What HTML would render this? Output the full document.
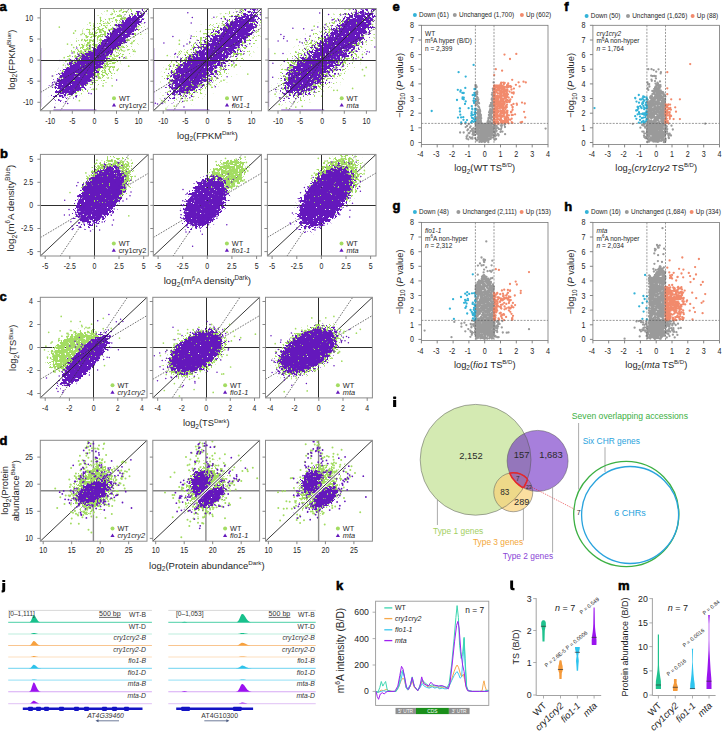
<!DOCTYPE html><html><head><meta charset="utf-8"><style>html,body{margin:0;padding:0;background:#fff;width:722px;height:731px;overflow:hidden}svg{display:block;font-family:"Liberation Sans",sans-serif}</style></head><body><svg width="722" height="731" viewBox="0 0 722 731"><defs><radialGradient id="rg"><stop offset="0" stop-opacity="1"/><stop offset="0.5" stop-opacity="1"/><stop offset="0.7" stop-opacity="0.5"/><stop offset="0.86" stop-opacity="0.15"/><stop offset="1" stop-opacity="0"/></radialGradient><radialGradient id="rgh"><stop offset="0" stop-opacity="1"/><stop offset="0.66" stop-opacity="1"/><stop offset="0.8" stop-opacity="0.5"/><stop offset="0.91" stop-opacity="0.15"/><stop offset="1" stop-opacity="0"/></radialGradient><filter id="spkP" x="-5%" y="-5%" width="110%" height="110%" color-interpolation-filters="sRGB"><feTurbulence type="fractalNoise" baseFrequency="0.45" numOctaves="2" seed="7" result="n"/><feColorMatrix in="n" type="matrix" values="0 0 0 0 0  0 0 0 0 0  0 0 0 0 0  2.1 0 0 0 -0.58" result="na"/><feComposite in="SourceAlpha" in2="na" operator="arithmetic" k1="0" k2="8" k3="-8" k4="0" result="t"/><feFlood flood-color="#6418bc"/><feComposite in2="t" operator="in"/></filter><filter id="spkG" x="-5%" y="-5%" width="110%" height="110%" color-interpolation-filters="sRGB"><feTurbulence type="fractalNoise" baseFrequency="0.45" numOctaves="2" seed="23" result="n"/><feColorMatrix in="n" type="matrix" values="0 0 0 0 0  0 0 0 0 0  0 0 0 0 0  2.1 0 0 0 -0.58" result="na"/><feComposite in="SourceAlpha" in2="na" operator="arithmetic" k1="0" k2="8" k3="-8" k4="0" result="t"/><feFlood flood-color="#a3dc62"/><feComposite in2="t" operator="in"/></filter></defs><clipPath id="clipa0"><rect x="40.4" y="8.5" width="108.1" height="102.3"/></clipPath><g clip-path="url(#clipa0)"><g filter="url(#spkG)"><ellipse cx="104.4" cy="46.1" rx="64" ry="30" transform="rotate(-47 104.4 46.1)" fill="url(#rg)" fill-opacity="0.42"/><ellipse cx="104.4" cy="70.1" rx="22" ry="13" transform="rotate(-55 104.4 70.1)" fill="url(#rg)" fill-opacity="0.28"/><ellipse cx="78.4" cy="74.1" rx="34" ry="24" transform="rotate(-45 78.4 74.1)" fill="url(#rg)" fill-opacity="0.35"/><ellipse cx="92.4" cy="40.1" rx="30" ry="14" transform="rotate(-60 92.4 40.1)" fill="url(#rg)" fill-opacity="0.2"/></g><path d="M81.6 82.4h0M122.8 18.7h0M99.4 77.1h0M73.7 33.2h0M63.4 65h0M135.1 51.5h0M63.5 86.5h0M127.2 33.2h0M127.6 40.1h0M80.1 75h0M119.6 11.1h0M76.2 85.1h0M93.2 89.2h0M141.2 17.3h0M132 42.3h0M69.9 55.5h0M65.8 61.3h0M70.4 72.5h0M88.9 81.3h0M81 34.6h0M114.2 11.2h0M86.3 36.7h0M93.1 80.5h0M127.9 19.9h0M127.9 49.8h0M133.4 51.2h0M93.2 29.1h0M72.4 81.2h0M96.5 89h0M121.6 46.6h0M128.7 66.2h0M79.4 88.4h0M69.9 62.7h0M86.1 84.9h0M96 75.6h0M70.6 61.1h0M69.2 58.9h0M112.2 85.8h0M67.5 44.1h0M60 77.8h0M119.8 14.8h0M111.6 59.5h0M134 36.9h0M119.4 50.6h0M82.6 33.4h0M93.4 75.5h0M82.1 39.7h0M61.6 86.5h0M75.4 30.8h0M117.2 70.3h0M74.4 92h0M127.3 39h0M89.9 22.9h0M100.4 17.5h0M121.1 10.3h0M73.7 47.5h0M125 24.4h0M74.2 65.2h0M79.4 100.7h0M59.3 27.1h0M64.2 57.7h0M68.3 75.4h0M71.7 44.8h0M111.5 14.4h0M73.5 51.9h0M54.9 107.5h0M131.8 43.6h0M75.6 77.2h0M75.8 75.2h0M54.6 87h0M109.2 18.8h0M75 56.6h0M103.4 67.9h0M103.1 85.9h0M72.6 67.7h0M121.9 50.5h0M108.3 77.8h0M107.2 10.8h0M133.7 28.7h0M127.7 22.4h0M124 51.1h0M126 57h0M138.1 26.7h0" stroke="#a3dc62" stroke-width="1.7" stroke-linecap="round" fill="none"/><g filter="url(#spkP)"><ellipse cx="118.4" cy="36.1" rx="48" ry="12" transform="rotate(-43.5 118.4 36.1)" fill="url(#rg)"/><ellipse cx="76.4" cy="76.1" rx="37" ry="19" transform="rotate(-43.5 76.4 76.1)" fill="url(#rg)"/><ellipse cx="94.4" cy="60.1" rx="22" ry="13" transform="rotate(-43.5 94.4 60.1)" fill="url(#rg)"/></g><path d="M94.6 76.1h0M67.7 64.1h0M91.6 80.2h0M54.2 82.1h0M65.6 101.7h0M87.2 81.7h0M119.5 57.6h0M79.6 55.4h0M58.7 94.3h0M59.6 80.3h0M76.3 97h0M78.7 56.2h0M52.5 85.1h0M79.4 87.8h0M52.3 75.9h0M60.6 86.1h0M58.3 91.4h0M101.5 51.7h0M91.2 93.7h0M96.7 76.8h0M82.2 54.8h0M88.8 93.3h0M76.8 57.9h0M72.1 53h0M70.6 59.7h0M107.5 46.9h0M59.9 60.4h0M99.1 48.6h0M96.1 65.4h0M73.8 90.4h0M61.7 73.2h0M93.5 78.4h0M54.7 107.2h0M87.1 82.3h0M57.4 80.3h0M84.2 55.6h0M61.8 76.3h0M92.8 77.5h0M67.7 103.4h0M116.6 80.1h0M124.2 57.7h0M56.1 82.2h0M92.3 75.2h0M71.1 94.1h0M95 57.5h0M59 99.9h0M76.8 48h0M89.6 45.9h0" stroke="#6418bc" stroke-width="1.5" stroke-linecap="round" fill="none"/><path d="M53.4 110.1H96.4" stroke="#6418bc" stroke-width="1.2" opacity="0.85"/><path d="M40.9 48.1V106.8" stroke="#6418bc" stroke-width="1" opacity="0.5"/><path d="M94.5 8.5V110.8M40.4 60.5H148.5" stroke="#2e2e2e" stroke-width="1.0" fill="none"/><path d="M40.4 110.8L148.5 8.5" stroke="#222" stroke-width="0.9" fill="none"/><path d="M40.4 92.5L148.5 27.7" stroke="#333" stroke-width="0.7" stroke-dasharray="1.6 1.3" fill="none"/><path d="M40.4 140.5L148.5 -20.4" stroke="#333" stroke-width="0.7" stroke-dasharray="1.6 1.3" fill="none"/></g><rect x="40.4" y="8.5" width="108.1" height="102.3" fill="none" stroke="#8a8a8a" stroke-width="1"/><text x="33.1" y="20.8" font-size="8.4" text-anchor="end" textLength="7.8" lengthAdjust="spacingAndGlyphs" fill="#1e1e1e">10</text><text x="33.1" y="41.9" font-size="8.4" text-anchor="end" textLength="3.9" lengthAdjust="spacingAndGlyphs" fill="#1e1e1e">5</text><text x="33.1" y="63" font-size="8.4" text-anchor="end" textLength="3.9" lengthAdjust="spacingAndGlyphs" fill="#1e1e1e">0</text><text x="33.1" y="84.1" font-size="8.4" text-anchor="end" textLength="6.2" lengthAdjust="spacingAndGlyphs" fill="#1e1e1e">-5</text><text x="33.1" y="105.2" font-size="8.4" text-anchor="end" textLength="10.1" lengthAdjust="spacingAndGlyphs" fill="#1e1e1e">-10</text><text x="50.2" y="124.1" font-size="8.4" text-anchor="middle" textLength="10.1" lengthAdjust="spacingAndGlyphs" fill="#1e1e1e">-10</text><text x="72.3" y="124.1" font-size="8.4" text-anchor="middle" textLength="6.2" lengthAdjust="spacingAndGlyphs" fill="#1e1e1e">-5</text><text x="94.4" y="124.1" font-size="8.4" text-anchor="middle" textLength="3.9" lengthAdjust="spacingAndGlyphs" fill="#1e1e1e">0</text><text x="116.5" y="124.1" font-size="8.4" text-anchor="middle" textLength="3.9" lengthAdjust="spacingAndGlyphs" fill="#1e1e1e">5</text><text x="138.6" y="124.1" font-size="8.4" text-anchor="middle" textLength="7.8" lengthAdjust="spacingAndGlyphs" fill="#1e1e1e">10</text><path d="M37.4 17.9H40.4M37.4 39H40.4M37.4 60.1H40.4M37.4 81.2H40.4M37.4 102.3H40.4M50.2 110.8V113.8M72.3 110.8V113.8M94.4 110.8V113.8M116.5 110.8V113.8M138.6 110.8V113.8" stroke="#7a7a7a" stroke-width="0.9" fill="none"/><circle cx="114" cy="98.2" r="2.0" fill="#a3dc62"/><path d="M114 103.1l2.1 3.5h-4.2z" fill="#6418bc"/><text x="118.9" y="100.8" font-size="7.3" fill="#1e1e1e">WT</text><text x="118.9" y="107.6" font-size="7.3" fill="#1e1e1e">cry1cry2</text><clipPath id="clipa1"><rect x="153.4" y="8.5" width="108.1" height="102.3"/></clipPath><g clip-path="url(#clipa1)"><g filter="url(#spkG)"><ellipse cx="213.4" cy="54.1" rx="76" ry="32" transform="rotate(-43.5 213.4 54.1)" fill="url(#rg)" fill-opacity="0.45"/><ellipse cx="187.4" cy="75.1" rx="28" ry="26" transform="rotate(-45 187.4 75.1)" fill="url(#rg)" fill-opacity="0.4"/></g><path d="M179.3 44.2h0M197.2 40.2h0M167.3 55.5h0M179.4 40.4h0M185.3 98h0M238.8 44h0M169.6 86.8h0M184.2 101h0M164.9 101.9h0M240.9 54.8h0M210.6 84.9h0M239.9 36.2h0M172.2 86.3h0M161.9 100.6h0M187 100.7h0M239 16h0M169.3 75.3h0M179.4 51.9h0M240.2 10h0M192.4 100.1h0M247.8 74.1h0M234.3 66.8h0M173.7 64.5h0M237.8 32.1h0M253.1 37.9h0M174.3 106.1h0M245 22h0M223.9 80.2h0M253.5 21.7h0M241.6 13.4h0M173.6 77.5h0M231.6 22.9h0M237.8 45.7h0M254.9 27.4h0M223.8 16.7h0M176.9 94.3h0M184.2 93.7h0M166.3 69.2h0M234.8 54.2h0M243.3 10.6h0M165.9 109h0M246.4 32.8h0M201.1 39.9h0M221.1 81h0M192.8 47.5h0M244.7 36.7h0" stroke="#a3dc62" stroke-width="1.7" stroke-linecap="round" fill="none"/><g filter="url(#spkP)"><ellipse cx="213.4" cy="54.1" rx="72" ry="24" transform="rotate(-43.5 213.4 54.1)" fill="url(#rg)" fill-opacity="0.6"/><ellipse cx="212.4" cy="55.1" rx="70" ry="13" transform="rotate(-43.5 212.4 55.1)" fill="url(#rg)" fill-opacity="0.9"/><ellipse cx="188.4" cy="76.1" rx="28" ry="21" transform="rotate(-45 188.4 76.1)" fill="url(#rg)" fill-opacity="0.7"/><ellipse cx="237.4" cy="31.1" rx="36" ry="16" transform="rotate(-43.5 237.4 31.1)" fill="url(#rg)" fill-opacity="0.75"/></g><path d="M234.5 22.2h0M157.5 104h0M227.2 20.2h0M246.5 46.5h0M209.1 81.4h0M191.2 36.1h0M189.7 42h0M215.3 86.8h0M243.6 54.1h0M155.4 103.3h0M238.5 28.2h0M175.5 53.6h0M184 107.1h0M250.6 21.5h0M183.8 46.1h0M217 74h0M227.1 76.8h0M235.8 25.3h0M187 44.1h0M191.2 23.1h0M190.6 38.2h0M192.3 17.5h0M209.1 79.4h0M239.1 34.8h0M172.9 36.4h0M216.1 72.1h0M182.5 90.6h0M187.8 12.8h0M241 37h0M182.7 101.5h0M209.8 78.9h0M233.9 62.9h0M247 19.2h0M244.9 26.6h0M226.4 60.4h0M185.5 90.3h0M174.8 54.3h0M189.8 97.7h0M214.3 75.9h0M162.1 103.5h0M237.5 54.7h0M175.1 87.5h0M257.4 9.8h0M236.8 24.9h0M170.5 66.2h0M181.7 90h0M174.5 95.7h0M213.9 17.2h0M239.2 47.1h0M230.1 53.1h0M163.9 43.1h0M221.3 18.5h0M249.8 43.8h0M217.4 78.1h0M230.9 56.3h0M196.1 86.4h0M236.3 18.8h0M243.9 13.9h0M242 37.9h0M232.5 105.3h0M220.8 66.3h0M177.5 57h0M202.2 86.3h0" stroke="#6418bc" stroke-width="1.5" stroke-linecap="round" fill="none"/><path d="M166.4 110.1H209.4" stroke="#6418bc" stroke-width="1.2" opacity="0.85"/><path d="M153.9 48.1V106.8" stroke="#6418bc" stroke-width="1" opacity="0.5"/><path d="M207.5 8.5V110.8M153.4 60.5H261.5" stroke="#2e2e2e" stroke-width="1.0" fill="none"/><path d="M153.4 110.8L261.5 8.5" stroke="#222" stroke-width="0.9" fill="none"/><path d="M153.4 92.5L261.5 27.7" stroke="#333" stroke-width="0.7" stroke-dasharray="1.6 1.3" fill="none"/><path d="M153.4 140.5L261.5 -20.4" stroke="#333" stroke-width="0.7" stroke-dasharray="1.6 1.3" fill="none"/></g><rect x="153.4" y="8.5" width="108.1" height="102.3" fill="none" stroke="#8a8a8a" stroke-width="1"/><text x="163.2" y="124.1" font-size="8.4" text-anchor="middle" textLength="10.1" lengthAdjust="spacingAndGlyphs" fill="#1e1e1e">-10</text><text x="185.3" y="124.1" font-size="8.4" text-anchor="middle" textLength="6.2" lengthAdjust="spacingAndGlyphs" fill="#1e1e1e">-5</text><text x="207.4" y="124.1" font-size="8.4" text-anchor="middle" textLength="3.9" lengthAdjust="spacingAndGlyphs" fill="#1e1e1e">0</text><text x="229.5" y="124.1" font-size="8.4" text-anchor="middle" textLength="3.9" lengthAdjust="spacingAndGlyphs" fill="#1e1e1e">5</text><text x="251.6" y="124.1" font-size="8.4" text-anchor="middle" textLength="7.8" lengthAdjust="spacingAndGlyphs" fill="#1e1e1e">10</text><path d="M150.4 17.9H153.4M150.4 39H153.4M150.4 60.1H153.4M150.4 81.2H153.4M150.4 102.3H153.4M163.2 110.8V113.8M185.3 110.8V113.8M207.4 110.8V113.8M229.5 110.8V113.8M251.6 110.8V113.8" stroke="#7a7a7a" stroke-width="0.9" fill="none"/><circle cx="227" cy="98.2" r="2.0" fill="#a3dc62"/><path d="M227 103.1l2.1 3.5h-4.2z" fill="#6418bc"/><text x="231.9" y="100.8" font-size="7.3" fill="#1e1e1e">WT</text><text x="231.9" y="107.6" font-size="7.3" font-style="italic" fill="#1e1e1e">fio1-1</text><clipPath id="clipa2"><rect x="268.2" y="8.5" width="108" height="102.3"/></clipPath><g clip-path="url(#clipa2)"><g filter="url(#spkG)"><ellipse cx="328.2" cy="54.1" rx="76" ry="32" transform="rotate(-43.5 328.2 54.1)" fill="url(#rg)" fill-opacity="0.45"/><ellipse cx="302.2" cy="75.1" rx="28" ry="26" transform="rotate(-45 302.2 75.1)" fill="url(#rg)" fill-opacity="0.4"/></g><path d="M337 27h0M321.9 96.2h0M296.9 39.5h0M286.4 108h0M302.2 106.3h0M307.2 42.4h0M372.5 24.6h0M314.2 26.2h0M347.8 19.3h0M359.1 36.5h0M279.3 104.3h0M336.8 28.6h0M369.9 20h0M352.6 59.2h0M286.3 69.9h0M360.7 41.8h0M362.2 37.7h0M341.2 27.6h0M352.3 50.8h0M351.7 28.7h0M364.5 75.7h0M366.2 67.4h0M360.9 59.3h0M355.8 23.4h0M333.8 90.3h0M326.3 23.9h0M291.2 61.6h0M322.7 91.1h0M328.4 27h0M362.5 69.7h0M358.4 57.5h0M305.8 48.6h0M352.6 88.4h0M311.6 40.7h0M275.1 94.2h0M370.1 19.2h0M298.5 95.5h0M274.9 53.5h0M291.2 72.7h0M339.7 75.3h0M294.5 66.9h0M358.2 29.1h0M353.9 33.3h0M339.7 20.7h0M295.8 107.1h0M362.4 54.4h0M366 41.8h0M352.2 54.7h0M337.3 90.3h0" stroke="#a3dc62" stroke-width="1.7" stroke-linecap="round" fill="none"/><g filter="url(#spkP)"><ellipse cx="328.2" cy="54.1" rx="72" ry="25" transform="rotate(-43.5 328.2 54.1)" fill="url(#rg)" fill-opacity="0.6"/><ellipse cx="327.2" cy="55.1" rx="70" ry="13" transform="rotate(-43.5 327.2 55.1)" fill="url(#rg)" fill-opacity="0.9"/><ellipse cx="303.2" cy="76.1" rx="28" ry="21" transform="rotate(-45 303.2 76.1)" fill="url(#rg)" fill-opacity="0.7"/><ellipse cx="352.2" cy="30.1" rx="38" ry="18" transform="rotate(-43.5 352.2 30.1)" fill="url(#rg)" fill-opacity="0.75"/></g><path d="M328.6 14.6h0M284 36.5h0M336.7 67.6h0M289.4 93.9h0M287 92.5h0M363.2 13.1h0M309.8 89h0M284.3 98.6h0M358.5 15.3h0M317.8 27h0M272.9 63.3h0M322.6 82.8h0M325.1 24.8h0M374.9 47h0M341.4 60.5h0M366.4 54h0M303.7 28.7h0M280.9 34.5h0M311.4 88.3h0M309.1 93.9h0M362.3 15.3h0M286.7 97h0M332.1 20.1h0M275.7 89.5h0M283 53.6h0M324.6 27.7h0M278.1 41.1h0M305.1 90.7h0M367.9 24.6h0M284.3 61.5h0M334 67.7h0M329.4 82.6h0M363.5 29.3h0M367.1 51.4h0M283.6 38.5h0M336 20.9h0M343.4 65.9h0M346.8 55.9h0M314.6 87.9h0M281.5 88.3h0M342.3 66.5h0M337.7 69.6h0M312 30.2h0M314.4 91.8h0M302.4 42.9h0M310.1 36h0M345 13.8h0M338.4 19.5h0M314 87.8h0M343.5 19.6h0M319.7 13.1h0M333.2 19.4h0M299.8 41.9h0M305.3 38.7h0M370.7 23.3h0M345.3 16.5h0M369.4 52.1h0M272.7 77.3h0M358.4 13h0M331.5 70.4h0M362.6 57.5h0M356 58.7h0M306.3 40.7h0M294.6 94.5h0M347.3 47.9h0M287.2 40.9h0M292.9 28.3h0M340.6 15.1h0M279.5 97.7h0M368.8 34.2h0" stroke="#6418bc" stroke-width="1.5" stroke-linecap="round" fill="none"/><path d="M281.2 110.1H324.2" stroke="#6418bc" stroke-width="1.2" opacity="0.85"/><path d="M268.7 48.1V106.8" stroke="#6418bc" stroke-width="1" opacity="0.5"/><path d="M322.5 8.5V110.8M268.2 60.5H376.2" stroke="#2e2e2e" stroke-width="1.0" fill="none"/><path d="M268.2 110.8L376.2 8.5" stroke="#222" stroke-width="0.9" fill="none"/><path d="M268.2 92.5L376.2 27.7" stroke="#333" stroke-width="0.7" stroke-dasharray="1.6 1.3" fill="none"/><path d="M268.2 140.6L376.2 -20.4" stroke="#333" stroke-width="0.7" stroke-dasharray="1.6 1.3" fill="none"/></g><rect x="268.2" y="8.5" width="108" height="102.3" fill="none" stroke="#8a8a8a" stroke-width="1"/><text x="278" y="124.1" font-size="8.4" text-anchor="middle" textLength="10.1" lengthAdjust="spacingAndGlyphs" fill="#1e1e1e">-10</text><text x="300.1" y="124.1" font-size="8.4" text-anchor="middle" textLength="6.2" lengthAdjust="spacingAndGlyphs" fill="#1e1e1e">-5</text><text x="322.2" y="124.1" font-size="8.4" text-anchor="middle" textLength="3.9" lengthAdjust="spacingAndGlyphs" fill="#1e1e1e">0</text><text x="344.3" y="124.1" font-size="8.4" text-anchor="middle" textLength="3.9" lengthAdjust="spacingAndGlyphs" fill="#1e1e1e">5</text><text x="366.4" y="124.1" font-size="8.4" text-anchor="middle" textLength="7.8" lengthAdjust="spacingAndGlyphs" fill="#1e1e1e">10</text><path d="M265.2 17.9H268.2M265.2 39H268.2M265.2 60.1H268.2M265.2 81.2H268.2M265.2 102.3H268.2M278 110.8V113.8M300.1 110.8V113.8M322.2 110.8V113.8M344.3 110.8V113.8M366.4 110.8V113.8" stroke="#7a7a7a" stroke-width="0.9" fill="none"/><circle cx="341.7" cy="98.2" r="2.0" fill="#a3dc62"/><path d="M341.7 103.1l2.1 3.5h-4.2z" fill="#6418bc"/><text x="346.6" y="100.8" font-size="7.3" fill="#1e1e1e">WT</text><text x="346.6" y="107.6" font-size="7.3" font-style="italic" fill="#1e1e1e">mta</text><clipPath id="clipb0"><rect x="40.4" y="154.4" width="107.9" height="101.6"/></clipPath><g clip-path="url(#clipb0)"><path d="M94.5 154.4V256M40.4 205.5H148.3" stroke="#2e2e2e" stroke-width="1.0" fill="none"/><path d="M40.4 256L148.3 154.4" stroke="#222" stroke-width="0.9" fill="none"/><path d="M40.4 237.6L148.3 173.3" stroke="#333" stroke-width="0.7" stroke-dasharray="1.6 1.3" fill="none"/><path d="M40.4 285.4L148.3 125.6" stroke="#333" stroke-width="0.7" stroke-dasharray="1.6 1.3" fill="none"/><g filter="url(#spkG)"><ellipse cx="107.4" cy="183.4" rx="36" ry="24" transform="rotate(-50 107.4 183.4)" fill="url(#rgh)" fill-opacity="0.8"/></g><path d="M85.7 194.3h0M88.7 186.7h0M99.8 210.2h0M119.5 167.8h0M105.3 202.9h0M99.8 168.2h0M99.3 208.8h0M98.8 166h0M117.6 167.6h0M115.9 161.9h0M81.4 197.3h0M84.3 205.8h0M119.6 164.4h0M87.6 185.8h0M119.2 200.3h0M128.8 175.3h0M89.5 192.3h0M89.6 175.8h0M88.2 184.4h0M85.9 172.9h0M112.3 160.3h0M102.3 164.9h0M121.2 160.6h0M103.5 201.6h0M85 206.1h0M90.2 187h0M86 183.8h0M128.5 163.2h0M112.6 204.6h0M128.8 215.8h0M91.2 181h0M70 192.5h0M115.1 203.4h0M123.6 188.9h0M118.2 165.5h0M108.3 161.5h0M117 168.1h0M97.7 205.7h0M126.6 181.6h0M95 198.3h0M123.9 170.6h0M86 200.8h0M90.7 181.8h0M129.3 166.6h0M128 158.5h0M92.2 197.9h0M135.1 176.3h0M98.7 210.8h0M95.5 202.7h0M112.1 165.7h0M94.7 179.4h0M120.4 186.5h0M95.1 164.1h0M95.7 177.5h0M126.1 187.8h0M120.5 189h0M109.5 198.7h0M102.8 205.3h0M91.2 180.4h0M121.5 196.9h0M98 166.3h0M106.2 199.6h0M96.9 160.2h0M128.8 183.6h0M86.6 201.3h0" stroke="#a3dc62" stroke-width="1.7" stroke-linecap="round" fill="none"/><g filter="url(#spkP)"><ellipse cx="100.4" cy="195.4" rx="41" ry="23" transform="rotate(-55 100.4 195.4)" fill="url(#rgh)"/></g><path d="M102.2 222.1h0M113.3 211.9h0M77.4 210.6h0M83.9 222.9h0M100.1 175.8h0M105.9 175.2h0M116 198.1h0M114.2 195.7h0M89 218.1h0M82.7 210.4h0M105.3 175h0M72.2 226h0M105.7 213.2h0M116.8 190.3h0M115.4 179.3h0M73.2 228.4h0M81.7 214.8h0M111.1 215.1h0M131 192h0M110.2 170h0M104.4 163.9h0M112.7 213h0M121.7 191.6h0M69 209.6h0M69.4 215h0M114.2 209.1h0M90.6 184.8h0M118.8 162.6h0M112.4 178.3h0M87.1 193.6h0M109 205.8h0M75.7 214h0M109.4 167.5h0M93.3 215.7h0M93.1 180.8h0M122.1 165.5h0M79.9 202.2h0M96.6 226.2h0M119.2 201.5h0M77.3 205.6h0M96.2 177.2h0M114.5 193.9h0M92.7 173.2h0M120.2 174.5h0M84.8 215.1h0M72.2 229.6h0M115.7 178.1h0M86.1 182.4h0M113.8 166h0M97.5 173.3h0M121.9 185h0M81.3 219.7h0M64.4 215h0M95.6 214.6h0M79.2 212.3h0M101.3 171.8h0M90.5 230.9h0M77.8 216.6h0M102.9 213.9h0M130 195.8h0M123 200.9h0M107.3 166.8h0M116.2 196h0M78.8 201.1h0M113 177.2h0M116.1 169.8h0M115.3 165.5h0M104.1 209.7h0M83.7 207.2h0M78 182.5h0M70.9 221.8h0M91.4 219.6h0M97.7 218.1h0M112.1 201.9h0M116.2 199.4h0M126.7 199.1h0M118.9 185.7h0M78 209.8h0M111.3 204h0M130.7 180.3h0M121.2 186.3h0M83.1 187h0M87.4 189.5h0M64.7 200.3h0M112.3 225h0M108.6 174.1h0M80.2 217.9h0M118.2 170.6h0M93.1 184h0M120.2 199.4h0M124.5 191.9h0M79.1 227.1h0M117.7 169.3h0M99.6 230.1h0M113.5 220.1h0M93.5 216.6h0M80.2 218h0M114.7 181.7h0M76.7 185.8h0" stroke="#6418bc" stroke-width="1.5" stroke-linecap="round" fill="none"/></g><rect x="40.4" y="154.4" width="107.9" height="101.6" fill="none" stroke="#8a8a8a" stroke-width="1"/><text x="33.1" y="162.2" font-size="8.4" text-anchor="end" textLength="3.9" lengthAdjust="spacingAndGlyphs" fill="#1e1e1e">5</text><text x="33.1" y="185.2" font-size="8.4" text-anchor="end" textLength="9.7" lengthAdjust="spacingAndGlyphs" fill="#1e1e1e">2.5</text><text x="33.1" y="208.3" font-size="8.4" text-anchor="end" textLength="3.9" lengthAdjust="spacingAndGlyphs" fill="#1e1e1e">0</text><text x="33.1" y="231.4" font-size="8.4" text-anchor="end" textLength="12" lengthAdjust="spacingAndGlyphs" fill="#1e1e1e">-2.5</text><text x="33.1" y="254.5" font-size="8.4" text-anchor="end" textLength="6.2" lengthAdjust="spacingAndGlyphs" fill="#1e1e1e">-5</text><text x="45.2" y="269.2" font-size="8.4" text-anchor="middle" textLength="6.2" lengthAdjust="spacingAndGlyphs" fill="#1e1e1e">-5</text><text x="69.8" y="269.2" font-size="8.4" text-anchor="middle" textLength="12" lengthAdjust="spacingAndGlyphs" fill="#1e1e1e">-2.5</text><text x="94.4" y="269.2" font-size="8.4" text-anchor="middle" textLength="3.9" lengthAdjust="spacingAndGlyphs" fill="#1e1e1e">0</text><text x="119" y="269.2" font-size="8.4" text-anchor="middle" textLength="9.7" lengthAdjust="spacingAndGlyphs" fill="#1e1e1e">2.5</text><text x="143.7" y="269.2" font-size="8.4" text-anchor="middle" textLength="3.9" lengthAdjust="spacingAndGlyphs" fill="#1e1e1e">5</text><path d="M37.4 159.2H40.4M37.4 182.3H40.4M37.4 205.4H40.4M37.4 228.5H40.4M37.4 251.6H40.4M45.2 256V259M69.8 256V259M94.4 256V259M119 256V259M143.7 256V259" stroke="#7a7a7a" stroke-width="0.9" fill="none"/><circle cx="113.8" cy="243.4" r="2.0" fill="#a3dc62"/><path d="M113.8 248.3l2.1 3.5h-4.2z" fill="#6418bc"/><text x="118.7" y="246" font-size="7.3" fill="#1e1e1e">WT</text><text x="118.7" y="252.8" font-size="7.3" fill="#1e1e1e">cry1cry2</text><clipPath id="clipb1"><rect x="153.3" y="154.4" width="108.1" height="101.6"/></clipPath><g clip-path="url(#clipb1)"><path d="M207.5 154.4V256M153.3 205.5H261.4" stroke="#2e2e2e" stroke-width="1.0" fill="none"/><path d="M153.3 256L261.4 154.4" stroke="#222" stroke-width="0.9" fill="none"/><path d="M153.3 237.5L261.4 173.2" stroke="#333" stroke-width="0.7" stroke-dasharray="1.6 1.3" fill="none"/><path d="M153.3 285.2L261.4 125.4" stroke="#333" stroke-width="0.7" stroke-dasharray="1.6 1.3" fill="none"/><g filter="url(#spkG)"><ellipse cx="227.3" cy="175.4" rx="26" ry="17" transform="rotate(-35 227.3 175.4)" fill="url(#rgh)" fill-opacity="0.8"/></g><path d="M205 185.4h0M225.7 163.3h0M227.7 163.2h0M216.1 161.5h0M217.5 172.7h0M241.2 166.9h0M227 192.2h0M230.8 186h0M244.3 179.8h0M245.2 171.5h0M242.7 180.7h0M247.9 166.6h0M246.4 162.4h0M245.3 182h0M224.1 192.8h0M225.3 189.5h0M245.1 157.1h0M240.7 181.2h0M239.2 168.1h0M204.8 181.8h0M218.1 198.2h0M215.8 188.3h0M243.1 170h0M240.9 162.2h0M217.7 184.7h0M229 164h0M223.9 162.8h0M235.6 165.1h0M207.6 174.2h0M234.7 164.9h0M231.6 188.6h0M216.1 174.6h0M237.1 186.2h0M221 200.9h0M233.2 182h0M215.3 178h0M225.5 158.3h0M247.8 170.9h0M214.6 171.8h0M229.5 163h0M223.3 164.8h0M218.5 171h0M234.6 185.7h0M225.3 186h0M205.2 181.3h0M239.4 166.3h0M233.1 186.3h0M234.9 164.2h0M213.1 179.1h0M232.3 162.8h0M218.2 191.9h0M234.8 181.3h0M205 188.2h0" stroke="#a3dc62" stroke-width="1.7" stroke-linecap="round" fill="none"/><g filter="url(#spkP)"><ellipse cx="205.3" cy="202.4" rx="35" ry="22" transform="rotate(-55 205.3 202.4)" fill="url(#rgh)"/></g><path d="M228.4 178.9h0M192.6 246.2h0M213.7 213h0M228.2 174h0M189.5 232h0M224.7 198h0M217.4 189.1h0M221.6 193.8h0M202.3 234.2h0M195.3 219.4h0M208.3 219.4h0M222.8 179.2h0M209.1 179.8h0M188.1 201.5h0M200 185.5h0M199.7 189.6h0M186.1 226h0M191.8 217.4h0M190.8 225h0M190.9 220.6h0M183 189.4h0M200.3 228.2h0M199.7 219.3h0M207.8 184.2h0M206.6 178.4h0M204.2 180.7h0M218.9 209.3h0M203 221h0M197.7 190h0M202.9 181.2h0M209 218.2h0M197.6 223.1h0M187.7 203.1h0M218.8 192.2h0M215.8 210.4h0M203.8 184.9h0M216.9 218.3h0M185.2 208.7h0M205.5 182h0M186 231.9h0M211 219.2h0M180.6 217.5h0M220.7 180.9h0M205.2 180.3h0M190 200.5h0M187.1 193.6h0M208.6 224.7h0M180.5 210.6h0M195 216.1h0M191.6 210.6h0M233.2 179.6h0M220.4 197.2h0M199.2 217.7h0M186.5 211h0M190.7 197.4h0M206.6 175.7h0M219.4 188.9h0M202 182.6h0M208.3 185.4h0M196.6 181.8h0M226.8 224.7h0M194.1 222.9h0M214.1 184h0M219.2 179.5h0M220.3 194.2h0M218.6 193h0M208 218.4h0M190.5 203.5h0M222.8 194.1h0M202 186.1h0M216.8 175.6h0M212.4 219.4h0M231.7 182h0M185.8 217h0M211.7 175.1h0M197.2 217.3h0M213.9 211.5h0M182.8 200.7h0M202.8 217.5h0M190 218.9h0M209.1 214.3h0M203.5 188.4h0M198.4 217.9h0M217.1 189.7h0M213.9 183.7h0M181.1 214.8h0M196.9 190.7h0M194.3 198.1h0M224.3 197.1h0M213.4 219.7h0M212.5 213.2h0M211.5 214.8h0M225.1 202.8h0M192.7 218.7h0" stroke="#6418bc" stroke-width="1.5" stroke-linecap="round" fill="none"/></g><rect x="153.3" y="154.4" width="108.1" height="101.6" fill="none" stroke="#8a8a8a" stroke-width="1"/><text x="158.1" y="269.2" font-size="8.4" text-anchor="middle" textLength="6.2" lengthAdjust="spacingAndGlyphs" fill="#1e1e1e">-5</text><text x="182.7" y="269.2" font-size="8.4" text-anchor="middle" textLength="12" lengthAdjust="spacingAndGlyphs" fill="#1e1e1e">-2.5</text><text x="207.3" y="269.2" font-size="8.4" text-anchor="middle" textLength="3.9" lengthAdjust="spacingAndGlyphs" fill="#1e1e1e">0</text><text x="231.9" y="269.2" font-size="8.4" text-anchor="middle" textLength="9.7" lengthAdjust="spacingAndGlyphs" fill="#1e1e1e">2.5</text><text x="256.6" y="269.2" font-size="8.4" text-anchor="middle" textLength="3.9" lengthAdjust="spacingAndGlyphs" fill="#1e1e1e">5</text><path d="M150.3 159.2H153.3M150.3 182.3H153.3M150.3 205.4H153.3M150.3 228.5H153.3M150.3 251.6H153.3M158.1 256V259M182.7 256V259M207.3 256V259M231.9 256V259M256.6 256V259" stroke="#7a7a7a" stroke-width="0.9" fill="none"/><circle cx="226.9" cy="243.4" r="2.0" fill="#a3dc62"/><path d="M226.9 248.3l2.1 3.5h-4.2z" fill="#6418bc"/><text x="231.8" y="246" font-size="7.3" fill="#1e1e1e">WT</text><text x="231.8" y="252.8" font-size="7.3" font-style="italic" fill="#1e1e1e">fio1-1</text><clipPath id="clipb2"><rect x="267.4" y="154.4" width="108.6" height="101.6"/></clipPath><g clip-path="url(#clipb2)"><path d="M321.5 154.4V256M267.4 205.5H376" stroke="#2e2e2e" stroke-width="1.0" fill="none"/><path d="M267.4 256L376 154.4" stroke="#222" stroke-width="0.9" fill="none"/><path d="M267.4 237.4L376 173" stroke="#333" stroke-width="0.7" stroke-dasharray="1.6 1.3" fill="none"/><path d="M267.4 284.9L376 125" stroke="#333" stroke-width="0.7" stroke-dasharray="1.6 1.3" fill="none"/><g filter="url(#spkG)"><ellipse cx="334.4" cy="184.4" rx="40" ry="25" transform="rotate(-52 334.4 184.4)" fill="url(#rgh)" fill-opacity="0.8"/></g><path d="M305.8 196.7h0M318.3 158.3h0M318.3 214.7h0M354.6 179.5h0M308.8 206.2h0M322.5 167.2h0M313.4 202.8h0M352.7 179.1h0M351.9 175.3h0M327.2 160.9h0M323.1 200.4h0M346.6 164.3h0M341.2 161.9h0M326.8 208.3h0M345.3 197h0M330.8 208.2h0M312.3 192.2h0M317.7 208.4h0M318 196.1h0M364.1 173.8h0M349.2 194.1h0M364.4 170.3h0M340.9 159.2h0M360.1 181.2h0M353.6 167.3h0M343 197.5h0M337.1 206.3h0M348.6 169.4h0M328.9 162.6h0M360.6 168.2h0M340.1 166.1h0M325.9 167.3h0M311.9 175.5h0M336.4 203.4h0M324.6 167.1h0M333.9 161.7h0M316.8 174.1h0M347.1 169h0M312 218.3h0M347.4 167.5h0M338.1 197.5h0M312.2 188.7h0M323.6 203.9h0M351.8 171.7h0M325 161.1h0M332.7 204.4h0M344.4 166.6h0M349.3 174.3h0M312.9 193h0M341.8 158.1h0M321.6 199.4h0M348.5 188.3h0M314.4 173h0M352.2 179.3h0M309.5 208.4h0M333.5 201.3h0M324.1 177.8h0M327.3 173.9h0M348.6 195.1h0" stroke="#a3dc62" stroke-width="1.7" stroke-linecap="round" fill="none"/><g filter="url(#spkP)"><ellipse cx="325.4" cy="197.4" rx="45" ry="24" transform="rotate(-52 325.4 197.4)" fill="url(#rgh)"/></g><path d="M307.9 196.4h0M341.4 195.3h0M309.3 194.6h0M319.2 227h0M312.7 217.9h0M339.8 214.7h0M314.8 191.3h0M340.3 205.1h0M360.4 191.3h0M326.5 218.3h0M309.1 194.5h0M331.7 162.1h0M338.1 178.7h0M340.9 175.6h0M336.7 206.4h0M350 210.2h0M347.7 174.6h0M352.9 174.3h0M296.9 227.9h0M333.8 177h0M341.3 209.5h0M346.7 173h0M290.7 224h0M319.9 219.9h0M313.2 177.4h0M349.3 163.7h0M311.9 217.7h0M313 223.5h0M359.4 186.5h0M292.4 212.9h0M340 180.4h0M316.3 184.7h0M319.2 217.3h0M303.4 221.1h0M324.2 214.7h0M307.1 195.7h0M342.6 198.4h0M303.7 220.2h0M350.7 178.8h0M357.6 188.5h0M360.6 181.6h0M306.5 211.9h0M332.3 209.4h0M301.3 197.8h0M304.4 187.4h0M341.8 186.4h0M321.9 218.5h0M299 206.1h0M347.8 175.4h0M341.8 174.1h0M304.1 206.7h0M345.7 174.8h0M319.9 218.5h0M316.8 220.2h0M318 218h0M356.1 162.1h0M352.5 203.3h0M315 230.1h0M306 198.5h0M325.3 218.3h0M306.8 199.3h0M333.1 217.4h0M334.2 212.3h0M303.8 208.7h0M290.1 223h0M310.1 198.4h0M336.9 175.7h0M343.7 186.4h0M318.9 185.5h0M328.5 175.4h0M312.3 193.7h0M336.2 167h0M342.3 185.7h0M350.1 198.1h0M300.5 192.8h0M324.5 215.4h0M317.9 217.7h0M352.3 182.7h0M315.4 227.6h0M304.1 205h0M299.3 201h0M311.6 218.3h0M306.3 193h0M335.6 215.7h0M321.5 217.7h0M319 219.6h0M319.8 227.5h0M339.8 207.5h0M360.8 176.5h0M328.4 212.6h0M313 215.1h0M312.8 182.4h0M311.7 221.6h0M324.2 176.2h0M353.4 176.9h0M323.9 225.2h0M349.7 216.9h0M343.9 188.6h0M301 223.3h0M322.4 215.9h0" stroke="#6418bc" stroke-width="1.5" stroke-linecap="round" fill="none"/></g><rect x="267.4" y="154.4" width="108.6" height="101.6" fill="none" stroke="#8a8a8a" stroke-width="1"/><text x="272.1" y="269.2" font-size="8.4" text-anchor="middle" textLength="6.2" lengthAdjust="spacingAndGlyphs" fill="#1e1e1e">-5</text><text x="296.8" y="269.2" font-size="8.4" text-anchor="middle" textLength="12" lengthAdjust="spacingAndGlyphs" fill="#1e1e1e">-2.5</text><text x="321.4" y="269.2" font-size="8.4" text-anchor="middle" textLength="3.9" lengthAdjust="spacingAndGlyphs" fill="#1e1e1e">0</text><text x="346" y="269.2" font-size="8.4" text-anchor="middle" textLength="9.7" lengthAdjust="spacingAndGlyphs" fill="#1e1e1e">2.5</text><text x="370.6" y="269.2" font-size="8.4" text-anchor="middle" textLength="3.9" lengthAdjust="spacingAndGlyphs" fill="#1e1e1e">5</text><path d="M264.4 159.2H267.4M264.4 182.3H267.4M264.4 205.4H267.4M264.4 228.5H267.4M264.4 251.6H267.4M272.1 256V259M296.8 256V259M321.4 256V259M346 256V259M370.6 256V259" stroke="#7a7a7a" stroke-width="0.9" fill="none"/><circle cx="341.5" cy="243.4" r="2.0" fill="#a3dc62"/><path d="M341.5 248.3l2.1 3.5h-4.2z" fill="#6418bc"/><text x="346.4" y="246" font-size="7.3" fill="#1e1e1e">WT</text><text x="346.4" y="252.8" font-size="7.3" font-style="italic" fill="#1e1e1e">mta</text><clipPath id="clipc0"><rect x="40.3" y="297.3" width="106.7" height="100.6"/></clipPath><g clip-path="url(#clipc0)"><path d="M93.5 297.3V397.9M40.3 347.5H147" stroke="#2e2e2e" stroke-width="1.0" fill="none"/><g filter="url(#spkG)"><ellipse cx="75.6" cy="351.5" rx="34" ry="21" transform="rotate(-30 75.6 351.5)" fill="url(#rgh)" fill-opacity="0.9"/></g><path d="M90.6 337.1h0M65.4 372.6h0M102.2 339.2h0M104.4 337h0M61.2 316.4h0M103.3 318.3h0M80.2 321.5h0M90.3 356.4h0M81.7 325.3h0M67.4 379h0M83.4 366h0M89.3 332.7h0M67.5 377.9h0M87 360.1h0M69.3 338.6h0M61.4 343.3h0M86 336.5h0M95.9 355.8h0M44.5 349.8h0M104.5 365.6h0M82.1 326.6h0M86 327.4h0M61.3 346.4h0M68.3 334.9h0M60.1 330.8h0M103.6 342h0M48.7 332.3h0M86.8 360.2h0M119.5 338.1h0M67 333.4h0M89.5 335.8h0M102.1 355.1h0M102.1 348.8h0M47.5 357.2h0M89.5 336.7h0M91.6 324.2h0M72.9 336.8h0M79.3 367.8h0M74.6 374.9h0M70.5 330.3h0M92.7 333.3h0M56.7 366.1h0M71 321.4h0M45.9 346.2h0M57.8 347.5h0M54.2 351.9h0M98.6 349.7h0M80.6 369.8h0M89.5 327.7h0M88 328.1h0M88.6 361.1h0M58.9 349.7h0M92 331.6h0M94.5 341.7h0M62.3 382.8h0M69.9 370.1h0M67 340h0M75.2 369.5h0M76.7 333.4h0M84.2 363.9h0M81.2 333h0M93.9 333.5h0M83.7 367.8h0M51 343.1h0M51.6 351.6h0M61.9 336.2h0M91.2 356.8h0M103.7 339h0M95.4 334.4h0M61.1 365.4h0M99.7 351.9h0M86.5 360h0M59.1 370.3h0M111.3 328.4h0M103.2 328.7h0M68.6 339.1h0M68 333.3h0M67.9 339.6h0M70.4 379.9h0M97.1 340.1h0M76.1 373.6h0M102.2 349h0M55.7 347.2h0M50.6 358h0M71.4 330.5h0M75.5 334.4h0M95.9 331.9h0M79.9 378.5h0M74.1 332.1h0M95.9 347.6h0M52.1 341.9h0M82.2 334.1h0M59.1 338.7h0M65.1 370.1h0M91.2 338.5h0M66.5 339.6h0M55 368.6h0M52.8 356.2h0" stroke="#a3dc62" stroke-width="1.7" stroke-linecap="round" fill="none"/><g filter="url(#spkP)"><ellipse cx="85.1" cy="359.5" rx="42" ry="13" transform="rotate(-47.7 85.1 359.5)" fill="url(#rgh)"/></g><path d="M65.9 381.1h0M81.6 343.9h0M103.6 351.2h0M65.9 385.6h0M56.6 388.4h0M93.4 341h0M120.6 319.3h0M96.3 334.1h0M67.5 358.6h0M82.4 376.1h0M110.9 347.5h0M89.4 374.9h0M65.3 380.9h0M89.3 367.6h0M64.8 370.1h0M89.7 369.4h0M65.6 373h0M75.2 355.8h0M69.8 346.1h0M79.3 337.4h0M102.4 351.9h0M62.6 392.7h0M95.1 361.7h0M118.4 349.8h0M92.6 340.7h0M107.1 357.2h0M67.2 374.9h0M108.9 314.4h0M66.5 367.5h0M58 391.5h0M118.8 324.3h0M89.3 369.6h0M94.6 363.5h0M64.4 383.2h0M103.9 346.7h0M76.9 381.5h0M77.1 344.2h0M111.8 343h0M66.7 375.1h0M68.5 385.2h0M68.7 366.4h0M80.2 351.8h0M107.8 350.3h0M108.4 330.1h0M75 341.3h0M46.5 377.9h0M99 338.1h0M116.3 321.7h0M59.2 376.1h0M107.4 338.2h0M63.2 390.7h0M80.5 351h0M109.8 342.6h0M97.7 320.8h0M75.5 347h0M97.6 369.9h0M79.6 348.9h0M103.7 359.6h0M68.1 370.5h0M75.2 355.2h0M63.4 383.6h0M122.9 321.5h0M98.8 338.5h0M105.9 332.9h0M109.3 357.4h0M57.3 383.2h0M82.7 344.9h0" stroke="#6418bc" stroke-width="1.5" stroke-linecap="round" fill="none"/><path d="M40.3 397.9L147 297.3" stroke="#222" stroke-width="0.9" fill="none"/><path d="M40.3 379.3L147 315.6" stroke="#333" stroke-width="0.7" stroke-dasharray="1.6 1.3" fill="none"/><path d="M40.3 426.5L147 268.3" stroke="#333" stroke-width="0.7" stroke-dasharray="1.6 1.3" fill="none"/></g><rect x="40.3" y="297.3" width="106.7" height="100.6" fill="none" stroke="#8a8a8a" stroke-width="1"/><text x="33" y="304.4" font-size="8.4" text-anchor="end" textLength="3.9" lengthAdjust="spacingAndGlyphs" fill="#1e1e1e">4</text><text x="33" y="327.4" font-size="8.4" text-anchor="end" textLength="3.9" lengthAdjust="spacingAndGlyphs" fill="#1e1e1e">2</text><text x="33" y="350.4" font-size="8.4" text-anchor="end" textLength="3.9" lengthAdjust="spacingAndGlyphs" fill="#1e1e1e">0</text><text x="33" y="373.4" font-size="8.4" text-anchor="end" textLength="6.2" lengthAdjust="spacingAndGlyphs" fill="#1e1e1e">-2</text><text x="33" y="396.4" font-size="8.4" text-anchor="end" textLength="6.2" lengthAdjust="spacingAndGlyphs" fill="#1e1e1e">-4</text><text x="45.2" y="411.2" font-size="8.4" text-anchor="middle" textLength="6.2" lengthAdjust="spacingAndGlyphs" fill="#1e1e1e">-4</text><text x="69.4" y="411.2" font-size="8.4" text-anchor="middle" textLength="6.2" lengthAdjust="spacingAndGlyphs" fill="#1e1e1e">-2</text><text x="93.6" y="411.2" font-size="8.4" text-anchor="middle" textLength="3.9" lengthAdjust="spacingAndGlyphs" fill="#1e1e1e">0</text><text x="117.8" y="411.2" font-size="8.4" text-anchor="middle" textLength="3.9" lengthAdjust="spacingAndGlyphs" fill="#1e1e1e">2</text><text x="142" y="411.2" font-size="8.4" text-anchor="middle" textLength="3.9" lengthAdjust="spacingAndGlyphs" fill="#1e1e1e">4</text><path d="M37.3 301.5H40.3M37.3 324.5H40.3M37.3 347.5H40.3M37.3 370.5H40.3M37.3 393.5H40.3M45.2 397.9V400.9M69.4 397.9V400.9M93.6 397.9V400.9M117.8 397.9V400.9M142 397.9V400.9" stroke="#7a7a7a" stroke-width="0.9" fill="none"/><circle cx="112.5" cy="385.3" r="2.0" fill="#a3dc62"/><path d="M112.5 390.2l2.1 3.5h-4.2z" fill="#6418bc"/><text x="117.4" y="387.9" font-size="7.3" fill="#1e1e1e">WT</text><text x="117.4" y="394.7" font-size="7.3" font-style="italic" fill="#1e1e1e">cry1cry2</text><clipPath id="clipc1"><rect x="152.8" y="297.3" width="106.8" height="100.6"/></clipPath><g clip-path="url(#clipc1)"><path d="M206.5 297.3V397.9M152.8 347.5H259.6" stroke="#2e2e2e" stroke-width="1.0" fill="none"/><path d="M152.8 397.9L259.6 297.3" stroke="#222" stroke-width="0.9" fill="none"/><path d="M152.8 379.3L259.6 315.6" stroke="#333" stroke-width="0.7" stroke-dasharray="1.6 1.3" fill="none"/><path d="M152.8 426.5L259.6 268.2" stroke="#333" stroke-width="0.7" stroke-dasharray="1.6 1.3" fill="none"/><g filter="url(#spkG)"><ellipse cx="196.1" cy="352.5" rx="39" ry="23" transform="rotate(-32 196.1 352.5)" fill="url(#rgh)" fill-opacity="0.85"/></g><path d="M187.6 329.5h0M221.6 345.4h0M215.8 344.8h0M198.7 378.1h0M227 332.2h0M234.5 336.3h0M215.5 354.2h0M208.5 335.5h0M215 355.6h0M205 366.8h0M240.7 337.7h0M180.4 371.2h0M230.6 367h0M210.3 327.7h0M194.1 338.4h0M214.9 351.5h0M224.8 349.7h0M214.7 360.8h0M224.6 328.8h0M233.3 331.3h0M189.9 339.9h0M184.4 370.7h0M178 333.8h0M213.2 338.3h0M180 334.1h0M196.1 368h0M178.4 368.4h0M198.8 327.3h0M216.5 353.5h0M229.6 324.4h0M255.4 334.2h0M187.5 333.2h0M187.1 341.3h0M160.4 355.7h0M173.4 371.8h0M174.2 344h0M181 372.2h0M194 377.3h0M189.9 336.8h0M173.9 369.3h0M173.4 339.5h0M182.4 344.4h0M164.3 390.5h0M209.5 334.8h0M174 345.7h0M213.5 328.1h0M227 355.2h0M183.8 375.5h0M211.6 324.4h0M189.5 379.3h0M226.3 340.3h0M221.8 374.1h0M209.2 362.9h0M221 354.9h0M168.1 367.9h0M223.6 373.9h0M222 356.6h0M177.2 351.3h0M204.1 336h0M166.8 350.2h0M181.7 340.8h0M193.1 329.7h0M194.1 389.5h0M166.3 374.4h0M208.8 369.1h0M169.8 371.6h0M180.5 386.8h0M200.7 366.1h0M174.4 383.6h0M182.3 368.6h0M200.2 330.8h0M173.7 372.3h0M178.3 338.5h0M178.1 330.3h0M213.2 392.4h0M191.6 336.8h0M176.3 343.8h0M214.9 360.1h0M231.4 340.9h0M187 370.5h0M181.8 347.2h0M209.7 358.5h0M218.2 356.1h0M163.4 343.1h0M206.1 335.3h0M179.4 396h0" stroke="#a3dc62" stroke-width="1.7" stroke-linecap="round" fill="none"/><g filter="url(#spkP)"><ellipse cx="196.1" cy="352" rx="36.5" ry="21" transform="rotate(-32 196.1 352)" fill="url(#rgh)"/></g><path d="M176.1 361.5h0M215 347.1h0M208.4 333.2h0M187.5 342h0M179.4 345.5h0M192.7 333h0M192.1 373.3h0M214.4 341.5h0M208.9 332.9h0M165.7 351.8h0M214.2 327.2h0M210.8 354.4h0M200 332h0M220.8 360.1h0M194.9 381.4h0M178.6 366.8h0M166.9 350.3h0M173.8 359.8h0M173 327.3h0M182.5 345h0M179.1 364.2h0M177.8 360.5h0M162.2 360.5h0M193.3 371.1h0M190.4 332.6h0M166.5 372.4h0M213.7 336.6h0M212.1 352.5h0M183.4 385.5h0M217 372.3h0M166.5 358.2h0M214.7 349.9h0M214.7 337.4h0M176.3 376.7h0M184.7 344.5h0M176.7 362.5h0M197.6 329h0M239.7 339.8h0M190.7 339h0M196.6 331.1h0M228.2 350.1h0M202.7 363.2h0M170.1 367.6h0M194 333.8h0M215.5 332.6h0M171.7 377.7h0M203 334.8h0M169.9 363.4h0M184 367.4h0M171 377.1h0M163.3 369.2h0M174.9 339.8h0M194.2 370.4h0M170.7 364.9h0M217.1 338h0M171 350.8h0M210 324.4h0M172.9 358.9h0M225.6 333.6h0M221.1 349.2h0M228.6 348.7h0M214 350.4h0M190.5 369h0M216.2 337.8h0M159.7 353h0M196.3 370.2h0M194.4 376.2h0M176.5 354.5h0M181.4 370.7h0M222.9 336h0M177 358.6h0M222.7 329.8h0M157.5 380.8h0M209.6 328.4h0M218.5 350.5h0M214.9 328.7h0M175.2 362h0M218.1 328.7h0M165.8 378.6h0M228.7 341.5h0M175.1 357.3h0M198.4 336.5h0M207.1 321.6h0M154.3 355.8h0M195 383h0M182 335.4h0M208.4 331.3h0M219.7 336h0M173.6 368h0M207.3 371.2h0M160 366.7h0M182.2 386.7h0" stroke="#6418bc" stroke-width="1.5" stroke-linecap="round" fill="none"/></g><rect x="152.8" y="297.3" width="106.8" height="100.6" fill="none" stroke="#8a8a8a" stroke-width="1"/><text x="157.7" y="411.2" font-size="8.4" text-anchor="middle" textLength="6.2" lengthAdjust="spacingAndGlyphs" fill="#1e1e1e">-4</text><text x="181.9" y="411.2" font-size="8.4" text-anchor="middle" textLength="6.2" lengthAdjust="spacingAndGlyphs" fill="#1e1e1e">-2</text><text x="206.1" y="411.2" font-size="8.4" text-anchor="middle" textLength="3.9" lengthAdjust="spacingAndGlyphs" fill="#1e1e1e">0</text><text x="230.3" y="411.2" font-size="8.4" text-anchor="middle" textLength="3.9" lengthAdjust="spacingAndGlyphs" fill="#1e1e1e">2</text><text x="254.5" y="411.2" font-size="8.4" text-anchor="middle" textLength="3.9" lengthAdjust="spacingAndGlyphs" fill="#1e1e1e">4</text><path d="M149.8 301.5H152.8M149.8 324.5H152.8M149.8 347.5H152.8M149.8 370.5H152.8M149.8 393.5H152.8M157.7 397.9V400.9M181.9 397.9V400.9M206.1 397.9V400.9M230.3 397.9V400.9M254.5 397.9V400.9" stroke="#7a7a7a" stroke-width="0.9" fill="none"/><circle cx="225.1" cy="385.3" r="2.0" fill="#a3dc62"/><path d="M225.1 390.2l2.1 3.5h-4.2z" fill="#6418bc"/><text x="230" y="387.9" font-size="7.3" fill="#1e1e1e">WT</text><text x="230" y="394.7" font-size="7.3" font-style="italic" fill="#1e1e1e">fio1-1</text><clipPath id="clipc2"><rect x="265.5" y="297.3" width="106.9" height="100.6"/></clipPath><g clip-path="url(#clipc2)"><path d="M318.5 297.3V397.9M265.5 347.5H372.4" stroke="#2e2e2e" stroke-width="1.0" fill="none"/><path d="M265.5 397.9L372.4 297.3" stroke="#222" stroke-width="0.9" fill="none"/><path d="M265.5 379.3L372.4 315.5" stroke="#333" stroke-width="0.7" stroke-dasharray="1.6 1.3" fill="none"/><path d="M265.5 426.4L372.4 268.2" stroke="#333" stroke-width="0.7" stroke-dasharray="1.6 1.3" fill="none"/><g filter="url(#spkG)"><ellipse cx="307.8" cy="350.5" rx="42" ry="24" transform="rotate(-32 307.8 350.5)" fill="url(#rgh)" fill-opacity="0.85"/></g><path d="M325.7 356.1h0M334.4 350.5h0M318.6 364.9h0M289.9 369.2h0M325.8 317.8h0M330.1 335.6h0M287 354h0M285.3 371.2h0M286.2 358.1h0M332.7 343h0M320.9 357.2h0M338.5 352.8h0M304.9 330.6h0M331 352.9h0M296.3 341.7h0M276.8 367.5h0M289.1 363.8h0M356.4 333.2h0M287.7 364.1h0M309.6 367.2h0M315.3 370.7h0M325.6 354.2h0M288.5 369.6h0M308.1 333.2h0M282.2 354.6h0M297.8 372.9h0M325.1 358.2h0M282.6 348.1h0M360.3 329.3h0M296.3 367.1h0M341.8 361.2h0M319.9 320.8h0M275.2 343.7h0M339 333.3h0M319 331.3h0M343.6 333h0M311.8 317.9h0M329 327.5h0M326 333.3h0M301.6 367.5h0M325.9 355.9h0M324.3 326.1h0M320.1 327.1h0M287.4 353.2h0M316 331.9h0M288.3 363h0M333.9 316.4h0M317.8 369.1h0M317 326.4h0M336 346.3h0M305.6 330.5h0M290.9 337.8h0M282.3 368.4h0M319.2 360.7h0M301.9 330.2h0M315.4 325.3h0M294.8 339.1h0M295.7 376.3h0M317.7 332.4h0M322.5 331.4h0M280.8 363.6h0M289.8 341.5h0M334.1 333.7h0M322.5 360.7h0M282.7 364.8h0M299 336.9h0M337.8 353.2h0M281.8 374.3h0M339.6 351.7h0M307 365.7h0M275.6 351.6h0M304.2 373.9h0M329 338.3h0M284.5 354.4h0M303.6 334.1h0M292.6 336.7h0M339.1 334.2h0M332.2 339.1h0M316 361.1h0M278.2 360.8h0M344.1 331.4h0M295.6 328.7h0M279.2 357.9h0M327.3 352.3h0M282.5 370.1h0M285.8 365.6h0M284.2 391.7h0M305 371.3h0M307.2 390.9h0M306.8 333.8h0M333.9 338h0M331.8 358h0M288.4 367.3h0" stroke="#a3dc62" stroke-width="1.7" stroke-linecap="round" fill="none"/><g filter="url(#spkP)"><ellipse cx="307.8" cy="350.5" rx="39.5" ry="22" transform="rotate(-32 307.8 350.5)" fill="url(#rgh)"/></g><path d="M296.3 373.3h0M295.6 342.8h0M276.8 369.6h0M298.2 337.8h0M319.3 361.7h0M328.4 334.9h0M338.1 347.3h0M284.4 359.9h0M284.4 377.6h0M300.4 374.9h0M308.7 363.9h0M302.5 333.4h0M291.8 385.2h0M291.4 333h0M271.8 360.3h0M280.6 342.3h0M281.1 350.6h0M287.6 348.3h0M339.9 331.7h0M286.9 358.4h0M334.4 329.2h0M287.9 341.4h0M272.1 372.6h0M320.5 361h0M321.9 359.7h0M334.9 330.3h0M341.9 340.5h0M294.8 369.5h0M343.2 337.3h0M278.3 349.4h0M289.2 347.2h0M334 365.8h0M306.4 383.6h0M326 349.8h0M292.8 335.6h0M341.4 341.4h0M327.1 344h0M315 365.5h0M319.9 362.8h0M284.4 380.1h0M279.6 367.2h0M283.7 375.2h0M315.2 368.8h0M278.8 373.5h0M314.8 368.8h0M329.4 355.6h0M312.1 365.6h0M312.2 332.5h0M332.7 333.7h0M296.6 375.2h0M283.9 373.2h0M334.1 351.9h0M287.1 362.3h0M319.9 361.9h0M285.4 371.6h0M275.8 353.3h0M302 331.5h0M288.9 372.5h0M298.1 338.5h0M290.3 364.8h0M277.5 362.5h0M281 340.1h0M348.4 342.8h0M316.9 364.1h0M292.9 368.7h0M327.5 351.9h0M346.5 336.6h0M292.2 371h0M349.8 329.4h0M271 335.8h0M327.6 348.1h0M287.2 356.2h0M288.4 355.2h0M328.8 348.2h0M323 356.1h0M293.8 376.1h0M279.8 368.1h0M277.8 371.1h0M276.2 352.6h0M274.2 361.6h0M303.5 366.9h0M279.9 372.4h0M333.8 351.1h0M293 365.4h0M303.9 335h0M341.4 342.5h0M345 340.7h0M327.6 362.6h0M282.8 365.7h0M321.7 361.9h0M293.2 344.6h0M348.7 337.5h0" stroke="#6418bc" stroke-width="1.5" stroke-linecap="round" fill="none"/></g><rect x="265.5" y="297.3" width="106.9" height="100.6" fill="none" stroke="#8a8a8a" stroke-width="1"/><text x="270.4" y="411.2" font-size="8.4" text-anchor="middle" textLength="6.2" lengthAdjust="spacingAndGlyphs" fill="#1e1e1e">-4</text><text x="294.6" y="411.2" font-size="8.4" text-anchor="middle" textLength="6.2" lengthAdjust="spacingAndGlyphs" fill="#1e1e1e">-2</text><text x="318.8" y="411.2" font-size="8.4" text-anchor="middle" textLength="3.9" lengthAdjust="spacingAndGlyphs" fill="#1e1e1e">0</text><text x="343" y="411.2" font-size="8.4" text-anchor="middle" textLength="3.9" lengthAdjust="spacingAndGlyphs" fill="#1e1e1e">2</text><text x="367.2" y="411.2" font-size="8.4" text-anchor="middle" textLength="3.9" lengthAdjust="spacingAndGlyphs" fill="#1e1e1e">4</text><path d="M262.5 301.5H265.5M262.5 324.5H265.5M262.5 347.5H265.5M262.5 370.5H265.5M262.5 393.5H265.5M270.4 397.9V400.9M294.6 397.9V400.9M318.8 397.9V400.9M343 397.9V400.9M367.2 397.9V400.9" stroke="#7a7a7a" stroke-width="0.9" fill="none"/><circle cx="337.9" cy="385.3" r="2.0" fill="#a3dc62"/><path d="M337.9 390.2l2.1 3.5h-4.2z" fill="#6418bc"/><text x="342.8" y="387.9" font-size="7.3" fill="#1e1e1e">WT</text><text x="342.8" y="394.7" font-size="7.3" font-style="italic" fill="#1e1e1e">mta</text><clipPath id="clipd0"><rect x="40.3" y="440.3" width="106.7" height="100.9"/></clipPath><g clip-path="url(#clipd0)"><path d="M93.4 440.3V541.2M40.3 490.7H147" stroke="#8a8a8a" stroke-width="1.4" fill="none"/><path d="M40.3 541.2L147 440.3" stroke="#222" stroke-width="0.9" fill="none"/><g filter="url(#spkG)"><ellipse cx="93.4" cy="487.7" rx="32" ry="24" transform="rotate(-65 93.4 487.7)" fill="url(#rg)" fill-opacity="0.85"/></g><path d="M95 448.5h0M83.4 489.3h0M101.7 483.5h0M96.7 464.6h0M102.4 459.3h0M92.9 490.9h0M100.3 462.7h0M85.9 505h0M79.1 475.8h0M84.4 492.1h0M86.4 455.8h0M93.8 488.8h0M84.7 513.3h0M83.2 503.4h0M84.4 502.3h0M86.3 495.5h0M84.5 500.3h0M93 494.3h0M101.4 481.3h0M92 500.6h0M92 448.3h0M97.8 476.2h0M98.1 469.1h0M98.6 486h0M100.1 501.3h0M79.6 465.1h0M90.3 513.4h0M87.8 443.5h0M87.2 453.6h0M87.3 509.8h0M80.6 470.6h0M97.7 470h0M90.7 493.8h0M97.7 488.9h0M93.4 490.7h0M85.8 495.7h0M98.5 449.2h0M97.2 466.1h0M80 500.8h0M83.1 467.4h0M88.1 441.6h0M88.3 500.6h0M80.3 481.9h0M88.5 529.7h0M85.6 448.1h0M84.5 469.1h0M96.3 487h0M86.1 453.3h0M96.4 464.1h0M79.2 505.3h0M78.8 476h0M83.7 491.5h0M82.6 460.3h0M86.8 446.4h0M95.2 500.3h0M95.4 485.1h0M102 460.2h0M97.4 448.5h0M83.2 511.5h0M91.3 494.7h0M95.8 483.6h0M86.3 497.7h0M80.8 464.1h0M88.3 446.7h0M96.8 460.8h0M99.7 462.8h0M97.6 465.7h0M99 445.5h0M88.8 472.5h0M74.9 511.1h0M123.7 485.3h0M71.7 518.5h0M77 503.3h0M109.8 494.1h0M88.4 457.7h0M64.5 503.9h0M121.8 479h0M77.7 514.7h0M102.4 466.5h0M74.2 487.4h0M89.3 450.1h0M116.7 494.5h0M86.9 471.3h0M124.7 488.4h0M119.5 471.2h0M111.8 514h0M96.4 469.1h0M93.8 464.4h0M101 468.5h0M117.2 466.4h0M95.4 458.9h0M106.1 455h0M120.5 483.4h0M106.9 504.8h0M69.8 496.3h0M96.6 467h0M125.5 478.5h0M108.3 501.3h0M112.4 498.8h0M77.1 489.5h0M83.2 515h0M60.3 497.3h0M75.8 500.8h0M103 469.9h0M104.2 443.4h0M57.2 507.9h0M89.5 452.8h0M91.5 465.5h0M78.1 515.6h0M103.4 500.4h0M99.6 459h0M76.7 498.5h0M110.2 499.2h0M92 472.5h0M69.3 479.5h0M123.1 461.4h0M102.6 468.7h0M74.1 488.4h0M73.7 498.5h0M91.8 506.6h0M106.4 471.4h0M65.7 495.6h0M71.9 494h0M81.4 475.1h0M93.9 512.3h0M79.5 477.7h0M85.2 461h0M76 513.7h0M77.7 498.9h0M70.9 491.8h0M96.6 517.3h0M85.3 464h0M91.4 532.4h0M76.1 477.2h0M103.9 444h0M113.2 485h0M77.8 499.4h0M115.1 477.7h0M84.9 476.7h0M97.5 467.3h0M86.7 508.4h0M112.5 487.3h0M73.4 495.8h0M71.1 468h0M82.4 517.3h0M117.8 491.3h0M104.3 504.9h0M111.1 475.6h0M83.4 511.9h0M74.4 494.4h0M85 512.4h0M106.2 497.1h0M103.2 448.8h0M86.2 514.1h0M105.4 518.1h0M112.1 493h0M117.1 485.3h0M114.7 482.2h0M109 505.9h0M86.5 467.3h0M122.7 473.7h0M112.2 476.3h0M86 464.6h0M86.1 507.1h0M89 470.9h0M93.9 469.1h0M96.7 470h0M74.7 476h0M111.5 479.3h0M68.7 495.5h0M93.8 506.5h0M70.2 495.6h0M76.8 478.7h0M70.8 504.5h0M75.9 473.5h0M70.8 484.7h0M108.9 476.8h0M70.9 523.5h0M76.8 493.7h0M101.7 463.3h0M112.2 506.1h0M116.4 491h0M91.4 516.5h0M90.2 508.2h0M69.9 487h0M118.1 494.6h0M73 512.7h0M106.2 498.2h0M78.7 460.9h0M126.9 471.8h0M101.6 462.9h0M86.7 512.6h0M78.8 523.7h0M95.3 506.2h0M99.8 505.1h0M70.5 484.4h0M80.1 479.5h0M85.3 509.9h0M94.5 468.5h0M91.5 461.2h0M115.8 480.3h0M55.2 488.6h0M111.7 486.4h0M84.3 462.9h0M81 479h0M70.3 491h0M71 512h0M79.9 455.7h0M116.4 479.8h0M90.7 443.7h0M88 507.7h0M113.3 488.3h0M92.3 509.2h0M114.5 500.6h0M75.5 494.8h0M79.9 464.2h0M74.4 499.7h0M97.1 505h0M109.1 478.7h0M104.7 499.8h0M109.5 476.7h0M107.9 470.1h0M81.2 499.4h0M129.5 476.2h0M123.1 476.4h0M121.8 462.5h0M121.3 470.5h0M121.7 477.5h0M88.5 491.7h0M104.1 503h0M103.1 477.4h0M112.9 472h0M121.1 478.5h0M119.4 483.1h0M112.8 471.7h0M97.1 477.6h0M109.1 471.6h0M99.4 494.2h0M93.4 484.3h0M125 471.3h0M94.9 488.3h0M91.1 489.9h0M97.7 484.1h0M95.2 488h0M93.4 497.7h0M114.4 468.4h0M105.4 490.9h0M125.7 462.4h0M88.5 495.5h0M123.5 473.5h0M129.1 469.5h0" stroke="#a3dc62" stroke-width="2.0" stroke-linecap="round" fill="none"/><g filter="url(#spkP)"><ellipse cx="93.4" cy="491.7" rx="25" ry="14" transform="rotate(-28 93.4 491.7)" fill="url(#rg)" fill-opacity="0.95"/></g><path d="M100.4 490h0M98.8 452.8h0M88.5 443.1h0M95.6 457.5h0M93.4 443.7h0M85 463.4h0M96.2 461.6h0M88.9 442.6h0M83.5 485.3h0M83.7 450.4h0M91.2 500.1h0M96.3 457.6h0M82.9 467.6h0M92.1 450.8h0M84.3 473.2h0M83.9 460.7h0M97.5 478.6h0M83.7 503.2h0M97.4 461.3h0M81 477.3h0M83.7 481.6h0M97.1 458.2h0M81.3 469.2h0M97.1 483.6h0M101.9 472.1h0M91.3 496.3h0M99.6 465.5h0M83.4 476.1h0M95.9 451.5h0M99.1 454.9h0M87 501.9h0M86.6 447.7h0M90.4 446h0M92.3 505.2h0M87.8 499.8h0M85.5 508.8h0M84.7 500.9h0M97.1 482.6h0M87.3 453.3h0M90 505.2h0M97 470.4h0M105.5 501.5h0M114.3 497.3h0M85.6 478.5h0M83 478.3h0M63.7 490.9h0M97.6 470.4h0M118.7 485.1h0M112 493.9h0M101.5 464.9h0M101.2 467.1h0M109.1 469.8h0M103.1 503h0M73.8 492.8h0M111.8 487.2h0M113.7 483.3h0M101 475.5h0M83.5 468.1h0M111.6 481.9h0M78.4 499.7h0M108.8 504.1h0M83.6 472.9h0M77 488.6h0M73.2 465.3h0M104.6 504.6h0M74.8 481.5h0M78.7 500.8h0M105.9 477.1h0M59.7 492.2h0M103.9 501.5h0M100.6 500.5h0M98 502.7h0M111.6 460.9h0M81.1 514.2h0M78.4 497.8h0M104.6 471.8h0M79.9 479.1h0M86.4 517.9h0M125.7 491.7h0M73.4 498.5h0M80.6 502.7h0M96.2 508.5h0M65.1 499.3h0M82.7 482.3h0M115.9 495.6h0M103.6 477h0M122.5 502.5h0M92.6 506.5h0M104.3 510h0M83.2 474.1h0M108.2 468.1h0M117.4 495h0M107.9 496.4h0M130.9 459.8h0M131.5 508h0M81.3 515h0M68.5 499.7h0M106.7 475.4h0M69.6 503h0M107.6 474.9h0M97.1 505.1h0M79.3 503.3h0M100.9 501.8h0M99.2 503.3h0M103.9 499.7h0M75.3 481.4h0M104.6 478.6h0M111.3 493.2h0M85.5 471.8h0M73.2 491.4h0M111.1 498.2h0M73.9 497.9h0M97.4 471.2h0M80.5 512.5h0M62.3 493.9h0M94 473.8h0M108 480.3h0M92 504.9h0M89.8 472h0M112.7 485.3h0M94.6 476.7h0M90.1 507.8h0M100.5 506.4h0M107.6 495.3h0M78.9 478.8h0M70.8 490.3h0M110.2 467.8h0M76 499.3h0M114.8 475.8h0M95.6 476h0M71.1 500.3h0M88.1 504.7h0M115.7 483.5h0M78.7 505.7h0M110 481.9h0M92.1 473.5h0M96.8 504h0M88.3 464.3h0M101.6 472.7h0M76.9 506.8h0M74.9 488.7h0M110.5 489.2h0M83.5 472.2h0M118.1 475.3h0M80.6 476h0M76.4 495.4h0M70.3 490.6h0M110.6 472.8h0M94.6 494.7h0M118.1 470.4h0M104.7 475.7h0M102.6 496.7h0M122.4 473.6h0M120 472.9h0M122 466.8h0M95.8 487.7h0M122 476.2h0M107.7 474.3h0M109.8 474.8h0M102.5 478.7h0" stroke="#6418bc" stroke-width="1.8" stroke-linecap="round" fill="none"/></g><rect x="40.3" y="440.3" width="106.7" height="100.9" fill="none" stroke="#8a8a8a" stroke-width="1"/><text x="33" y="460" font-size="8.4" text-anchor="end" textLength="7.8" lengthAdjust="spacingAndGlyphs" fill="#1e1e1e">25</text><text x="33" y="487.1" font-size="8.4" text-anchor="end" textLength="7.8" lengthAdjust="spacingAndGlyphs" fill="#1e1e1e">20</text><text x="33" y="514.2" font-size="8.4" text-anchor="end" textLength="7.8" lengthAdjust="spacingAndGlyphs" fill="#1e1e1e">15</text><text x="33" y="541.3" font-size="8.4" text-anchor="end" textLength="7.8" lengthAdjust="spacingAndGlyphs" fill="#1e1e1e">10</text><text x="43.2" y="552.9" font-size="8.4" text-anchor="middle" textLength="7.8" lengthAdjust="spacingAndGlyphs" fill="#1e1e1e">10</text><text x="71.7" y="552.9" font-size="8.4" text-anchor="middle" textLength="7.8" lengthAdjust="spacingAndGlyphs" fill="#1e1e1e">15</text><text x="100.2" y="552.9" font-size="8.4" text-anchor="middle" textLength="7.8" lengthAdjust="spacingAndGlyphs" fill="#1e1e1e">20</text><text x="128.7" y="552.9" font-size="8.4" text-anchor="middle" textLength="7.8" lengthAdjust="spacingAndGlyphs" fill="#1e1e1e">25</text><path d="M37.3 457.1H40.3M37.3 484.2H40.3M37.3 511.3H40.3M37.3 538.4H40.3M43.2 541.2V544.2M71.7 541.2V544.2M100.2 541.2V544.2M128.7 541.2V544.2" stroke="#7a7a7a" stroke-width="0.9" fill="none"/><circle cx="112.5" cy="528.6" r="2.0" fill="#a3dc62"/><path d="M112.5 533.5l2.1 3.5h-4.2z" fill="#6418bc"/><text x="117.4" y="531.2" font-size="7.3" fill="#1e1e1e">WT</text><text x="117.4" y="538" font-size="7.3" font-style="italic" fill="#1e1e1e">cry1cry2</text><clipPath id="clipd1"><rect x="152.8" y="440.3" width="106.8" height="100.9"/></clipPath><g clip-path="url(#clipd1)"><path d="M205.9 440.3V541.2M152.8 490.7H259.6" stroke="#8a8a8a" stroke-width="1.4" fill="none"/><path d="M152.8 541.2L259.6 440.3" stroke="#222" stroke-width="0.9" fill="none"/><g filter="url(#spkG)"><ellipse cx="205.9" cy="487.7" rx="32" ry="24" transform="rotate(-65 205.9 487.7)" fill="url(#rg)" fill-opacity="0.8"/></g><path d="M198.8 448.2h0M192.6 494.1h0M197.1 461.1h0M202.6 443.4h0M201.8 449.8h0M193.6 469.2h0M196.5 449.6h0M208 480.7h0M212.3 494.1h0M203.2 445.9h0M198.5 446.2h0M186 457h0M199.9 442.5h0M194.4 513.7h0M195.3 463h0M203.1 517.4h0M208.2 472h0M202 506.2h0M201.9 507.4h0M208.7 464.4h0M193.7 488.6h0M203.5 499.5h0M187.6 465.3h0M209 495.8h0M192.3 479.8h0M190.8 482h0M215 446.5h0M198 522.8h0M197.3 453.7h0M212.4 441.5h0M206.5 513.3h0M197.9 492.7h0M195.1 464h0M212.8 459.2h0M208.6 468.7h0M211.8 472.9h0M189.3 487.5h0M196.5 461h0M204.9 495.4h0M211.7 470.8h0M202.1 523.1h0M191.8 452.9h0M199.3 453.9h0M197.5 513.8h0M209.7 458.2h0M203.7 502.3h0M211 500.5h0M200 497.8h0M207.2 453.9h0M196.1 455.9h0M204.3 517.1h0M198.7 509.6h0M206.2 498h0M198.1 451.8h0M196 485.3h0M200 451.7h0M199.2 451h0M195.8 446.4h0M200 499.4h0M206.4 501.2h0M199.9 453.3h0M196.6 492.2h0M196.3 495.3h0M189.1 470.3h0M192.8 480.2h0M193.4 502h0M197.7 494.3h0M197.9 458.4h0M198.5 506.2h0M224.8 482h0M183.3 488.2h0M190.3 521.6h0M212.3 455.8h0M193.6 518.7h0M165 492.4h0M241.3 480.9h0M213.6 502.3h0M233.6 480.8h0M224.5 494.2h0M187.9 511.2h0M199.2 461.2h0M209.4 513.7h0M181.7 489.2h0M188.3 479.8h0M225.2 464.7h0M192.5 468.5h0M212.3 514.5h0M179 507.5h0M222.2 480.2h0M218.4 465.4h0M198.2 508.5h0M207.5 512.3h0M173.2 497.9h0M228.9 488.1h0M186 503.7h0M213 509h0M227.3 486.5h0M189.5 464.4h0M184.5 490.9h0M179.2 486.9h0M209.9 508.2h0M201.1 471.7h0M232.5 470h0M215.9 500.1h0M216.5 507.2h0M202.1 472.4h0M223.6 478.8h0M230.1 475.6h0M203.6 470.8h0M210.1 461.6h0M224.9 454.3h0M199.2 470.7h0M230.1 490.4h0M181.9 487.5h0M172.5 494.9h0M205.6 515.5h0M203.3 523.4h0M203 506.8h0M195.5 477.6h0M232 483.6h0M228.7 483.7h0M235.7 489.5h0M224.8 471.6h0M201.8 473.7h0M226.4 479.1h0M210.3 471.3h0M198.9 469.2h0M230.1 504.7h0M219.7 458.6h0M189.3 526.1h0M240.4 497.9h0M215.5 499.6h0M225 518.3h0M224 481.7h0M201.7 472.9h0M174.3 495h0M170.5 476.9h0M187.7 486.1h0M206.6 510.7h0M204.3 472.4h0M221.8 470.5h0M237 480h0M257.2 478.3h0M214.8 501.9h0M203 510.5h0M226.3 489.4h0M215.6 465.4h0M193 506.8h0M223.6 471.4h0M189.6 485.8h0M200.4 467.3h0M194.8 510.2h0M209.1 504.9h0M226.2 498.1h0M227.3 485.7h0M224.6 500h0M181.3 537.2h0M209.1 504.5h0M222.5 486.2h0M212.8 516.2h0M234.2 484.9h0M207.8 468.3h0M205.4 515.5h0M193.5 518.4h0M221.9 499.4h0M223.8 463h0M190.4 459.5h0M219.5 499.3h0M174.5 472.4h0M240.6 460.4h0M219.4 495.2h0M204.8 513.4h0M202.6 452.3h0M184.6 483.6h0M198.1 518.6h0M186.5 507h0M172.7 517.3h0M190 481.2h0M225.8 472.7h0M188.8 493.2h0M187.5 519.7h0M179.6 502.2h0M193.5 480.8h0M229.1 503.2h0M219.4 495.5h0M222 506.5h0M199.1 509.5h0M193.2 504.7h0M210.2 509.5h0M205.8 507.6h0M225.3 503h0M178.8 500.4h0M191 476.6h0M221.8 469.1h0M205 463.4h0M214.9 453.3h0M195.2 475.3h0M232.6 482.4h0M238.7 455.5h0M216.3 493.9h0M210.3 499.5h0M247.8 471.2h0M210.8 475.9h0M225.4 473.2h0M208.2 496.3h0M212.2 507.1h0M230.1 485.7h0M242.4 470.9h0M214 481.2h0M205.9 487.8h0M207.4 490.2h0M239.3 479.7h0M247.2 469.6h0M231 483.3h0M234.2 467.3h0M252.8 467.7h0M228.7 468.6h0M210.4 485h0M200 506.2h0M201.8 496.3h0" stroke="#a3dc62" stroke-width="2.0" stroke-linecap="round" fill="none"/><g filter="url(#spkP)"><ellipse cx="199.9" cy="482.7" rx="18" ry="13" transform="rotate(-70 199.9 482.7)" fill="url(#rg)" fill-opacity="0.92"/><ellipse cx="210.9" cy="496.7" rx="21" ry="11" transform="rotate(-35 210.9 496.7)" fill="url(#rg)" fill-opacity="0.92"/></g><path d="M212.8 464h0M194.9 461.5h0M200.1 494.9h0M195 485.2h0M198.9 496.6h0M194 482.2h0M188.5 479.1h0M192.8 486.9h0M195.9 492.5h0M210.3 482.8h0M199.6 502.4h0M204.6 445.9h0M197.3 453.1h0M204.5 443.3h0M202.1 497.3h0M197.4 508.2h0M194.8 473h0M206.7 485.6h0M206.9 498.5h0M196.6 495.4h0M199.8 447.3h0M198.3 444.4h0M210.4 447.2h0M207.4 488.9h0M198.8 448.1h0M199.1 443.7h0M206.9 445.4h0M207.9 463.9h0M209.4 466.2h0M198.5 500.6h0M208.6 465.9h0M198.3 494h0M193.2 483.2h0M211.8 473.4h0M211 471.7h0M195.4 462.2h0M200.9 451.9h0M211.7 477.7h0M214.3 447h0M207 457.4h0M195.8 482.7h0M209.2 466.8h0M203.6 450.7h0M197.5 452h0M212.3 465.7h0M196 492h0M195.7 494.2h0M205.4 491.1h0M200.1 497.4h0M200.2 525.8h0M194.9 468.7h0M205.5 495.9h0M201.4 498.3h0M191.6 480.4h0M207.1 492.4h0M197 453.7h0M195.8 495.1h0M191.1 452.7h0M206.7 445.2h0M200.3 453.4h0M198.3 451.3h0M194.9 508.8h0M212.7 476h0M182.5 484.7h0M218.2 500.8h0M195.7 483.7h0M179.6 497.4h0M182.6 502.1h0M184.6 509.6h0M220.9 489.1h0M224.1 480.6h0M220.6 479h0M196.2 508.8h0M203.6 475.6h0M213 475.5h0M205.5 474.5h0M196.8 507.4h0M193.4 470.4h0M206.7 462.1h0M219 506h0M189.3 497.1h0M223.4 506.9h0M191.6 512.1h0M202 471.9h0M214.7 504.6h0M220.9 492.5h0M207.6 467.2h0M183.4 484.7h0M190.5 496.9h0M198.3 506.2h0M218.3 495.1h0M207.3 476.4h0M195.3 480.2h0M198.7 505.1h0M181.7 496.2h0M210.1 513h0M194 504.3h0M217.3 500h0M179.4 498.3h0M224.3 493.3h0M220.1 475.5h0M209.9 475.8h0M223.3 485.2h0M231.3 457.7h0M199.7 528.3h0M222.3 480.4h0M220.3 477.3h0M205.3 477.4h0M205.6 513.4h0M187.7 496.8h0M190 510.3h0M228.4 482.4h0M217.2 469.5h0M187.5 500h0M184.5 512.4h0M222.9 488.1h0M195.8 512.9h0M215.4 498.9h0M221.4 481.5h0M188.8 494.9h0M195.9 509.2h0M224.3 473.4h0M180.7 482.3h0M187.4 481.9h0M219.7 493.5h0M220.1 506.1h0M198 474.1h0M229.6 481.1h0M205.7 504.8h0M192.7 483.3h0M194.4 519.1h0M217.6 469.8h0M195.1 477.4h0M228.2 494h0M220.9 488.1h0M177.1 511.5h0M183.7 480.3h0M187.2 490.4h0M180.6 497.9h0M175.4 492.7h0M194.8 503.3h0M220.4 481.3h0M217.4 473.2h0M215.7 500.8h0M202.1 474.5h0M222 490.7h0M188.6 510.8h0M224.7 465.9h0M218.5 478.4h0M185.6 497.3h0M176.4 503.2h0M221.5 470.7h0M199 479.2h0M180.1 496h0M228.5 505.3h0M181.4 510.3h0M211.4 493.3h0M232.5 481.4h0M220.1 478.3h0M233.9 478.1h0M205.2 499h0M202.6 499.6h0M234.5 478.6h0M236.7 476.6h0M220.5 476.1h0M208.3 488.5h0M236.3 478.8h0M239.2 479.7h0M245.4 468.1h0M217.5 493.9h0M230 471.2h0M236.6 474.9h0M213.3 483.8h0M212.2 485.2h0M203.9 485.6h0M214.2 483.5h0M229.6 485.3h0M229.1 473h0M221.6 490.8h0M238.1 481.2h0M208.1 500.6h0M226.1 489.6h0" stroke="#6418bc" stroke-width="1.8" stroke-linecap="round" fill="none"/><path d="M152.8 541.2L259.6 440.3" stroke="#fff" stroke-width="2.6" fill="none"/><path d="M152.8 541.2L259.6 440.3" stroke="#222" stroke-width="0.9" fill="none"/></g><rect x="152.8" y="440.3" width="106.8" height="100.9" fill="none" stroke="#8a8a8a" stroke-width="1"/><text x="155.7" y="552.9" font-size="8.4" text-anchor="middle" textLength="7.8" lengthAdjust="spacingAndGlyphs" fill="#1e1e1e">10</text><text x="184.2" y="552.9" font-size="8.4" text-anchor="middle" textLength="7.8" lengthAdjust="spacingAndGlyphs" fill="#1e1e1e">15</text><text x="212.7" y="552.9" font-size="8.4" text-anchor="middle" textLength="7.8" lengthAdjust="spacingAndGlyphs" fill="#1e1e1e">20</text><text x="241.2" y="552.9" font-size="8.4" text-anchor="middle" textLength="7.8" lengthAdjust="spacingAndGlyphs" fill="#1e1e1e">25</text><path d="M149.8 457.1H152.8M149.8 484.2H152.8M149.8 511.3H152.8M149.8 538.4H152.8M155.7 541.2V544.2M184.2 541.2V544.2M212.7 541.2V544.2M241.2 541.2V544.2" stroke="#7a7a7a" stroke-width="0.9" fill="none"/><circle cx="225.1" cy="528.6" r="2.0" fill="#a3dc62"/><path d="M225.1 533.5l2.1 3.5h-4.2z" fill="#6418bc"/><text x="230" y="531.2" font-size="7.3" fill="#1e1e1e">WT</text><text x="230" y="538" font-size="7.3" font-style="italic" fill="#1e1e1e">fio1-1</text><clipPath id="clipd2"><rect x="265.5" y="440.3" width="106.9" height="100.9"/></clipPath><g clip-path="url(#clipd2)"><path d="M318.6 440.3V541.2M265.5 490.7H372.4" stroke="#8a8a8a" stroke-width="1.4" fill="none"/><path d="M265.5 541.2L372.4 440.3" stroke="#222" stroke-width="0.9" fill="none"/><g filter="url(#spkG)"><ellipse cx="318.6" cy="487.7" rx="32" ry="24" transform="rotate(-65 318.6 487.7)" fill="url(#rg)" fill-opacity="0.8"/></g><path d="M322.3 465.8h0M322.2 453.4h0M311.1 455.7h0M322.1 505.9h0M319 444.5h0M305.7 444.3h0M323 486.5h0M314.4 496h0M317.5 511.9h0M307.3 472h0M319.1 502.4h0M320.8 455.2h0M310.2 490.7h0M312.5 450.4h0M322.4 470.9h0M319.7 450.5h0M323.3 466.9h0M314.7 444.5h0M317.8 450.7h0M308.1 501.4h0M300.3 477.2h0M320 447.2h0M304.8 461.8h0M317.4 490.6h0M308.6 490.1h0M321.1 471.5h0M324.4 457h0M316.9 491h0M308 492.8h0M321.4 471.3h0M306.9 498.4h0M317 493.8h0M309.2 500.3h0M310.8 452.8h0M307.5 486.8h0M319.2 484h0M321 507.9h0M305.3 477.7h0M302.8 493h0M310.9 450.5h0M322.4 458.1h0M306.5 495.2h0M313.4 498.2h0M319.7 481.7h0M308.4 468h0M306.8 475.3h0M317.3 445.4h0M317.4 442h0M321.9 478.3h0M306.7 498.2h0M314.8 499.6h0M322 458.1h0M307.8 479.5h0M307.8 453.8h0M322.9 503h0M313.1 513.6h0M312.5 504.6h0M321.8 491.4h0M325.9 471.1h0M317.4 445.4h0M321.1 475.5h0M301.7 499.3h0M300.1 523h0M318 506.3h0M322.7 514h0M342.8 467.7h0M341.2 460h0M340.4 494.2h0M334 462.4h0M304.4 483.9h0M304 520.3h0M323.4 468.3h0M293.9 488h0M278 492.2h0M343.7 468.7h0M297.1 514.5h0M331.6 463.6h0M306.1 455.7h0M331.4 499.7h0M292.3 478h0M296.7 520.1h0M313.8 470.8h0M322.7 458.3h0M327 456h0M294 506.9h0M330.3 499.8h0M340.3 464.7h0M340 478.2h0M289.7 501.8h0M317.9 506h0M304.6 503.5h0M338.2 472.8h0M285 491.1h0M301.2 499.4h0M306.8 471.6h0M311.3 473.6h0M306.8 479.2h0M331.9 467.4h0M334.3 478.5h0M280.1 520.6h0M334.1 493.6h0M326.4 503.6h0M346.1 480.1h0M333.9 467.9h0M326.3 465.6h0M286.4 501.3h0M314.2 507.1h0M296 505.8h0M278.3 507.9h0M310.9 511.4h0M305.5 505.8h0M302.8 508h0M312.6 508.1h0M312.7 511.4h0M298.1 518.1h0M339.8 466.8h0M324.7 524.4h0M307.9 478.6h0M333.2 497.9h0M323.6 468.9h0M299.9 515.6h0M306.1 507.4h0M282.5 491.3h0M332.2 505.7h0M322 511.6h0M335.8 489.7h0M335.2 493.2h0M295.1 500.9h0M333.1 456.8h0M332.2 494.6h0M330.9 471.6h0M327.9 471.3h0M332.3 507.9h0M331.8 470.8h0M341.6 491.2h0M286.9 508.4h0M360.2 512.2h0M323.5 468.1h0M320.4 468.2h0M335.4 486.3h0M328 503.6h0M291.8 508.8h0M336.3 472.7h0M297.2 492.4h0M328.8 456.8h0M299.6 488.3h0M301.1 486.4h0M298.3 482.4h0M332.7 464.1h0M337.3 490.2h0M316.1 510.8h0M283.6 515.3h0M332.6 499.6h0M290.7 478.2h0M335.2 506.4h0M317.9 517.8h0M337.7 454.6h0M333.5 453.7h0M341.6 449.8h0M326.6 502.4h0M324.9 503.4h0M337.8 495.3h0M334 465.4h0M334.5 474.7h0M317.4 511.2h0M341.2 478.9h0M304.6 502.7h0M336.6 478.4h0M294.2 496.9h0M311.8 463.3h0M331.9 473.4h0M283.7 508.7h0M319.7 465h0M311.1 506.4h0M329.7 468.8h0M317.4 509.5h0M336.7 471.3h0M295.4 502.5h0M333.6 459.7h0M330.5 473.2h0M317.8 471.1h0M346.4 472.3h0M334.1 497.3h0M336 463.2h0M344 497.9h0M323.7 512.8h0M330.1 470.8h0M332.3 470.3h0M310.4 476h0M319.1 467.8h0M300.5 470.1h0M332.5 447.5h0M336.7 470.4h0M325.6 502.1h0M322.6 469.9h0M310.8 458.3h0M313.7 468.6h0M339.8 471.5h0M346.9 479.3h0M320.8 488.3h0M316.7 506h0M331 478.9h0M336.3 495.2h0M335 471.7h0M347.1 478.6h0M355 473.1h0M320.1 495.5h0M350.3 469.9h0M332.5 471.4h0M314.9 495h0M343.1 470.8h0M321.2 488.5h0M351.5 466.2h0M346.3 465h0M319.4 491.5h0M321.6 504.7h0M334.2 472.7h0M343.8 487.5h0M339.4 471.5h0M345.9 472.1h0M334.4 492.5h0M331.3 493.7h0M322.8 485.7h0M336.9 496.1h0M344.9 464.6h0M350 476.7h0M317.9 503.3h0" stroke="#a3dc62" stroke-width="2.0" stroke-linecap="round" fill="none"/><g filter="url(#spkP)"><ellipse cx="311.6" cy="481.7" rx="18" ry="13" transform="rotate(-70 311.6 481.7)" fill="url(#rg)" fill-opacity="0.92"/><ellipse cx="324.6" cy="497.7" rx="21" ry="11" transform="rotate(-35 324.6 497.7)" fill="url(#rg)" fill-opacity="0.92"/></g><path d="M308.5 466.3h0M318.2 501.3h0M321.7 480.1h0M320.1 455.8h0M311.5 456h0M299 491.3h0M313.3 448.9h0M321.3 475.5h0M305 465.3h0M323.1 478h0M309.9 493.7h0M322.6 450h0M317.5 447.4h0M316.2 500.4h0M303 504.2h0M330 487.5h0M322.6 461.2h0M316.5 450.8h0M324 486.2h0M323.7 488.8h0M317.9 493.2h0M306.4 495.5h0M322.1 465.3h0M319.7 448.1h0M319.3 488.8h0M317.3 448.9h0M311.7 453.1h0M317.6 517.6h0M315.8 451h0M307.6 512.1h0M312.7 498h0M320.1 482.3h0M318.7 487.7h0M310.2 519.7h0M308.2 476.9h0M324.7 488.8h0M315.7 451.3h0M323.4 472.5h0M318.7 451.9h0M310.9 452.5h0M321.3 458.9h0M321.5 462.9h0M327.8 463.6h0M320.5 486.3h0M308.2 453.8h0M310 504h0M308.1 457.9h0M321.1 484.5h0M306 466.8h0M313.9 441.7h0M325.9 491.7h0M313.3 441.6h0M306.9 497.6h0M320.8 453.1h0M306.2 467.4h0M308.4 483.6h0M303.1 505.9h0M318.2 462.2h0M319.5 510.7h0M309.3 471.5h0M310.1 481.3h0M335.1 483.3h0M338.8 458.2h0M309.7 477.5h0M329.6 497.1h0M312.8 505.3h0M337.1 502h0M343.8 468.3h0M327.1 499.5h0M319 471.7h0M314.2 473.9h0M297 495.7h0M321 456.1h0M330.6 473h0M321.2 474.2h0M306.1 508.1h0M331.3 497.5h0M325.6 472.1h0M339.9 505.7h0M309.3 509.1h0M330 474.6h0M297.3 518.1h0M305.3 462.1h0M297 491h0M297.4 482.6h0M326.5 460.4h0M332.3 477.6h0M294.7 508.1h0M302.6 481.9h0M339.4 508.7h0M334.6 487.8h0M315.6 514.7h0M343.1 480.4h0M310.9 506.2h0M300.3 516.6h0M301.6 487.7h0M322.8 475.6h0M332.2 477.3h0M298.4 506.4h0M334 484.2h0M335 490.2h0M347.2 489.8h0M331.5 495.2h0M343.7 471.3h0M297.7 495.8h0M312 472h0M330.5 497.5h0M337.3 490.5h0M324.5 472.3h0M294 513.5h0M329.1 502.7h0M334.8 496.6h0M333.8 483h0M309.9 478.3h0M332.7 478.2h0M298 493.9h0M329.7 510.1h0M316.7 512h0M323.8 505.8h0M321.7 504.1h0M307.6 479h0M334.1 477.2h0M326.1 504.3h0M320.1 506h0M328.7 477.2h0M302 492.6h0M293.7 495.2h0M326.9 470.5h0M313.3 507.8h0M315.2 509h0M293.7 478.5h0M299.3 504.1h0M331 471.7h0M303 475.6h0M306.1 503.1h0M321.8 504.7h0M329 472.4h0M339.8 495.6h0M313.5 505.8h0M310 481.1h0M344.9 501.3h0M307 477.3h0M299.1 495.4h0M333.4 490.4h0M318.2 476.6h0M307.7 511.7h0M345.1 456.9h0M365.9 497h0M320 509.4h0M336.7 478.8h0M330.2 477.8h0M305.6 484.2h0M319.7 475h0M337.1 492.1h0M322.1 491.7h0M348.8 466.2h0M326.5 499.3h0M352.3 476.3h0M341.6 488.7h0M330.3 496.7h0M348.5 478.8h0M325.8 483.9h0M323.5 489.6h0M322.8 496.3h0M338.8 488.5h0M342.7 485h0M347.8 473.7h0M349.6 475.1h0M318 488.4h0M342.5 484h0M341.1 491.6h0M345.3 478.8h0M319.4 489.4h0M326.3 493.3h0M319.8 493.6h0M345 479.1h0M363.3 476.2h0M342.1 483.5h0M344.3 481.6h0M344.8 468h0M347.6 481.9h0M345.7 479.4h0M347.6 477.5h0M339.2 474.1h0" stroke="#6418bc" stroke-width="1.8" stroke-linecap="round" fill="none"/><path d="M265.5 541.2L372.4 440.3" stroke="#fff" stroke-width="2.6" fill="none"/><path d="M265.5 541.2L372.4 440.3" stroke="#222" stroke-width="0.9" fill="none"/></g><rect x="265.5" y="440.3" width="106.9" height="100.9" fill="none" stroke="#8a8a8a" stroke-width="1"/><text x="268.4" y="552.9" font-size="8.4" text-anchor="middle" textLength="7.8" lengthAdjust="spacingAndGlyphs" fill="#1e1e1e">10</text><text x="296.9" y="552.9" font-size="8.4" text-anchor="middle" textLength="7.8" lengthAdjust="spacingAndGlyphs" fill="#1e1e1e">15</text><text x="325.4" y="552.9" font-size="8.4" text-anchor="middle" textLength="7.8" lengthAdjust="spacingAndGlyphs" fill="#1e1e1e">20</text><text x="353.9" y="552.9" font-size="8.4" text-anchor="middle" textLength="7.8" lengthAdjust="spacingAndGlyphs" fill="#1e1e1e">25</text><path d="M262.5 457.1H265.5M262.5 484.2H265.5M262.5 511.3H265.5M262.5 538.4H265.5M268.4 541.2V544.2M296.9 541.2V544.2M325.4 541.2V544.2M353.9 541.2V544.2" stroke="#7a7a7a" stroke-width="0.9" fill="none"/><circle cx="337.9" cy="528.6" r="2.0" fill="#a3dc62"/><path d="M337.9 533.5l2.1 3.5h-4.2z" fill="#6418bc"/><text x="342.8" y="531.2" font-size="7.3" fill="#1e1e1e">WT</text><text x="342.8" y="538" font-size="7.3" font-style="italic" fill="#1e1e1e">mta</text><text x="-0.5" y="10.6" font-size="13" font-weight="bold" fill="#000" stroke="#000" stroke-width="0.55">a</text><text x="0.1" y="157.7" font-size="13" font-weight="bold" fill="#000" stroke="#000" stroke-width="0.55">b</text><text x="-0.5" y="300.6" font-size="13" font-weight="bold" fill="#000" stroke="#000" stroke-width="0.55">c</text><text x="-0.5" y="444.8" font-size="13" font-weight="bold" fill="#000" stroke="#000" stroke-width="0.55">d</text><text transform="translate(14.6 59.8) rotate(-90)" font-size="9.3" text-anchor="middle" fill="#1e1e1e">log<tspan font-size="6.5" dy="2.6">2</tspan><tspan dy="-2.6">(FPKM</tspan><tspan font-size="6" dy="-3.7">Blue</tspan><tspan dy="3.7">)</tspan></text><text transform="translate(13.8 208.2) rotate(-90)" font-size="9.7" text-anchor="middle" fill="#1e1e1e">log<tspan font-size="6.8" dy="2.7">2</tspan><tspan dy="-2.7">(m<tspan font-size="6.3" dy="-3.7">6</tspan><tspan dy="3.7">A density</tspan></tspan><tspan font-size="6.3" dy="-3.9">Blue</tspan><tspan dy="3.9">)</tspan></text><text transform="translate(16.4 347.8) rotate(-90)" font-size="9.3" text-anchor="middle" fill="#1e1e1e">log<tspan font-size="6.5" dy="2.6">2</tspan><tspan dy="-2.6">(TS</tspan><tspan font-size="6" dy="-3.7">Blue</tspan><tspan dy="3.7">)</tspan></text><text transform="translate(8.3 490.4) rotate(-90)" font-size="9.3" text-anchor="middle" fill="#1e1e1e">log<tspan font-size="6.5" dy="2.6">2</tspan><tspan dy="-2.6">(Protein</tspan></text><text transform="translate(19.0 490.8) rotate(-90)" font-size="9.3" text-anchor="middle" fill="#1e1e1e">abundance<tspan font-size="6" dy="-3.7">Blue</tspan><tspan dy="3.7">)</tspan></text><text x="207.4" y="138.6" font-size="9.3" text-anchor="middle" fill="#1e1e1e">log<tspan font-size="6.5" dy="2.6">2</tspan><tspan dy="-2.6">(FPKM</tspan><tspan font-size="6" dy="-3.7">Dark</tspan><tspan dy="3.7">)</tspan></text><text x="207.4" y="284.3" font-size="9.7" text-anchor="middle" fill="#1e1e1e">log<tspan font-size="6.8" dy="2.7">2</tspan><tspan dy="-2.7">(m<tspan font-size="6.3" dy="-3.7">6</tspan><tspan dy="3.7">A density</tspan></tspan><tspan font-size="6.3" dy="-3.9">Dark</tspan><tspan dy="3.9">)</tspan></text><text x="206.3" y="426.3" font-size="9.3" text-anchor="middle" fill="#1e1e1e">log<tspan font-size="6.5" dy="2.6">2</tspan><tspan dy="-2.6">(TS</tspan><tspan font-size="6" dy="-3.7">Dark</tspan><tspan dy="3.7">)</tspan></text><text x="206.8" y="568.5" font-size="9.5" text-anchor="middle" fill="#1e1e1e">log<tspan font-size="6.6" dy="2.7">2</tspan><tspan dy="-2.7">(Protein abundance</tspan><tspan font-size="6.2" dy="-3.8">Dark</tspan><tspan dy="3.8">)</tspan></text><text x="392.5" y="10.8" font-size="13" font-weight="bold" fill="#000" stroke="#000" stroke-width="0.55">e</text><text x="564.2" y="10.8" font-size="13" font-weight="bold" fill="#000" stroke="#000" stroke-width="0.55">f</text><text x="392.5" y="210" font-size="13" font-weight="bold" fill="#000" stroke="#000" stroke-width="0.55">g</text><text x="564.2" y="211" font-size="13" font-weight="bold" fill="#000" stroke="#000" stroke-width="0.55">h</text><clipPath id="vc4239"><rect x="421.4" y="25.3" width="126.6" height="119.1"/></clipPath><g clip-path="url(#vc4239)"><path d="M481.5 137.9h0M476 100.8h0M475.7 87.7h0M485.8 138.2h0M485.8 140.3h0M491 109.7h0M480.4 115.3h0M478.8 133.5h0M486.1 134.7h0M478.2 111.2h0M485.6 136.3h0M476.2 123.5h0M485.8 138.4h0M476 99.3h0M483.5 132.8h0M481.2 118.2h0M478.1 129.5h0M489.8 110.8h0M480.7 122.2h0M492.8 88.8h0M490.3 112.1h0M493.2 99.5h0M486.9 135.9h0M492.6 108.2h0M479.5 124.3h0M482.3 135.4h0M482.2 133.9h0M476.7 126.1h0M475.8 103.7h0M491.4 119.4h0M493.2 127.6h0M476.8 117.9h0M475.7 105.4h0M475.6 117.9h0M476.6 94.8h0M489 131.4h0M482.8 135.7h0M481.8 138.4h0M483.1 138.1h0M492.4 117.2h0M485.8 136.3h0M490 106.4h0M489.5 114.3h0M477.6 117.7h0M489.2 134.1h0M482.1 137.7h0M492.2 123.1h0M479.9 110.5h0M481 136h0M489.5 116.9h0M483.2 137.7h0M488.5 132.4h0M489.6 125.3h0M493.4 105.8h0M492.5 112.8h0M487.7 136h0M479.8 116.1h0M485.6 140.8h0M479 107.4h0M478.3 132.8h0M483.9 134.8h0M477 96.9h0M493.6 82.4h0M486.6 136.8h0M489.8 132.6h0M482.1 133.6h0M487 139.6h0M482.5 136.5h0M483.5 139.9h0M485.2 141h0M477.4 97.9h0M488 129.2h0M485.7 141.1h0M482.5 127.5h0M488.7 135.6h0M476.2 132h0M477.9 130.3h0M487.6 122.8h0M480.7 125.1h0M478.2 106.3h0M475.7 86.6h0M488.3 123.6h0M482.3 137.7h0M475.8 85.5h0M489.2 121.9h0M477.6 121.3h0M486.5 129.9h0M479.7 111.3h0M479.9 121.2h0M487.8 135.6h0M487.4 126.9h0M491.2 124.3h0M485.3 140.1h0M480.9 116h0M491.9 94.7h0M477.8 122.2h0M477.5 116.9h0M478.7 110.8h0M485 141.9h0M481.4 136.1h0M482.9 130.3h0M486.4 132.4h0M481 129.2h0M477.6 102.2h0M488.4 125.4h0M493.7 131.4h0M484.9 140.5h0M488.9 117.8h0M477.8 114.1h0M478.2 116.9h0M493.6 126.5h0M479.8 109.5h0M483.7 140.9h0M484.5 141.8h0M491.1 127.6h0M493.3 111h0M484.4 138.7h0M490.5 132.5h0M486.6 131.2h0M491.6 105.7h0M491.8 132.9h0M479.7 135.6h0M487.7 121.3h0M480.4 118.9h0M492 127h0M480.1 127.4h0M481.2 126.8h0M489 132.2h0M490.8 104.8h0M492.3 92.8h0M490.2 109.2h0M479.7 127.2h0M475.6 124.3h0M476.4 125.6h0M487.8 137.8h0M488.7 132.4h0M493 120.3h0M483.9 140.4h0M488.4 128.9h0M476.8 129.2h0M490 110.6h0M493.9 91.1h0M477.7 97.6h0M481.6 125.8h0M486.8 128.9h0M481.7 127.6h0M487 138.1h0M477.2 94.3h0M483.3 131.1h0M488.1 126.3h0M477.3 92.6h0M476.8 109.5h0M491.9 98.3h0M481.2 124.1h0M482 123.9h0M479.2 118.7h0M482.3 131.2h0M476.9 118.8h0M479.8 126.7h0M477.9 131.1h0M477.2 131.8h0M482.3 136h0M486.2 139.2h0M491.8 102.7h0M478.3 111.4h0M477.1 101.4h0M476 100.9h0M492.5 102.1h0M477.8 116.6h0M484 139.3h0M478.1 117.5h0M484.3 138.1h0M478.8 102.8h0M486.8 129.7h0M484.8 140.3h0M480.7 114.6h0M481.5 133.3h0M492.4 106.4h0M492.9 112.8h0M482.7 129h0M479.2 112.2h0M485.1 137.7h0M476 109.2h0M489.2 112.2h0M483.4 138.8h0M487.2 124.8h0M491.6 105.1h0M476.5 86.5h0M490 133.8h0M487.6 137.7h0M487.4 137.6h0M492.2 103.3h0M482.6 129.6h0M485.5 137.4h0M478.4 99.3h0M481.7 123.3h0M491.2 114.2h0M477.1 104.3h0M484.1 136.6h0M483.7 135.4h0M486.4 129.7h0M480.4 115.6h0M492.1 123.2h0M484.7 140.4h0M488.1 132.4h0M480.7 117.4h0M484 137.4h0M482.1 135.8h0M492.9 88.7h0M487.1 136.5h0M484.7 141.7h0M492.4 111.2h0M490.9 125.7h0M478.3 106.4h0M489.6 118.2h0M480.7 119.7h0M486.6 135h0M476.5 108.8h0M479.3 112.7h0M483.7 137.5h0M493.2 117.2h0M486.8 135.1h0M478.8 111.4h0M484.9 142h0M476.7 87.1h0M483.4 132h0M485.7 134.8h0M476.1 121.3h0M475.5 85.7h0M478.1 132.4h0M480.3 120.9h0M476.2 129.4h0M491.7 103.5h0M484 140.6h0M485.5 135.4h0M482.4 137.1h0M488.5 133.8h0M483.9 139.1h0M477.1 91.4h0M492.4 127.6h0M481 136.9h0M483.2 135.5h0M492.2 123.7h0M481 118.5h0M491 103h0M486.2 131h0M484.9 139.3h0M487.4 131.6h0M493.2 90.5h0M493.2 128.9h0M491.1 113.2h0M490.3 127.5h0M476.3 99.1h0M485.3 139.2h0M492 99.2h0M486.5 139.2h0M483.5 137.7h0M492.3 109.1h0M479.1 110.6h0M481.3 125.4h0M479.5 131.2h0M479.1 103.3h0M484.8 139.9h0M484.3 138.7h0M481.1 127.6h0M477.7 130.3h0M492.4 120.1h0M485.3 139.4h0M483.7 136.6h0M493 96.1h0M479.6 113.7h0M480.2 111.2h0M493.7 117.6h0M490.6 105.1h0M484.6 139.6h0M482.9 138.9h0M491.4 111.7h0M486 138.9h0M478.9 123.1h0M479.3 112.8h0M484 137.7h0M478.3 119.8h0M488.3 125.6h0M481.2 135.6h0M475.5 100.3h0M478.7 106.9h0M490 121.7h0M489.6 116.8h0M483.5 140.3h0M475.6 84.9h0M477.1 97.1h0M480.5 128.5h0M487 134.3h0M491.5 122.8h0M489.3 124.4h0M488.1 122.2h0M490.2 135.1h0M485.6 141.3h0M485.8 139.3h0M480.8 123.9h0M480.4 123.2h0M488.5 124.1h0M488.6 118.2h0M476.8 120.4h0M486.5 139.4h0M492.8 96.3h0M481.7 130.7h0M491.7 99.4h0M487.5 136.4h0M489.1 112.2h0M491.4 115.5h0M475.6 126.4h0M485.7 135.3h0M479.3 113.6h0M477.4 118.8h0M478.7 124.9h0M491.3 119.4h0M486.1 131.2h0M491.8 123.7h0M478.1 124h0M491.8 106.6h0M485.7 136.7h0M491.9 104.8h0M487.7 125.3h0M478.3 114.3h0M477.8 121.2h0M490.8 118.1h0M486.9 128.8h0M489.4 125.5h0M479 117.6h0M486.5 133.2h0M479.6 111.5h0M492.7 120.5h0M478.9 126.8h0M479.1 110.4h0M476.5 113.2h0M483.9 141.3h0M484.2 141.1h0M484.6 141.9h0M493.9 112.4h0M479.7 136.4h0M479.9 135.3h0M479.8 135.8h0M478.2 120.3h0M483.6 138.8h0M488.4 118.8h0M483.8 141.3h0M492.8 111.3h0M480.6 135h0M487.9 128.4h0M484.8 139.8h0M487.9 132.6h0M484 137.6h0M484.2 140.7h0M479.9 116.2h0M480.7 129.4h0M486.4 138.7h0M490.2 121.6h0M482.7 139.1h0M490.2 114.3h0M479.1 107.5h0M480.9 121h0M484.9 141.4h0M477.6 119.2h0M490.6 117.7h0M491.5 128.3h0M480.8 120.6h0M479.8 127.3h0M487.3 138.7h0M492.8 102.9h0M490.3 105.1h0M481.4 134.9h0M481.8 129.3h0M487 135.2h0M483.4 136.6h0M485.7 138.3h0M489.5 115.2h0M493.2 96.2h0M486 137h0M483 140h0M480.2 124.9h0M479.2 117.2h0M483.1 136.6h0M486.7 133.1h0M478.4 110.2h0M477.5 98.4h0M478.3 120.2h0M483.8 138h0M477.7 112.3h0M490.4 133.2h0M481 131.9h0M493.7 120.4h0M484.9 141.2h0M487.2 134h0M488.3 120.3h0M478 120.8h0M478.3 121.5h0M478.8 114.8h0M487.2 137.9h0M486.8 137.4h0M492.9 101.8h0M483.1 140.2h0M490.1 125.7h0M484.7 142h0M488.7 123h0M481.9 132.1h0M491.8 112.3h0M477.3 122.3h0M488.9 130.9h0M488.2 120.7h0M480.8 114.7h0M482.7 138.7h0M485.6 139.4h0M488.6 117.7h0M483.4 134h0M491.9 104h0M491.5 127h0M489.2 135.9h0M482.7 129.2h0M482 125.3h0M480.9 121.9h0M491.3 124.9h0M483.8 136.4h0M486.3 130.1h0M486.9 129.2h0M487.7 138.8h0M481.2 122.6h0M484 140.3h0M482.4 139.5h0M489.4 127.3h0M484.7 140.2h0M491.6 131.4h0M492.3 100.6h0M481.6 130h0M488.5 134.3h0M487.5 122.6h0M490.2 126.7h0M483.5 135.2h0M489.8 106.4h0M482.5 134.9h0M489.5 130.2h0M493.7 122.9h0M476.4 100.7h0M491.4 114.1h0M491.2 133.7h0M477.3 102.1h0M489 131.3h0M490.3 123.9h0M477.9 100.8h0M484.7 140.4h0M484.2 139.6h0M488.9 115h0M486.8 131.2h0M484.7 140.2h0M490 113.6h0M476.2 122.1h0M482.9 134.7h0M486.7 129.3h0M493.3 111.5h0M482.5 133.7h0M485.7 135.8h0M480 113h0M481.6 128.5h0M491.9 106.3h0M479.6 122.2h0M484.4 140.2h0M475.5 117.7h0M484.7 141.4h0M484.7 140.7h0M475.9 93.2h0M480.8 135.3h0M476.3 119h0M485.5 139.6h0M477.5 116.3h0M482.1 132.4h0M487.8 132.9h0M475.7 86.3h0M493.7 120.5h0M484.1 137.8h0M487.4 127h0M491.4 128h0M488.4 129.3h0M472.1 130.7h0M485.1 131.7h0M483.8 130.3h0M486.1 140.4h0M485.5 139h0M493 137.6h0M484.5 133.9h0M478 128.7h0M490.5 135.3h0M471 138.4h0M496.6 130.8h0M470.6 126.3h0M487.5 130.2h0M474.3 132.7h0M491.1 124.3h0M488.1 126.1h0M494.7 125.9h0M490.1 136.6h0M496.2 135.3h0M480.4 129h0M492.7 127h0M483 132.7h0M495.8 131.1h0M489 127.6h0M487 139.3h0M490.8 123.9h0M484.6 138.2h0M485 125.5h0M498.8 128.9h0M490.6 125.3h0M486.1 134.1h0M481.3 125.3h0M477.4 132.4h0M484.4 141.2h0M479.2 131.6h0M483.5 132.4h0M488.4 125.3h0M484.5 136.1h0M494.1 136h0M467.4 130.3h0M490.7 128.2h0M489.9 138.9h0M477.2 127.5h0M494.6 128.1h0M484.7 126.6h0M487.2 130.2h0M490.6 128.4h0M490.2 132h0M477.1 123.8h0M498.3 124.1h0M491.1 137.6h0M489.9 125h0M490.6 138.5h0M486.1 128.8h0M495.1 139.5h0M486.9 138.7h0M493 127.3h0M490.1 131.5h0M482 128.9h0M478.8 125.2h0M485 125.4h0M495.9 130.4h0M494.8 135.8h0M468 129.3h0M505 127h0M484.6 141.9h0M487.7 125.4h0M481.8 124.7h0M495.3 132.1h0M479.4 127.3h0M486.6 136.2h0M478.4 128.1h0M494 131.9h0M479.5 137.5h0M483.4 131.6h0M488.5 128.4h0M496.6 125.8h0M476 139.6h0M493.1 123.9h0M491.3 135.7h0M485.4 132.4h0M493 131.8h0M487.3 124.1h0M482.9 127.5h0M486.8 127.3h0M492.8 129.2h0M483.3 132.6h0M494.2 123.8h0M492.3 129h0M483.3 141.4h0M490.8 138.8h0M486.6 133.1h0M505.1 134.2h0M461.1 124h0M496.2 128.4h0M484 139.7h0M487.7 126.4h0M475.3 129.5h0M492.1 135.3h0M472.9 131h0M494.6 125.2h0M483.3 132.3h0M490.7 130.9h0M487.6 128.3h0M482.1 131h0M472.6 134.4h0M486.7 123.6h0M489.9 134.1h0M478.1 129.8h0M475.6 130.7h0M486.7 132.2h0M483.1 125.5h0M486.2 140.8h0M485.6 130.7h0M495.5 128.7h0M491.8 129.7h0M493 129.1h0M476.7 133.7h0M488.6 125h0M483.8 140.8h0M488.4 131.1h0M473.3 128.5h0M494.2 131.5h0M490.4 128.4h0M487.6 128.2h0M485.1 136.9h0M481.3 132.2h0M473.1 134.2h0M481 133h0M490.9 130.1h0M501.2 128.6h0M492.2 134.6h0M475.7 125.9h0M482.2 139.5h0M472 129.2h0M494.4 131.3h0M478.3 135h0M484.6 127.1h0M487.4 125h0M482.3 131h0M484 125.9h0M490.4 138.6h0M491.2 132.8h0M487.2 124h0M491.6 125.8h0M487.3 129.3h0M478.1 125.8h0M487.6 127.9h0M489.3 124.3h0M494.5 139.7h0M483.3 139.9h0M494.2 128.6h0M488 138.5h0M489.9 124.8h0M479.7 138.9h0M470.6 131.1h0M481.7 124.3h0M466.6 138.5h0M475.6 129.1h0M488.6 131.1h0M477.4 126.1h0M488.1 141.1h0M487.7 133.9h0M484.5 124.3h0M489.7 124h0M480.3 128.8h0M488 133.1h0M493.2 129.9h0M489.8 124.2h0M478.9 127h0M477.8 130.5h0M501.6 126.8h0M504.4 124.8h0M481.1 125.6h0M491.7 129.1h0M469.7 137.1h0M492.1 126.5h0M486.4 136.2h0M486.9 125.9h0M481.5 129.7h0M498.6 134.7h0M482.1 126.3h0M500.5 131.9h0M480.6 125.3h0M494.9 131.7h0M495.2 124h0M483 124.6h0M483.2 140.5h0M489.2 133.7h0M498.5 135.5h0M495.4 131.5h0M488.9 139.7h0M478.2 124.7h0M478.4 138.4h0M473.7 128.5h0M475.2 138.2h0M484.6 141.9h0M505.1 124.2h0M488.7 125.2h0M468.3 139.3h0M484.3 125.6h0M465.4 123.5h0M496.3 131.4h0M493.8 131.7h0M478.2 131h0M481.6 141.6h0M480.4 140.6h0M478.9 132.6h0M492.4 134.5h0M474.4 131.6h0M496.1 139h0M486.4 129h0M495.2 126.6h0M477.1 126h0M460.1 132.5h0M490.4 128h0M488.2 129.2h0M493.1 132.6h0M484.4 130.1h0M491 128.1h0M492.9 135.2h0M479.4 137.2h0M463.7 132.5h0M486.1 130.1h0M480.2 125.2h0M472.5 138.7h0M500.8 129.8h0M485.8 138.6h0M485.5 130h0M475.6 129.5h0M477.2 123.5h0M486.4 125h0M479.9 124.7h0M485.6 124.4h0M476.7 132.6h0M483.7 136.5h0M479.3 126.8h0M493.1 129.1h0M488 123.8h0M484.4 126.3h0M492.8 132.2h0M479.1 128.8h0M488.8 124.8h0M475.7 129.4h0M486.6 128.2h0M467.1 125.9h0M481.9 139.8h0M497.8 133.8h0M486.1 127h0M480.5 127.7h0M483 135.3h0M484 129h0M501.9 125.2h0M485.6 124.8h0M488.3 142.2h0M479.4 141.9h0M489.3 134.1h0M488.4 126h0M481.7 141.9h0M495.1 133.7h0M478.3 127.3h0M480.4 128.5h0M495 136.5h0M482.7 125.5h0M465.7 127.1h0M484.6 133.2h0M478.9 139.5h0M481.4 128.8h0M488.2 129.6h0M489.9 138.4h0M486.8 139.7h0M485.8 134h0M500.8 125.5h0M479.4 139.5h0M482.6 132h0M487.4 133.6h0M476.8 128.8h0M492.2 131.3h0M472.3 137.4h0M487.8 133.4h0M474.4 131.9h0M481 134.9h0M481 130.5h0M478.5 133.9h0M493.6 128.4h0M487.9 125.4h0M477 140.6h0M483.6 127.6h0M468.7 133.2h0M467.4 135.5h0M485.3 127.5h0M485.5 123.8h0M484.5 139.6h0M488.3 125.7h0M477 127.8h0M484.3 124h0M482.4 136.3h0M489 123.9h0M493.6 127.2h0M469.4 133h0M486 139.9h0M474.9 134.9h0M466.6 136.6h0M477.8 139.3h0M483.4 128.8h0M480.6 140.9h0M485 134.8h0M484.7 125.7h0M487.1 139.7h0M483.2 123.8h0M485.7 130.8h0M484.4 128h0M470 127.6h0M486.5 137.5h0M472.9 133h0M489 128.3h0M477.5 128.4h0M474.7 131.9h0M479.6 138.8h0M483.3 139.8h0M477.9 137.2h0M477 125.6h0M485.3 131.5h0M491.1 137.1h0M480.9 127.6h0M477.1 131.1h0M487 131.3h0M485 139.8h0M486.4 125.4h0M483.2 126.3h0M492.6 133.2h0M480.4 133.2h0M486.5 126h0M480.3 141.4h0M502.5 131.6h0M468.8 124h0M473.5 135.1h0M497.6 127.6h0M492.5 134.1h0M481.3 139.2h0M545.6 128.6h0" stroke="#9a9a9a" stroke-width="2.3" stroke-linecap="round" fill="none"/><path d="M460 108.5h0M472.1 120.9h0M475.3 113.2h0M472 117.8h0M475.3 109h0M462.4 92.9h0M474.7 112.3h0M463.7 93h0M475 114.3h0M473.8 121.8h0M472.3 109.4h0M474.7 112.4h0M467 120.1h0M463.5 119.8h0M461.1 117.4h0M468.6 108.2h0M462.5 98.8h0M474.4 89.1h0M460.7 90.4h0M462.6 97.4h0M475.4 100.6h0M474.8 94.6h0M460.4 91.7h0M471.7 112.1h0M463.8 97.7h0M474.1 103h0M473.1 95h0M461.2 122.5h0M465.3 87.9h0M475.4 119.8h0M472.9 114.9h0M463.7 99.3h0M473.4 118.5h0M474.9 95.9h0M471.8 121.8h0M473.5 100.7h0M465.6 122.3h0M465.7 101.4h0M458 117.6h0M471.5 113.7h0M459.8 108.4h0M475.2 116.6h0M474.1 119.3h0M473.8 101.6h0M475.2 121.2h0M471 122.5h0M475.1 109h0M459.9 111.5h0M473.9 98.3h0M460.3 114.7h0M474.4 92.8h0M463.3 99.1h0M471.3 115.7h0M463.3 117.2h0M472.7 95.2h0M475.4 89.2h0M472.2 108.6h0M475.4 110.6h0M465 103.9h0M471.8 106.2h0M431.7 111h0M473.6 64.9h0M458.6 72.2h0M465.7 76.6h0M457.8 89.8h0M457 100h0" stroke="#33b3d8" stroke-width="2.3" stroke-linecap="round" fill="none"/><path d="M494.7 95.2h0M505.5 107h0M496.9 110.5h0M494 121.2h0M501.5 117.1h0M495.1 109h0M502.7 111.7h0M494.4 86.6h0M500.3 110.4h0M502.7 89.3h0M502.8 99.5h0M497.6 100.7h0M495.5 102.1h0M504.5 111.3h0M497.3 87.9h0M505.4 118.5h0M505.1 97.2h0M500.6 92.7h0M498.9 104.8h0M504.4 111.5h0M494.8 95.7h0M505.1 94h0M494.3 90.2h0M494.4 114h0M494 120h0M494.7 114h0M504.9 91.7h0M501.3 97.1h0M494 117.4h0M500.1 114.9h0M506.9 113h0M495.1 109h0M495.8 112.6h0M501.2 91.7h0M494.6 116.3h0M494 92h0M497.6 96h0M498.3 99h0M495.2 106.5h0M500.7 93.5h0M506.7 94.7h0M495.3 106.8h0M504.8 121.7h0M499.2 85.5h0M498.1 101.8h0M495.3 98.1h0M506.2 107.7h0M504.9 122.6h0M494.5 115.2h0M502.6 121.6h0M495.6 112h0M494.1 116.7h0M497.6 115.8h0M494.8 109.9h0M496.6 86.1h0M507.1 110.9h0M500 91.5h0M507.5 85.4h0M494.4 94.1h0M495.5 96.9h0M500.3 111.3h0M494.1 109.2h0M494.8 94.9h0M497.2 107.7h0M506.7 96.4h0M494 92.8h0M502.1 112.2h0M494 87.3h0M496.1 106.4h0M495.6 92.7h0M504.5 94.9h0M498.4 106.4h0M496.8 97.4h0M494.2 98h0M494.1 101.1h0M500.1 87h0M496.4 95.8h0M494.9 117.3h0M495 88.7h0M497.3 117.2h0M497.4 113.6h0M505.6 95.3h0M494.9 98.1h0M500.3 95.1h0M504.2 95.4h0M501.1 90.7h0M503.8 107.8h0M500.8 102.9h0M506.8 91.8h0M499.8 108.3h0M498 121.8h0M494.4 103.1h0M503.1 113.5h0M500.7 120h0M495.6 111.7h0M497.8 108.8h0M497.4 102.5h0M499.7 107.4h0M504 93.7h0M495.1 102.7h0M494.1 109.7h0M494.4 108.6h0M505.7 91.4h0M494.2 111.1h0M500.8 119.1h0M494.7 103.8h0M494.2 93h0M496.9 85.7h0M504.8 122h0M494.3 93.3h0M496.2 99h0M494.1 114.5h0M500.6 100.1h0M501.8 122.2h0M495.2 104.7h0M500.9 100.2h0M499.4 88.6h0M496.2 91.4h0M504.6 116.6h0M507 102.2h0M497.7 93.1h0M498.4 116.4h0M504.5 104.5h0M494.9 113.5h0M494.2 104.6h0M496 86.6h0M504.1 88h0M497.7 106.1h0M494.8 110.6h0M495.5 99.2h0M498.8 115.6h0M496.3 108.6h0M497.4 104.1h0M494 104.5h0M502.6 101.3h0M505.3 109.1h0M495.1 119.9h0M503.5 91.2h0M498.8 101.5h0M499.6 107.1h0M505.1 91.3h0M500.5 113.9h0M502.2 108.3h0M498 121.8h0M497.6 89.5h0M505.7 97.3h0M506 101.1h0M495 121.7h0M494.6 117.6h0M506.9 107.1h0M494.1 118.8h0M494 112.4h0M494.1 115.9h0M496.2 107.5h0M497.5 123.4h0M503.6 108.5h0M498 98.6h0M497.7 122.4h0M505.4 109.3h0M497.5 115.8h0M495.2 91.8h0M500 88.6h0M506.8 95.3h0M503.8 95.9h0M495.6 121.8h0M496.5 119.3h0M497.6 99h0M503.9 93.4h0M494.4 101.5h0M502 106.1h0M505.5 101.3h0M501.7 91.7h0M494.9 104.8h0M495.4 115h0M498 97.5h0M494.5 113.2h0M504.4 104.4h0M494 91.7h0M495.3 98.8h0M495.9 103.6h0M497.3 103.8h0M494.1 87h0M497.2 114.4h0M506.8 115.6h0M506.5 120.8h0M497.5 119.6h0M505.6 94.6h0M503.1 107.4h0M495.6 87.4h0M495.6 121.9h0M494.7 101.3h0M503.3 100.5h0M494 93.8h0M499.8 88.8h0M501.1 91h0M498.1 90.6h0M503.7 103.6h0M494.3 93.4h0M506.1 90.1h0M499.5 88.1h0M505.6 123h0M494.8 105.4h0M494.1 118.5h0M496.1 114h0M496.7 90.9h0M496.8 85.6h0M497.4 106.1h0M498.6 97.7h0M507.5 110.8h0M499.8 90.9h0M499.3 116.4h0M494.7 94.3h0M499.6 101.6h0M496.9 97.3h0M498.3 112.1h0M507.3 87.6h0M496 107.9h0M494.3 90.6h0M503.7 115h0M506.3 105.8h0M494.1 118.3h0M494.5 97.7h0M497.4 122.1h0M494 94.7h0M506.7 89.7h0M496.9 117.2h0M506.2 120.1h0M500.7 103.2h0M497.5 103.2h0M503.3 98.8h0M494.7 117.5h0M494.5 106.1h0M494.4 116.6h0M494.7 90.5h0M495.1 96.8h0M499.7 105.7h0M494 115.6h0M499.3 115.4h0M504.7 98.7h0M494.2 93.3h0M494 112.3h0M502.9 123h0M494.9 85.5h0M504.2 121h0M494.2 115.8h0M495 97.3h0M494.1 110.9h0M494.2 95.3h0M497.8 115.1h0M494.2 112.6h0M504.7 102h0M500.2 113.9h0M507.4 89.8h0M506.4 117.3h0M494.3 104.1h0M497.6 121.6h0M504.8 93.4h0M497.9 104.5h0M495.6 123.3h0M494.4 100.4h0M494.8 90.7h0M506.6 97.3h0M494 116.7h0M496 104.1h0M500.9 119.2h0M502.3 107.3h0M504.2 96.3h0M499.7 120h0M507.3 117.6h0M502.4 86.6h0M498.1 87.8h0M501.6 93.2h0M494.1 115.3h0M494.2 103.6h0M502.7 98.6h0M497.5 123.2h0M497.9 89.1h0M494 122.8h0M504.2 98.4h0M497.2 100.9h0M495.7 86.6h0M495.4 116.1h0M494.4 96h0M494.7 99.2h0M497.8 85.9h0M497.9 102.7h0M500.8 105.2h0M500.5 85.9h0M494 100.8h0M502.9 102.7h0M500.3 120.5h0M506.3 112.3h0M501.3 93.8h0M497.6 112.9h0M494 88.9h0M494.4 104.7h0M505.4 94.7h0M494 94h0M494.9 91.6h0M506.6 96.3h0M496.1 89.9h0M502.7 101.4h0M498.3 89.4h0M502.9 116h0M495.4 90.8h0M507.2 120.2h0M495.5 100.1h0M500.7 101.4h0M497 109.7h0M497.7 119.3h0M496 98.6h0M500.6 94h0M501.5 87.5h0M498.5 89.3h0M495.4 102.6h0M507.1 120.2h0M494.9 114.5h0M503 120.8h0M495.3 100.7h0M504.6 113.6h0M494.2 99.6h0M503.7 98.7h0M497.9 93.3h0M504.2 104.4h0M494.8 95.4h0M494.2 103.9h0M497.3 116.3h0M502.9 105h0M494 97.4h0M498.9 123.3h0M495.4 99.3h0M501.2 86.8h0M505.3 120.5h0M506.4 119.5h0M500.5 98h0M495.9 108.8h0M494 92.9h0M494.3 88.9h0M495 92h0M501.4 96.6h0M499.5 93.5h0M497.8 95.7h0M494 112.3h0M501.6 88.6h0M501.4 111.7h0M494.4 110.8h0M495.6 105.8h0M498.5 119.2h0M500.9 90.8h0M495.6 110.9h0M507 117.4h0M494.5 101.9h0M505.8 98.5h0M499.9 103.2h0M494 88.1h0M504.2 110.9h0M500.3 91.4h0M502.7 115.9h0M494.1 89.2h0M494 87.2h0M499.7 97.2h0M496.3 106.3h0M496 116.1h0M500.9 122.6h0M495.5 100.5h0M494.9 123.4h0M494.3 94.7h0M503.4 87.8h0M501 118h0M494 89.6h0M506 100.8h0M496.1 122.1h0M494.4 92.1h0M496.2 108.3h0M494.8 122.7h0M494 85.6h0M496.5 97.1h0M505.3 90.3h0M502 101.1h0M494.3 88.1h0M496.5 99.8h0M495.7 110.9h0M507.3 112.5h0M494 88h0M497.4 121.7h0M497.9 112.2h0M504.2 102.6h0M500 103.6h0M494.6 87.1h0M499.4 96.1h0M496.4 108.9h0M507.3 96.3h0M494 95.8h0M503.9 116.2h0M504 86.8h0M494.1 114.9h0M496.8 119.8h0M494.2 98.9h0M494.2 91.8h0M498 87h0M506.1 86.8h0M494.2 89.4h0M494.7 103.8h0M494.5 85.9h0M494.3 104.8h0M497.3 90.3h0M494 101.5h0M497.7 118.8h0M494.4 111.5h0M500.9 103.9h0M503.8 95.8h0M494.2 120.1h0M497.8 88.4h0M501.7 113.1h0M494.2 116.1h0M498 110.7h0M494.6 117.7h0M505 120.2h0M496.1 122.8h0M498.6 97.5h0M513.9 88.6h0M501.1 84h0M500.5 110.6h0M508.7 123.3h0M511.7 92.7h0M505.5 122.1h0M512.8 114.9h0M510.3 119.8h0M501 103.3h0M508.9 115.3h0M501.2 112.8h0M501.2 82.7h0M508.4 100.6h0M510.9 87h0M506.7 91.6h0M501.1 99h0M500.8 83.7h0M502.7 91.4h0M506.6 122.2h0M512.6 107h0M512.6 109.8h0M501.5 101h0M504.7 103.3h0M504.1 96.2h0M504 90h0M511.4 111.7h0M508 94.3h0M507 104.7h0M502.7 110.3h0M511.7 115.1h0M513.7 92.5h0M503.4 110.7h0M503.8 107.3h0M513.5 103.9h0M505.6 120.6h0M507.7 120.8h0M508 121.9h0M501.5 103.5h0M501.1 105.6h0M513.6 93.5h0M503.2 92.6h0M500.6 101.8h0M503.8 84.5h0M503.3 82.6h0M501.8 115.7h0M511.7 118.7h0M501.3 99.3h0M501.8 121.5h0M501.6 122.6h0M500.8 115.9h0M511.7 122.1h0M502 86.4h0M502 95.7h0M500.7 107.5h0M507.4 99.9h0M502.9 116.5h0M509.7 100.5h0M509.2 102.1h0M501.8 89.1h0M501.7 100.1h0M504.3 95.8h0M503.3 102.9h0M503.5 105.1h0M504.7 118.6h0M500.7 112.1h0M502.7 88.1h0M511.2 86.6h0M504.7 83h0M510.4 99.4h0M502.2 95.1h0M507.1 85.2h0M500.6 104.2h0M504.8 112.2h0M500.8 112.8h0M509.8 101.7h0M511.1 111.8h0M502.3 122.6h0M503 101.4h0M501 98.5h0M506.9 86.1h0M506.4 119.2h0M502 120.6h0M502.1 86h0M511.5 89.5h0M504.6 88.5h0M511 112h0M507.4 90.4h0M505.5 117.8h0M501.6 103.7h0M512.1 97.1h0M512.4 122.9h0M520.6 122.4h0M510.2 86.2h0M508.1 117.7h0M507 116.6h0M519.6 86.4h0M524.1 111.8h0M518.6 82.3h0M508.2 83.5h0M512.6 107.5h0M508.7 97.6h0M507.2 114.3h0M508.5 85.7h0M516.9 104.8h0M525.2 117.4h0M508.7 87h0M509.5 91.6h0M511.5 105.1h0M506.9 92.9h0M506.8 107.1h0M507.1 85.7h0M522 102.6h0M516.7 103.6h0M515.9 84.8h0M511.1 112.4h0M522.1 121.9h0M512.2 79.8h0M524.8 103.5h0M509 119.4h0M515.1 114.3h0M504.5 54.6h0M516.3 53.9h0M510 59h0M495.8 69.2h0M502.1 70.7h0M494.2 75.1h0M525.8 82.4h0M523.5 81.7h0" stroke="#f28a6c" stroke-width="2.3" stroke-linecap="round" fill="none"/></g><path d="M475.4 25.3V144.4M494 25.3V144.4M421.4 123.4H548" stroke="#555" stroke-width="0.6" stroke-dasharray="2 1.3" fill="none"/><rect x="421.4" y="25.3" width="126.6" height="119.1" fill="none" stroke="#777" stroke-width="0.8"/><text x="414.1" y="145.5" font-size="8.4" text-anchor="end" textLength="4" lengthAdjust="spacingAndGlyphs" fill="#1e1e1e">0</text><text x="414.1" y="130.8" font-size="8.4" text-anchor="end" textLength="4" lengthAdjust="spacingAndGlyphs" fill="#1e1e1e">1</text><text x="414.1" y="116.2" font-size="8.4" text-anchor="end" textLength="4" lengthAdjust="spacingAndGlyphs" fill="#1e1e1e">2</text><text x="414.1" y="101.5" font-size="8.4" text-anchor="end" textLength="4" lengthAdjust="spacingAndGlyphs" fill="#1e1e1e">3</text><text x="414.1" y="86.9" font-size="8.4" text-anchor="end" textLength="4" lengthAdjust="spacingAndGlyphs" fill="#1e1e1e">4</text><text x="414.1" y="72.2" font-size="8.4" text-anchor="end" textLength="4" lengthAdjust="spacingAndGlyphs" fill="#1e1e1e">5</text><text x="414.1" y="57.6" font-size="8.4" text-anchor="end" textLength="4" lengthAdjust="spacingAndGlyphs" fill="#1e1e1e">6</text><text x="414.1" y="43" font-size="8.4" text-anchor="end" textLength="4" lengthAdjust="spacingAndGlyphs" fill="#1e1e1e">7</text><text x="414.1" y="28.3" font-size="8.4" text-anchor="end" textLength="4" lengthAdjust="spacingAndGlyphs" fill="#1e1e1e">8</text><text x="420.4" y="157.4" font-size="8.4" text-anchor="middle" textLength="6.3" lengthAdjust="spacingAndGlyphs" fill="#1e1e1e">-4</text><text x="436.2" y="157.4" font-size="8.4" text-anchor="middle" textLength="6.3" lengthAdjust="spacingAndGlyphs" fill="#1e1e1e">-3</text><text x="452.1" y="157.4" font-size="8.4" text-anchor="middle" textLength="6.3" lengthAdjust="spacingAndGlyphs" fill="#1e1e1e">-2</text><text x="467.9" y="157.4" font-size="8.4" text-anchor="middle" textLength="6.3" lengthAdjust="spacingAndGlyphs" fill="#1e1e1e">-1</text><text x="484.7" y="157.4" font-size="8.4" text-anchor="middle" textLength="4" lengthAdjust="spacingAndGlyphs" fill="#1e1e1e">0</text><text x="500.5" y="157.4" font-size="8.4" text-anchor="middle" textLength="4" lengthAdjust="spacingAndGlyphs" fill="#1e1e1e">1</text><text x="516.3" y="157.4" font-size="8.4" text-anchor="middle" textLength="4" lengthAdjust="spacingAndGlyphs" fill="#1e1e1e">2</text><text x="532.2" y="157.4" font-size="8.4" text-anchor="middle" textLength="4" lengthAdjust="spacingAndGlyphs" fill="#1e1e1e">3</text><text x="548" y="157.4" font-size="8.4" text-anchor="middle" textLength="4" lengthAdjust="spacingAndGlyphs" fill="#1e1e1e">4</text><path d="M418.4 142.5H421.4M418.4 127.8H421.4M418.4 113.2H421.4M418.4 98.5H421.4M418.4 83.9H421.4M418.4 69.2H421.4M418.4 54.6H421.4M418.4 40H421.4M418.4 25.3H421.4M421.4 144.4V147.4M437.2 144.4V147.4M453.1 144.4V147.4M468.9 144.4V147.4M484.7 144.4V147.4M500.5 144.4V147.4M516.3 144.4V147.4M532.2 144.4V147.4M548 144.4V147.4" stroke="#777" stroke-width="0.9" fill="none"/><circle cx="414.9" cy="15" r="2.0" fill="#33b3d8"/><text x="419.1" y="17.3" font-size="6.45" fill="#1e1e1e">Down (61)</text><circle cx="454.8" cy="15" r="2.0" fill="#9a9a9a"/><text x="459" y="17.3" font-size="6.45" fill="#1e1e1e">Unchanged (1,700)</text><circle cx="521.9" cy="15" r="2.0" fill="#f28a6c"/><text x="526.1" y="17.3" font-size="6.45" fill="#1e1e1e">Up (602)</text><text x="425" y="35.7" font-size="6.5" fill="#1e1e1e">WT</text><text x="425" y="43.4" font-size="6.5" fill="#1e1e1e">m<tspan font-size="4.5" dy="-2.5">6</tspan><tspan dy="2.5">A hyper (B/D)</tspan></text><text x="425" y="51.1" font-size="6.5" fill="#1e1e1e"><tspan font-style="normal">n</tspan> = 2,399</text><text transform="translate(402.8 85.4) rotate(-90)" font-size="9.3" text-anchor="middle" fill="#1e1e1e">−log<tspan font-size="6.5" dy="2.6">10</tspan><tspan dy="-2.6"> (<tspan font-style="italic">P</tspan> value)</tspan></text><text x="484.7" y="170.9" font-size="9.3" text-anchor="middle" fill="#1e1e1e">log<tspan font-size="6.5" dy="2.6">2</tspan><tspan dy="-2.6">(WT TS</tspan><tspan font-size="6" dy="-3.8">B/D</tspan><tspan dy="3.8">)</tspan></text><clipPath id="vc5954"><rect x="592.9" y="25.3" width="126.6" height="119.1"/></clipPath><g clip-path="url(#vc5954)"><path d="M660.2 104.7h0M660.1 86.1h0M655.3 119.7h0M657.9 134.6h0M662.1 138.6h0M662.6 100.5h0M663.3 132.1h0M659.7 100.2h0M664.1 99.9h0M651.8 106.7h0M665.3 123.1h0M662.7 115.3h0M664.3 100.4h0M654 93.4h0M661.8 103.8h0M654 120.3h0M647.7 116.5h0M650.8 102.6h0M663.4 138.9h0M648.4 117.4h0M649.1 109.4h0M663.1 106.4h0M661.6 136.3h0M664.2 107.2h0M647.7 118.2h0M647.6 135.1h0M652 99.9h0M652.6 115.8h0M656.2 133h0M652.9 99.2h0M648.6 115.6h0M661.5 112h0M663.6 121.1h0M652.5 114.7h0M656.8 109.8h0M664.8 113.6h0M658.7 139h0M650.3 98h0M665.2 128.7h0M659 122.8h0M660.1 108h0M658.5 99.1h0M665.1 141.9h0M660 131.2h0M647.6 121.3h0M650.6 103.2h0M652.6 139.2h0M647.8 99.9h0M651.1 123.2h0M664.3 106.9h0M660.1 126.8h0M648 103.9h0M662.8 109.4h0M648 124.6h0M654.2 94.1h0M662.1 103.5h0M658.1 112.1h0M651.9 121.8h0M663.3 112.5h0M651.5 95.6h0M657.7 98.3h0M662.1 137.7h0M655.6 98.8h0M660.9 111h0M662.4 119.1h0M662.2 123.9h0M652.7 127h0M652.2 131.2h0M665.4 127.1h0M650.5 133.4h0M665.2 111.2h0M662.3 96.7h0M658.7 92.7h0M657.3 114.8h0M648.6 113.5h0M651.4 137.5h0M651.2 113.3h0M648.5 104.7h0M655.4 133.7h0M650.7 129.2h0M651.5 115.3h0M653.2 129.2h0M661.6 98.7h0M650.5 115h0M647.5 112.5h0M664 131.9h0M663.2 103.6h0M656.4 127.8h0M652.6 108.6h0M651.4 101.5h0M655.8 112.4h0M652.4 105.7h0M660.3 108.2h0M659.6 140.6h0M658.7 90.3h0M653 117.6h0M651.3 113.2h0M657.4 119.3h0M658.9 115.3h0M663.7 111h0M657.3 84.9h0M659.7 88.1h0M661.7 112.3h0M648.3 106.1h0M656.1 92.1h0M648.7 117.6h0M658.4 102.9h0M662.5 104.6h0M658.2 132.6h0M649.2 141.5h0M648.6 112.8h0M658.2 127h0M651.8 104.4h0M650 124.6h0M656.9 114.4h0M650.7 116h0M652.2 113.7h0M649.4 120.4h0M660.9 137.3h0M664.1 125.4h0M657.7 125h0M657.4 139.2h0M664.2 125.2h0M648.7 135h0M655 91.6h0M664.3 123h0M661 103.1h0M650.2 97.1h0M650 101.4h0M651.1 130.3h0M663.2 103.6h0M664.5 94.7h0M659.8 136h0M649.9 101.7h0M648.2 107.9h0M653 136h0M649.5 136.3h0M657.6 135.5h0M658.4 131.9h0M657 132.3h0M664.9 103.9h0M660.8 134.6h0M655.7 86.4h0M664.2 111.3h0M658.5 85.1h0M652.5 93.8h0M652.9 138.4h0M655.3 95.3h0M654.4 110.1h0M656.5 93h0M664.5 110.3h0M663.9 101.2h0M651.3 139.7h0M662.8 122.8h0M663.2 109.7h0M657.3 140.2h0M664.9 106.8h0M663.4 120.3h0M654 116.9h0M659.2 107h0M650.4 109h0M647.7 142.1h0M662.6 99.2h0M657.1 111.2h0M661.6 111.1h0M661.8 130.5h0M661.8 100.9h0M647.8 126.1h0M652.4 130.9h0M652.2 112.7h0M657 85.6h0M659.4 92h0M658.3 112.2h0M661 128.1h0M663.3 101.1h0M659 87.2h0M652.6 102h0M652.8 103.1h0M663.4 96.6h0M654.4 117h0M648.7 102.8h0M654.9 107.6h0M663.6 140.1h0M660.1 123.8h0M650.5 106.4h0M658.8 133h0M658.5 107.1h0M656.8 108.9h0M661.2 125.9h0M655.1 122.9h0M649.5 140.7h0M664.2 124.4h0M654.1 104.5h0M652.1 134.5h0M651.3 113.2h0M661.6 124.1h0M657.2 90.4h0M653.5 130.7h0M649.5 116.5h0M664.3 140h0M658.1 90.1h0M659.6 100.1h0M648.3 122.3h0M658.1 109.5h0M661.3 120.5h0M653.4 126.9h0M647.5 101.5h0M649.6 135.8h0M650.4 123.4h0M660.8 135.5h0M648.1 112.5h0M658.7 116.2h0M664.6 130.1h0M663.8 142h0M663.5 115.8h0M655.2 121.3h0M659.6 117.6h0M650.6 105.2h0M655 121.2h0M647.9 108.5h0M663.5 122.3h0M658.7 126.5h0M658.2 100.3h0M649.5 116.6h0M656.5 85.2h0M648.1 104.4h0M659.6 130.5h0M651.5 112.7h0M651.8 99.2h0M654.1 117.6h0M650.7 102.8h0M654.9 106.1h0M647.6 103.1h0M651 122.1h0M647.4 114.3h0M656.7 133h0M647.5 132.2h0M654.8 114h0M659.9 91.5h0M660.9 113h0M658.3 92.4h0M656.5 107.8h0M657.4 117.8h0M648 128.8h0M656.3 93.7h0M653 124.3h0M662.1 139.8h0M661.6 132.8h0M659.5 131.6h0M657.7 100.5h0M648 127.8h0M663.4 102h0M661.8 106h0M656.3 117.6h0M654.8 127.7h0M664.9 118.4h0M650.2 138.7h0M660.6 134h0M663.1 100.9h0M664 115.9h0M658.2 134.9h0M658.4 91.2h0M660.8 134.6h0M661.7 96.5h0M654.6 97.4h0M658.1 104.6h0M648.4 134.3h0M656.4 89.6h0M648.3 110.7h0M654.3 107.1h0M662.5 103.7h0M661.2 118.1h0M660 116.2h0M661.8 135.7h0M656 109.6h0M662.9 117.2h0M654.6 110.8h0M654.8 132.3h0M661.3 132.6h0M664.9 123.5h0M651.9 130.1h0M655.2 129.4h0M655 119h0M661.1 140.9h0M652.3 109.3h0M665.4 117h0M653.5 116h0M654.4 91.5h0M662.8 132.1h0M662.8 107.4h0M656.3 113h0M662.1 91.9h0M654 92.4h0M658.3 118.9h0M665.1 99.2h0M661.4 125.8h0M653.2 102.4h0M653.6 100.5h0M663.5 93.2h0M655 88.5h0M658.1 103.7h0M654.6 101.6h0M648.2 139.8h0M659.2 99.4h0M653.5 102.8h0M653.8 127.8h0M647.6 138.6h0M648.9 109.1h0M650.7 117.5h0M652.7 129.4h0M655.6 119.7h0M651.2 103.3h0M655.6 132.9h0M658 96.6h0M650 114.4h0M647.9 123h0M665.4 111.3h0M649.5 129h0M660.7 90.4h0M661.9 130.5h0M663.8 118.8h0M661.1 114.2h0M647.9 126.5h0M657.8 132.7h0M660.3 99h0M650.8 97.8h0M656.4 111.8h0M653.9 90.9h0M657.7 106h0M655.5 123.6h0M659.5 93.6h0M660.5 114.3h0M649.2 106.2h0M651.5 121h0M656.5 103.8h0M662.2 110h0M664.8 131.2h0M661.2 128.7h0M652.2 98.4h0M660.4 91.1h0M650.5 111.3h0M665.3 105.3h0M654.5 136.2h0M662.6 108.1h0M655.8 103.2h0M651.9 115.3h0M648 119.7h0M653.5 130.2h0M650.8 129.2h0M651 102.9h0M656.9 95h0M662.8 136.7h0M654 116.2h0M662.9 114.1h0M660.7 112.7h0M655.4 119.6h0M665.3 141.8h0M654.2 89h0M655.8 90h0M664.1 139.3h0M649.8 121.4h0M663.4 132.5h0M652 114h0M658.7 108.4h0M651.6 134.3h0M654.1 116.6h0M658.8 94.1h0M647.3 129.2h0M647 129.4h0M658.5 107.8h0M663 125.2h0M655.6 104.1h0M657.3 129.9h0M662.9 116.1h0M664.4 121h0M656.6 120.8h0M663 92.2h0M662.8 126.3h0M658.3 133.4h0M654.5 90.9h0M665.4 126.1h0M652.3 123.2h0M661.8 98h0M654.1 126.2h0M662.3 103.4h0M660 99.6h0M647.8 111.4h0M663.1 112.7h0M647.8 130.4h0M648.1 118.8h0M654.6 103.8h0M649.7 133.3h0M663.6 110.9h0M654.3 117.4h0M655.8 134.6h0M647.9 106.8h0M662.3 131.6h0M658.9 103.3h0M654.5 108.8h0M654.5 106.5h0M651.3 110.9h0M655.2 141.6h0M647.7 118.7h0M659.7 129.8h0M649.4 122.5h0M649.5 129.2h0M657.2 84.4h0M650.3 111.3h0M662.4 140.1h0M650.2 123.8h0M657.8 99.1h0M650.1 107.5h0M650.1 109.7h0M657.2 93.4h0M662.6 109.9h0M660.4 118.4h0M654.2 130.3h0M651.2 114.9h0M659.3 122.1h0M663.8 98.6h0M649 104.4h0M663.8 107.5h0M654.1 111.1h0M662.8 134.3h0M656.5 117h0M665.4 96.6h0M658.9 104h0M658.6 123.9h0M648.5 140.4h0M655.3 95.1h0M656.2 104.1h0M658.8 101.4h0M653.9 108.9h0M651.3 105.4h0M657.5 92.6h0M657.3 90h0M658.8 89.3h0M660.5 93.3h0M659.6 92.1h0M658.1 108h0M664.6 119.6h0M653 117.1h0M650.2 101.2h0M657 123.1h0M654.4 128h0M664.4 142h0M658.5 124.5h0M662 103.4h0M652.1 114.6h0M663.3 128.2h0M662.4 98.6h0M664.5 102.5h0M648.1 125.4h0M650.3 121h0M655.1 126.5h0M655.7 88.9h0M649.3 116.5h0M656.4 90.1h0M657.2 123.1h0M657.8 85.4h0M657.2 97h0M648.7 139.2h0M659.3 93.8h0M656.9 97.4h0M658.9 95.8h0M659.2 113.5h0M648 108.6h0M656.8 131.7h0M648 139.4h0M664.8 105.1h0M653.5 112.6h0M651.4 99.6h0M665.1 132.3h0M651.8 111.6h0M648.2 131.8h0M661.5 115.9h0M661 106.2h0M657.3 109.1h0M662.4 105.6h0M649 116.6h0M659.5 133.9h0M662.5 128.8h0M657.9 104.3h0M662.4 120.7h0M650.8 110.6h0M662.5 132.7h0M655.7 107.7h0M647.6 105.5h0M649.2 107.3h0M654.7 105.4h0M652.4 117.6h0M659.1 96.5h0M662.9 92.6h0M664.3 115.5h0M655.9 108.8h0M660.5 115.2h0M649.2 123h0M651.1 106.4h0M651.4 105.1h0M648.7 132.4h0M658.5 120.8h0M653.5 141.4h0M653.7 115.2h0M663.8 135.5h0M654.2 129.1h0M658.5 89h0M660.4 86.4h0M648.8 113.5h0M656.4 107.5h0M663.2 113.9h0M647.6 132.7h0M654.9 117.3h0M658.2 92.2h0M660 109.3h0M661.3 106.6h0M649.8 104.6h0M648.8 106.4h0M651.3 109.9h0M664.6 105.5h0M663.4 122.2h0M655.6 94.5h0M651.8 121.5h0M652.3 108.7h0M661.3 98.5h0M663.9 115.3h0M654.4 134.2h0M654 108.4h0M654.7 119.5h0M658.5 97.5h0M655.6 101.3h0M663.7 101.8h0M656.4 95.8h0M660.6 91.8h0M662.1 109.5h0M661.4 121.5h0M650.7 116.3h0M657.9 116.1h0M647.5 103.8h0M651.5 137.5h0M659.1 100.3h0M659.4 137.7h0M649.3 133.7h0M648.3 112h0M650.8 96.2h0M656.6 127.6h0M664.9 136.1h0M664.7 136.2h0M662.5 125.9h0M654.8 111.8h0M653.9 114.7h0M660.5 86.5h0M649.9 105.6h0M659 88.2h0M655.1 87.3h0M663.1 119.8h0M655.4 87.3h0M653.4 112.1h0M659.1 85.2h0M650.8 98h0M664.6 112.9h0M657.5 102.3h0M656.4 129.6h0M664.3 132.3h0M651.4 109.6h0M650.8 126.6h0M647.2 118.8h0M649.3 117h0M658.1 128.2h0M653.9 98.5h0M648.9 114.9h0M648.4 128h0M650.5 123.1h0M649.4 120.9h0M662 133.7h0M664.5 108.8h0M661.8 112.9h0M658.5 99.8h0M657 117h0M651.8 110.5h0M659.7 92.3h0M653.7 124.3h0M647.4 142.1h0M648.4 112h0M654 97.9h0M655.3 88h0M656.4 96.6h0M661.9 113.4h0M653.2 112.6h0M661.6 102.6h0M648.5 118.2h0M659.3 111.3h0M656.2 101.7h0M652.3 131.8h0M650.7 127.1h0M663.7 106h0M661.8 124.2h0M663.7 119.1h0M662.7 93.5h0M663.4 112.2h0M657.5 141.1h0M659.3 111.1h0M663.9 104.2h0M648 122.3h0M665.1 100.7h0M651.2 118.6h0M647.7 103.8h0M654.3 100.4h0M659.1 97.5h0M655.3 134.3h0M654.4 91h0M652.1 96.5h0M653.2 104.8h0M660.8 93.1h0M657.3 106.1h0M661.8 139.3h0M664.8 124.5h0M655.6 123.9h0M651.2 103.7h0M653.9 120.5h0M650 113.4h0M650.9 122.7h0M649.2 126.7h0M661.8 123.5h0M653.2 121.9h0M654.7 96.9h0M652.8 109.8h0M662 104.2h0M660.7 94.7h0M651.1 139.9h0M651.3 98.5h0M660.1 94.7h0M651.2 107.8h0M653.4 99.3h0M651.8 101.4h0M656.3 98h0M647.2 101.8h0M655.8 90.5h0M663.8 95.1h0M657 102.4h0M663.4 94.6h0M660.4 96.3h0M655.6 109h0M653.5 101.2h0M664.9 113.7h0M656 94.6h0M659 102.6h0M664.3 105.3h0M659.5 108.1h0M652.1 99.4h0M648.1 84.2h0M655 81.1h0M660.4 85.1h0M660.7 73.4h0M656.2 71.7h0M648.3 89.9h0M655.8 76.1h0M652.3 91h0M649.4 86.5h0M649.2 84.1h0M651.5 79.7h0M651.8 80.8h0M651.2 75.7h0M655.5 83.6h0M654.2 76h0M657.5 82.6h0M647.6 88.2h0M652.4 76.1h0M660 81.4h0M658.5 69.3h0M653.7 70.1h0M658 83.6h0M656.8 87.5h0M647.5 82.5h0M655.9 78.4h0M659.3 136h0M658.1 128.4h0M657.9 139.4h0M651.3 128.1h0M647.8 133.4h0M657.2 136.9h0M661.6 134.4h0M664.3 136.4h0M658.2 141.8h0M644 135.7h0M654.1 127.1h0M653 140.5h0M647.7 138.7h0M661 130.1h0M651.4 132.2h0M657.2 138.2h0M660.6 137.9h0M650.7 126.5h0M654.2 140.4h0M651.7 133.4h0M664.9 133.3h0M651 128.5h0M645.2 123.5h0M667 131.5h0M660.1 135.2h0M659.7 140.5h0M659.9 138.9h0M657.5 127.9h0M660 123.9h0M654 141.4h0M647 131h0M653.4 139.3h0M657.6 136.7h0M649.9 132.1h0M648.9 132.3h0M666.4 127.4h0M660.5 125h0M649.4 127.5h0M649.5 130.8h0M656.6 131.9h0M661.8 129.9h0M651.7 138.9h0M662.2 139h0M644.3 137.1h0M656.4 139.5h0M653.7 131.5h0M647.9 133.5h0M656.8 140.3h0M661.2 140.8h0M653 139.9h0M651.3 133.9h0M656.7 132h0M649.1 132.8h0M657.5 132.7h0M660.6 127.6h0M654.2 134.4h0M642.2 125h0M666.8 126.3h0M668.4 135.3h0M655.8 125.1h0M656.2 139.6h0M657.5 136.3h0M667.3 129.1h0M652.6 124.2h0M653.4 130.3h0M658.2 136.4h0M651.4 132.9h0M656.6 135.6h0M661.9 135.5h0M652.8 137.2h0M665 133h0M655.5 128.7h0M660.3 134.3h0M653.4 124.2h0M659 137.5h0M651.4 132.1h0M647.1 125.1h0M658 140.9h0M660.9 133.7h0M661.9 130.9h0M652.6 138.6h0M671 135.5h0M653.8 136.4h0M659.4 129.7h0M655.4 124.9h0M654.6 131.2h0M649.4 134.6h0M651.3 123.5h0M663.9 124.9h0M663.3 133.9h0M651 137.6h0M660.7 126.2h0M664.2 132.8h0M657.6 129.9h0M655.7 131.3h0M657.8 129.5h0M660.8 133.6h0M653.3 134.2h0M650 127.7h0M658.8 134.1h0M651.9 138.2h0M646.2 137.2h0M654.8 135.3h0M665.6 138.6h0M657.5 128.1h0M649.6 130.8h0M645.5 138.2h0M653.9 138.7h0M657 128.8h0M665.5 129.7h0M656.6 140.4h0M661.4 127.7h0M665.9 133.7h0M663 132.9h0M660.4 128.4h0M661 127.4h0M646.8 132.7h0M656.8 134.6h0M647.3 132.9h0M671.5 125.7h0M663.3 136.7h0M655.1 123.9h0M654 141.1h0M654.1 140h0M660.5 133h0M654.1 133.9h0M655.3 134.7h0M649.9 124.4h0M660.3 129h0M661.1 128.3h0M661 134.1h0M655.3 133.2h0M662.7 132.6h0M663.5 137.2h0M652.8 126h0M660.7 135.1h0M664.3 129.6h0M647.8 134.9h0M656.6 141.4h0M648.9 132.6h0M660.8 131.8h0M662.7 126.5h0M653.9 126.9h0M661.1 137.4h0M656.2 140.7h0M648.2 125.8h0M661.6 124.2h0M647 132.2h0M645.8 137h0M658.9 133.8h0M665.7 140.1h0M658.6 141.4h0M662.1 128h0M659.7 125.4h0M659.2 131.9h0M659.6 136.1h0M663.8 124.9h0M657.5 126.2h0M645.8 126.7h0M644 124.4h0M648.7 124.7h0M656.4 141.5h0M645.2 127.7h0M654.5 125.1h0M658 136.5h0M649.5 125.4h0M649.4 128.7h0M646.9 125.4h0M647.4 129.2h0M653.1 137.7h0M632.8 123.8h0M655.8 124.6h0M657.6 137.5h0M658 139.2h0M643.5 125.6h0M649.7 124.1h0M653 132.3h0M649.9 129h0M660.8 133.9h0M651.8 131.4h0M647.4 134.2h0M655.1 140.6h0M651.5 126.7h0M648.1 125.8h0M649.7 132.9h0M656 123.6h0M657.7 131.9h0M650.8 131.6h0M650.2 127.4h0M661 136.2h0M672.8 129.5h0M651.3 129.4h0M657.3 125h0M655.5 128.4h0M656.1 137.6h0M659.7 131.9h0M654.3 134h0M654.3 127.1h0M663 133h0M661.3 125.4h0M653 137.5h0M656.9 124.7h0M643.6 131.6h0M658.5 135.9h0M647.9 125.9h0M658.6 138.8h0M656.5 136.9h0M647.5 135.8h0M652.4 136.1h0M657 137.4h0M667.9 133.7h0M663.3 132.3h0M653.5 138.8h0M668.6 123.5h0M656 135.4h0M657.8 139.2h0M669 135.1h0M656.7 139.8h0M661.9 124.3h0M655.8 126.8h0M663.7 135h0M654.7 138.4h0M664.8 134.4h0M644.6 123.9h0M665 132.3h0M657.8 141.9h0M644.4 133.4h0M657.9 134.1h0M648.5 137.1h0M652.9 132.9h0M656.9 137.5h0M668.9 138.2h0M655 139.1h0M668.7 137.2h0M654 123.7h0M651.4 138.8h0M654.1 136.2h0M653.8 140.1h0M665 125h0M640.4 127.7h0M649.4 131.3h0M660.9 124.2h0M656.5 132.8h0M654.5 139.5h0M661.5 130.5h0M651.3 130.9h0M665.2 123.7h0M657.6 126.3h0M659.2 134.3h0M655.9 124.6h0M650.6 130.4h0M656.9 135.8h0M652.7 133h0M656.2 129.8h0M655.2 138.1h0M656.3 128h0M656.7 123.6h0M655.4 125.7h0M669.6 133.7h0M653.3 141.6h0M652.1 125.6h0M655.3 138.8h0M665.6 125.3h0M658.9 137.4h0M652.1 124.9h0M658.5 136.1h0M656 131.2h0M651.8 124.7h0M663.8 140.5h0M645.1 126.6h0M646.5 133.5h0M647.8 129.4h0M652.3 139h0M655.4 133.9h0M662.6 134.7h0M653.2 138.9h0M652.3 133.7h0M657.1 138.4h0M664 136.6h0M659.7 132.4h0M661.3 136.1h0M663.3 124.5h0M659.6 127.8h0M657.1 134.2h0M642.3 131.6h0M653.2 125.6h0M647.8 128h0M651.3 140.4h0M654.5 128.9h0M661.6 128.9h0M664.2 134.9h0M660.8 130.7h0M705.2 123.7h0M648.3 69.2h0M651.5 69.2h0M660.9 72.2h0" stroke="#9a9a9a" stroke-width="2.3" stroke-linecap="round" fill="none"/><path d="M643.5 117.6h0M639.1 113.7h0M644.3 100.5h0M646.9 99.7h0M646.7 106.1h0M646.1 113.2h0M646.8 107.7h0M642.6 98.2h0M645.6 121.6h0M646.5 99.4h0M635.2 116.2h0M637.6 107h0M643.4 121h0M639 112.2h0M645.6 104.6h0M640 116.6h0M645.7 115.5h0M641.4 122.6h0M640 119.9h0M641 99.6h0M635.2 97.8h0M636.4 118.8h0M646 105h0M645.7 113.9h0M644.2 109.2h0M639.8 113.9h0M637.5 110h0M638 107h0M641.9 121.9h0M644 122.6h0M640.2 106.2h0M636.2 110.5h0M646.9 99.3h0M644.3 107.6h0M642.2 104h0M641.6 108.2h0M638.8 122.7h0M641.9 118.2h0M646.5 111.2h0M644 114.7h0M637.6 114.3h0M646.1 102.6h0M646.5 105.3h0M638.3 108.4h0M644.4 96.9h0M645.4 117.3h0M646.8 114h0M644.2 114.7h0M644.6 108.4h0M646.4 108.4h0M643.4 106h0M639 102.7h0M646.9 119.3h0M646.8 98.5h0M643.2 96.3h0M638.8 95h0M643.2 113.4h0M646.5 119.8h0M644.2 107.7h0M640 99.3h0M643 103.2h0M635.3 98.3h0M643.3 101.9h0M645.3 113h0M636.5 101.6h0M641.1 107.3h0M642.5 102.6h0M643.4 99.7h0M646.6 97.3h0M642.1 113.9h0M594.5 108.1h0" stroke="#33b3d8" stroke-width="2.3" stroke-linecap="round" fill="none"/><path d="M666.8 106.4h0M667.3 107.1h0M665.8 122.5h0M667.4 111.2h0M665.9 115.3h0M667.3 121.5h0M669.2 112.3h0M665.5 121.8h0M668.5 108.5h0M666.9 113.9h0M665.5 113.3h0M666.1 104.6h0M665.5 123h0M667.8 121.1h0M667.6 115.4h0M667.1 121.6h0M665.6 112h0M665.5 119.9h0M670.1 104.6h0M667.9 105.2h0M665.6 115.7h0M665.6 113.4h0M666.5 121.9h0M666.3 115.8h0M666.1 110.6h0M666.2 105.2h0M665.7 119.9h0M665.5 108.3h0M666.7 105.7h0M669.5 112.9h0M666 118.6h0M671.1 116h0M666.1 118.1h0M666.7 106.7h0M669.4 109h0M668.3 104.5h0M666.8 118.8h0M667.5 109.8h0M665.5 120.5h0M666.2 118.4h0M667.3 112.8h0M665.7 110.4h0M665.5 121.9h0M670.9 109.7h0M665.8 121.5h0M670.5 115.9h0M669.7 112.2h0M669.5 114.9h0M665.6 122.7h0M670.2 116.3h0M665.9 106.7h0M665.5 119.9h0M667.3 113.2h0M665.6 113.9h0M669.8 118.8h0M665.7 104.5h0M668.2 123.1h0M669.8 117h0M670.3 107.9h0M670.8 115.6h0M690.2 64.1h0M667.3 72.2h0M667.3 88.3h0M667.3 94.2h0M671.2 99.3h0M679.9 99.3h0M675.2 107.3h0M676 111.7h0M673.6 119.1h0M679.9 119.1h0" stroke="#f28a6c" stroke-width="2.3" stroke-linecap="round" fill="none"/></g><path d="M646.9 25.3V144.4M665.5 25.3V144.4M592.9 123.4H719.5" stroke="#555" stroke-width="0.6" stroke-dasharray="2 1.3" fill="none"/><rect x="592.9" y="25.3" width="126.6" height="119.1" fill="none" stroke="#777" stroke-width="0.8"/><text x="585.6" y="145.5" font-size="8.4" text-anchor="end" textLength="4" lengthAdjust="spacingAndGlyphs" fill="#1e1e1e">0</text><text x="585.6" y="130.8" font-size="8.4" text-anchor="end" textLength="4" lengthAdjust="spacingAndGlyphs" fill="#1e1e1e">1</text><text x="585.6" y="116.2" font-size="8.4" text-anchor="end" textLength="4" lengthAdjust="spacingAndGlyphs" fill="#1e1e1e">2</text><text x="585.6" y="101.5" font-size="8.4" text-anchor="end" textLength="4" lengthAdjust="spacingAndGlyphs" fill="#1e1e1e">3</text><text x="585.6" y="86.9" font-size="8.4" text-anchor="end" textLength="4" lengthAdjust="spacingAndGlyphs" fill="#1e1e1e">4</text><text x="585.6" y="72.2" font-size="8.4" text-anchor="end" textLength="4" lengthAdjust="spacingAndGlyphs" fill="#1e1e1e">5</text><text x="585.6" y="57.6" font-size="8.4" text-anchor="end" textLength="4" lengthAdjust="spacingAndGlyphs" fill="#1e1e1e">6</text><text x="585.6" y="43" font-size="8.4" text-anchor="end" textLength="4" lengthAdjust="spacingAndGlyphs" fill="#1e1e1e">7</text><text x="585.6" y="28.3" font-size="8.4" text-anchor="end" textLength="4" lengthAdjust="spacingAndGlyphs" fill="#1e1e1e">8</text><text x="591.9" y="157.4" font-size="8.4" text-anchor="middle" textLength="6.3" lengthAdjust="spacingAndGlyphs" fill="#1e1e1e">-4</text><text x="607.7" y="157.4" font-size="8.4" text-anchor="middle" textLength="6.3" lengthAdjust="spacingAndGlyphs" fill="#1e1e1e">-3</text><text x="623.6" y="157.4" font-size="8.4" text-anchor="middle" textLength="6.3" lengthAdjust="spacingAndGlyphs" fill="#1e1e1e">-2</text><text x="639.4" y="157.4" font-size="8.4" text-anchor="middle" textLength="6.3" lengthAdjust="spacingAndGlyphs" fill="#1e1e1e">-1</text><text x="656.2" y="157.4" font-size="8.4" text-anchor="middle" textLength="4" lengthAdjust="spacingAndGlyphs" fill="#1e1e1e">0</text><text x="672" y="157.4" font-size="8.4" text-anchor="middle" textLength="4" lengthAdjust="spacingAndGlyphs" fill="#1e1e1e">1</text><text x="687.8" y="157.4" font-size="8.4" text-anchor="middle" textLength="4" lengthAdjust="spacingAndGlyphs" fill="#1e1e1e">2</text><text x="703.7" y="157.4" font-size="8.4" text-anchor="middle" textLength="4" lengthAdjust="spacingAndGlyphs" fill="#1e1e1e">3</text><text x="719.5" y="157.4" font-size="8.4" text-anchor="middle" textLength="4" lengthAdjust="spacingAndGlyphs" fill="#1e1e1e">4</text><path d="M589.9 142.5H592.9M589.9 127.8H592.9M589.9 113.2H592.9M589.9 98.5H592.9M589.9 83.9H592.9M589.9 69.2H592.9M589.9 54.6H592.9M589.9 40H592.9M589.9 25.3H592.9M592.9 144.4V147.4M608.7 144.4V147.4M624.6 144.4V147.4M640.4 144.4V147.4M656.2 144.4V147.4M672 144.4V147.4M687.8 144.4V147.4M703.7 144.4V147.4M719.5 144.4V147.4" stroke="#777" stroke-width="0.9" fill="none"/><circle cx="586.6" cy="15.9" r="2.0" fill="#33b3d8"/><text x="590.8" y="18.2" font-size="6.45" fill="#1e1e1e">Down (50)</text><circle cx="628" cy="15.9" r="2.0" fill="#9a9a9a"/><text x="632.2" y="18.2" font-size="6.45" fill="#1e1e1e">Unchanged (1,626)</text><circle cx="692.6" cy="15.9" r="2.0" fill="#f28a6c"/><text x="696.8" y="18.2" font-size="6.45" fill="#1e1e1e">Up (88)</text><text x="596.5" y="35.7" font-size="6.5" font-style="italic" fill="#1e1e1e">cry1cry2</text><text x="596.5" y="43.4" font-size="6.5" fill="#1e1e1e">m<tspan font-size="4.5" dy="-2.5">6</tspan><tspan dy="2.5">A non-hyper</tspan></text><text x="596.5" y="51.1" font-size="6.5" fill="#1e1e1e"><tspan font-style="italic">n</tspan> = 1,764</text><text transform="translate(574.3 85.4) rotate(-90)" font-size="9.3" text-anchor="middle" fill="#1e1e1e">−log<tspan font-size="6.5" dy="2.6">10</tspan><tspan dy="-2.6"> (<tspan font-style="italic">P</tspan> value)</tspan></text><text x="656.2" y="170.9" font-size="9.3" text-anchor="middle" fill="#1e1e1e">log<tspan font-size="6.5" dy="2.6">2</tspan><tspan dy="-2.6">(<tspan font-style="italic">cry1cry2</tspan> TS</tspan><tspan font-size="6" dy="-3.8">B/D</tspan><tspan dy="3.8">)</tspan></text><clipPath id="vc4436"><rect x="421.4" y="222.4" width="126.6" height="118"/></clipPath><g clip-path="url(#vc4436)"><path d="M479.8 300.7h0M480 281.9h0M483.4 288.5h0M491.5 287.7h0M486.9 279.5h0M483.6 319.5h0M478.7 319.4h0M486.4 321.8h0M482.9 326.9h0M488.8 281.9h0M481.3 324.3h0M489.1 306.4h0M488.3 318.7h0M486.2 294.4h0M492.9 291.1h0M480 292.3h0M485.1 329.7h0M484.8 291.8h0M478.6 320.5h0M489.4 326h0M483.5 315.4h0M487.9 331.1h0M477.6 292.3h0M489.4 326.9h0M490.2 283.2h0M482.7 327.2h0M489.2 305.2h0M493.3 331.6h0M476 318.2h0M492.9 288.3h0M481.3 317.8h0M483.6 276.1h0M493.9 287h0M481.1 301.3h0M493.2 330.9h0M491.8 308h0M487.3 287.9h0M482.7 318.4h0M486.2 298.4h0M493.2 288.7h0M476.3 291.2h0M482.2 308.5h0M477.9 330.6h0M479.2 287.4h0M486.6 280.9h0M482.7 292.2h0M493.6 330.7h0M490.1 284.3h0M481.4 326.6h0M493.8 317.5h0M480.5 291.1h0M477.6 325.1h0M482.4 325.4h0M484 309.8h0M487.3 319.2h0M480.4 280.8h0M481.4 289.7h0M483.8 309.3h0M488.3 280h0M488.3 321h0M475.5 294.3h0M479.9 313.5h0M478.9 290.5h0M487.5 330.9h0M490.4 283h0M480.6 293h0M484.6 281.2h0M476.9 308.2h0M483.2 306.2h0M480.5 326.9h0M489.5 307.7h0M481.9 286.6h0M492.1 291.6h0M485.1 321.8h0M487.2 306.4h0M492.5 303.3h0M485.7 314.4h0M479.3 284.8h0M488.6 310.1h0M484.7 292.8h0M491.5 286.4h0M480.9 289.7h0M485.7 302.3h0M476.7 306.5h0M487.2 310.5h0M483.5 318.9h0M482.5 309.8h0M478.6 309.7h0M490.5 294.1h0M482.4 305.6h0M489.4 314.6h0M484.8 301.8h0M479.7 290.8h0M479 333h0M493 284.8h0M492.6 306.9h0M480.7 298.1h0M483 313.6h0M480.5 292.2h0M482.8 280.1h0M480.1 318.7h0M493.7 288.1h0M488.2 322h0M478.9 310.2h0M480.6 302.3h0M485.1 279.1h0M477.5 289h0M487.3 292.3h0M493.1 303.8h0M488.2 280.3h0M486.2 311.1h0M477.1 298.7h0M483.2 301h0M488.4 289.1h0M485.2 278.4h0M493 284.5h0M490.5 321.4h0M475.8 329.8h0M484.1 317.2h0M482.4 289.3h0M483.4 278.8h0M477.1 293.1h0M493.9 307.8h0M483.1 327.1h0M484.6 306.7h0M484.5 307.7h0M482 337.9h0M490.1 306.5h0M477.5 283.4h0M483.4 313.7h0M489 284.7h0M488.2 281h0M485.5 291.9h0M493.6 312.8h0M477.4 316.3h0M488.9 306h0M484.7 322.7h0M484 283.9h0M479.6 312.5h0M487.6 291h0M475.8 286.9h0M481.7 306.3h0M475.9 325.4h0M480.2 325.1h0M485.3 315.5h0M485.4 320.2h0M488.8 280.9h0M483.6 318.9h0M491.9 338.6h0M493.6 289h0M485.1 327.9h0M492 324.1h0M484.9 294.4h0M482.1 307.6h0M483.8 331.7h0M491.4 298.3h0M483 299.9h0M476.2 285.6h0M485.4 289.6h0M477.3 330.3h0M488.4 285.4h0M493.3 303.8h0M487.9 319.5h0M493.8 334.2h0M485.7 277.2h0M489.2 317.8h0M477.7 311.5h0M475.7 308.5h0M492.9 327.3h0M493.8 306.9h0M483.6 276.2h0M491.7 325.9h0M478.2 293.5h0M491.8 307.3h0M481.4 308h0M489.3 291h0M478.1 309.9h0M478.1 296.2h0M485.4 291.2h0M493.4 322.6h0M477.9 320.7h0M482.5 299.2h0M480.8 286.2h0M487 305.9h0M487.6 300h0M482.4 282.4h0M475.6 301.1h0M479.1 302.4h0M491.6 294h0M483.7 281.7h0M492.8 325.2h0M492.7 336.6h0M492.5 295.9h0M491.2 292.6h0M480.6 291h0M489.5 325.3h0M475.7 293.4h0M491 316.4h0M490.3 336.8h0M486.6 306.1h0M485.4 281.6h0M484.8 284.9h0M478.7 335.9h0M483.7 326.9h0M493.9 321.8h0M487.8 328.9h0M487.5 318h0M485.4 325h0M478.2 337.8h0M488 324.5h0M486.3 297.3h0M476.3 312.2h0M487.7 320.1h0M492.8 286.4h0M480.2 299.4h0M488.7 324.5h0M479.8 284.1h0M484.3 298.9h0M477.7 303.2h0M479.5 328.5h0M478.1 323.3h0M479 323.7h0M490.7 295.9h0M480.5 332.5h0M488.4 289.9h0M480.4 338.3h0M482 295.7h0M489.9 292.4h0M476 301.6h0M489.1 316.1h0M492 320.7h0M483.3 292h0M491.9 303.2h0M491.7 318.8h0M485.3 278.4h0M476.6 300.2h0M490.2 333.2h0M478.5 312.7h0M491.9 296.1h0M488.3 284.2h0M491.1 293.6h0M490.9 282h0M478.1 282h0M486.4 295.1h0M490.9 321.3h0M478.9 281.8h0M486.8 300.4h0M490.8 300.6h0M480.3 282.6h0M478.2 290.4h0M481.1 299.5h0M479.6 281.6h0M482.2 315h0M476.3 285.9h0M487.5 299.2h0M490.6 303.7h0M484.7 321.9h0M484.4 276.4h0M482.9 284.1h0M492.1 320.8h0M493.2 296.1h0M484.9 284.7h0M476.8 330.7h0M483.5 287.2h0M479.5 289h0M489.9 328.7h0M492.8 321.2h0M485.6 293.5h0M490.8 286.7h0M484 323.9h0M488.7 294.4h0M493.1 311.3h0M486.1 316.4h0M478.2 294.3h0M479 289h0M488.3 304.4h0M488.6 288.3h0M481.3 318h0M479.7 305h0M481.7 299.6h0M476.1 310.2h0M482.6 312.8h0M488.6 297.6h0M484.5 303.5h0M482.7 327.7h0M481.8 338h0M484.5 288.8h0M492.1 285.7h0M485.4 301.7h0M480.2 300.1h0M492.1 316.4h0M486.8 308.9h0M483.9 298.2h0M489.7 282.2h0M488.5 325.7h0M478.5 288.2h0M489.4 317h0M493.9 331.2h0M484.8 310.6h0M476.6 292.3h0M490.1 304.8h0M475.6 289.2h0M484.7 298h0M484.9 301.7h0M483.8 316.4h0M475.8 285.8h0M484.2 277.6h0M480.1 318.7h0M492.7 288.7h0M491 303.7h0M490 295.4h0M493.5 318.9h0M489.2 296.1h0M479.7 336.1h0M481.3 286.4h0M489.6 288.1h0M485.3 337.5h0M478.6 312.8h0M478.3 285.9h0M481.7 288.5h0M490.8 317.1h0M486.7 285.3h0M475.6 328.7h0M488.9 328.6h0M487 319.8h0M488.6 310.7h0M487 285.8h0M481.5 332.7h0M492.4 290.4h0M476.4 323.7h0M483 283.2h0M483.8 281.5h0M476.4 290.1h0M490.3 321.8h0M482.7 300.6h0M490.9 299.1h0M486.5 314.3h0M492.3 295.7h0M481.6 300.8h0M479.4 312.9h0M480.7 326.9h0M476.9 290.9h0M492.2 332.6h0M483.5 327.9h0M487.6 293.8h0M488.3 303.3h0M490.3 295.7h0M485.6 302.2h0M478.7 285.4h0M488.6 289.5h0M491.6 295.5h0M483 288.9h0M480.4 293h0M490.9 282.9h0M487.9 325.8h0M483.1 330.3h0M492.1 291.8h0M484.4 338.8h0M483.5 331h0M488 325h0M490.2 320.3h0M477.4 320.2h0M476.3 319.2h0M478.3 290.6h0M476.4 308.3h0M485.4 315.5h0M477.5 323.6h0M489.5 323.4h0M491.3 310.2h0M487.2 312.6h0M486.8 298.9h0M485.8 312h0M487.4 323.4h0M487.2 304.3h0M492.4 334.3h0M492.7 303.6h0M479.8 309.9h0M490.6 285.9h0M484.5 311.4h0M490.8 283h0M475.9 333.5h0M475.8 287.5h0M486.2 311h0M484.1 301.5h0M483.8 297.1h0M491 323.6h0M486.2 278.1h0M485.8 329.4h0M479.6 319.5h0M489.8 300.4h0M487.6 325h0M484.3 305.1h0M488.6 279.9h0M478.3 286.8h0M477.2 312.1h0M488.9 323.9h0M485.3 299.2h0M478.2 332.7h0M481.6 303h0M476.9 329.7h0M485 323.4h0M482.9 279.8h0M476.4 291.4h0M486.1 300.9h0M478 286.2h0M485.2 289.9h0M490.8 301.1h0M484.4 289.7h0M482.9 283.8h0M476.4 304.6h0M476.9 335.1h0M486.8 325.1h0M482.1 321.5h0M491.4 306.8h0M478.6 282h0M489 320.6h0M489.2 331h0M478.1 327.4h0M478.2 291.5h0M489.1 322.7h0M487.8 308.6h0M493.4 319.1h0M486.7 286.1h0M483.4 294.9h0M487.2 285.8h0M489.6 290.9h0M492.3 334.3h0M492.8 338h0M490.2 300.7h0M488 315.2h0M476.3 330.6h0M486.8 324.4h0M489.2 294.5h0M480 287.6h0M475.6 308.5h0M490.2 295.7h0M480.6 310.3h0M490.1 282.8h0M488.2 321.4h0M486.3 322.9h0M483.3 276.5h0M487.1 283.3h0M492.2 324.6h0M475.7 306.7h0M488.3 309.3h0M492.9 289.5h0M480.1 303.6h0M493.4 318.4h0M483.6 313h0M489.9 336h0M490.2 334h0M483 310.8h0M483.9 317.4h0M477.8 311.4h0M488.4 300.7h0M482.8 280.5h0M484 291.7h0M489.7 318.6h0M488.2 298.9h0M483 324.7h0M477.4 314.5h0M484.3 287h0M480.5 296.1h0M478.3 331.2h0M493.4 291h0M492.4 302.7h0M493.8 319.2h0M482 276.8h0M475.7 297.4h0M491.8 325.2h0M482.8 302.2h0M483.1 286h0M492.4 288.3h0M491.2 296.4h0M476.5 315.9h0M493.3 327.4h0M475.8 309.5h0M488.8 302.8h0M486.6 311.2h0M489.2 324.3h0M483.5 308.1h0M481.1 287.3h0M481 292.1h0M485.2 276.3h0M477.1 313.7h0M482.3 297.2h0M479.2 331.6h0M487.2 338.7h0M480.8 282.1h0M493.3 288.9h0M480.6 281.1h0M489.1 308.6h0M490.2 308.9h0M490.1 310.3h0M492.7 301.3h0M484.5 314.2h0M484.8 291.8h0M492.3 307.1h0M492.2 291.1h0M492.1 287.6h0M491.9 298.7h0M492.1 288.7h0M479 328.4h0M493.2 301.2h0M486.1 318.1h0M478.1 294.9h0M485.8 308.5h0M475.7 306h0M479.5 326.8h0M482.2 277.6h0M481.9 337.1h0M476.1 321.6h0M491.8 308.9h0M484.6 283.8h0M493.1 306.3h0M479.8 309.1h0M482.1 292.3h0M477.2 319.3h0M482.1 309.2h0M479.9 325.8h0M477.6 297.8h0M492.9 285h0M479.9 312.2h0M485.2 320.9h0M476.1 284.9h0M488.3 278.7h0M477.8 290.4h0M480.4 304.9h0M485.2 286.2h0M480 318.4h0M486.4 296.9h0M488.4 312.3h0M479.1 318.3h0M477 290.9h0M479.6 289.2h0M484.2 302.4h0M475.8 291.9h0M494 305.8h0M484.8 291.8h0M477.5 282.6h0M490 288.7h0M475.9 319.4h0M483.4 300.3h0M493.4 307.1h0M480 304.5h0M477.6 285.9h0M487.9 291.2h0M482.8 275.8h0M487.6 312.1h0M488 292.8h0M481.4 325.2h0M477.8 289.2h0M492.1 304.5h0M481 297.1h0M486.9 320.2h0M492 316.5h0M478.3 318.6h0M489 315.6h0M485.7 285.4h0M492.8 306.9h0M487.1 287.3h0M487.5 313.8h0M483.3 281.6h0M479.7 309.8h0M484.6 296.7h0M482.8 287.6h0M479.8 302.7h0M487.2 295.9h0M485.3 279.2h0M485.3 320h0M479.1 329h0M480.8 286.4h0M491 318.1h0M481.1 316.8h0M478.8 314.3h0M489.4 290.3h0M481.6 293.5h0M484 322.7h0M490.3 316.5h0M481.4 318.6h0M480.7 317.9h0M492 319.1h0M488.3 281.7h0M489.3 333.7h0M487.6 300.9h0M482.6 279.5h0M493.6 307.4h0M479 280.3h0M475.7 318.9h0M479.8 291.8h0M487.9 298.5h0M489.5 287.1h0M476.7 287.6h0M489.8 311.4h0M484.1 329.5h0M481.7 293.2h0M478 302h0M482.7 298.4h0M476.1 301.6h0M491.1 328h0M476 305.3h0M489.7 298.7h0M486.2 323.9h0M491.6 305.1h0M491.2 313.6h0M478.4 326.4h0M482.5 294h0M482.3 283.1h0M487.8 281.6h0M484.1 299.8h0M491.3 296h0M485 326.8h0M489.6 308.7h0M478.1 296.2h0M481.3 290.3h0M479.8 294.6h0M487.1 310.5h0M486.3 323.1h0M492.7 314.8h0M491.6 320.1h0M478.3 319.7h0M485 307.5h0M484.4 276.4h0M492.3 325.4h0M480.4 286.2h0M479.7 312.5h0M479.6 326.6h0M490.2 322.9h0M488.3 288.7h0M476.1 300.8h0M477.9 305.3h0M476.6 287.6h0M492.1 306.8h0M489.1 298.2h0M484.5 324.8h0M486.3 315.9h0M486.6 328.3h0M486.4 300.8h0M477.3 332.1h0M475.8 317.2h0M491.2 288.3h0M492.4 309.5h0M493.1 327h0M482.9 284.3h0M484.6 286h0M478.4 308.4h0M489.9 303.6h0M493 298.5h0M477.9 290.7h0M481.1 295.2h0M481.7 279h0M483.4 287.8h0M488.1 304.8h0M486.6 307.1h0M487.6 302.6h0M480.3 294.8h0M482.7 288.5h0M477.8 315.5h0M485.8 305.2h0M486.3 281.7h0M492.2 322.5h0M476.8 297.5h0M482.4 276.5h0M487.8 335.9h0M476.2 299.5h0M481.7 286.4h0M481.3 301h0M484.9 328.5h0M486.9 332.9h0M477.8 325h0M493.1 325.9h0M482.7 328.9h0M475.6 326.7h0M485.1 311.7h0M488.1 298.9h0M489.5 312.8h0M477.3 297.1h0M484.6 323.3h0M475.7 320.9h0M488.5 328h0M484.5 328.7h0M488.9 310.5h0M477.1 310.5h0M492.8 290.7h0M476.2 318.7h0M481.8 293.9h0M489.3 325.8h0M483.5 287.1h0M484.2 319.5h0M493 307.1h0M476.8 292.2h0M488 311.4h0M486.5 294.9h0M480.2 335.2h0M493.9 307.9h0M482.2 319.7h0M493 327.8h0M485.4 333.9h0M480.5 318.7h0M487.1 287.5h0M492.3 331.1h0M481.1 311.4h0M492 312.7h0M482.2 286.1h0M483 287.7h0M480.5 338.1h0M493 304.8h0M475.9 311.8h0M493.2 334.5h0M482.4 303.5h0M489.7 283.3h0M486.3 302.6h0M486.4 316.9h0M477.2 312.5h0M489.2 327.7h0M483.9 315.1h0M479.1 292h0M483.1 279.2h0M476.8 332.6h0M479.2 283.3h0M486.8 300.5h0M479.6 286.6h0M477.4 335.1h0M482.7 317.5h0M484.4 294.4h0M493.5 307.7h0M484.2 304.2h0M481.5 286.8h0M476.6 328.8h0M483.3 299.9h0M480.8 307.3h0M491.1 297.5h0M476 317.2h0M490.2 320.8h0M476.2 294h0M486.1 282.1h0M485.3 333.7h0M486.8 330.7h0M488 291.4h0M486.9 311.6h0M491.7 330.3h0M489 295.5h0M489.9 281.8h0M486.7 324.6h0M482.7 328.3h0M479.2 335.2h0M493.3 295.5h0M488.7 285.5h0M485.5 300.3h0M476 323.3h0M489.8 308.6h0M480.6 283.8h0M482.6 277.4h0M492.2 297.4h0M492.5 285.2h0M491.2 289.3h0M491.3 314.9h0M492.1 304.1h0M493.4 309.8h0M485 326h0M475.8 330.1h0M493.5 313.5h0M482.9 276h0M491.6 301.9h0M477.5 284.5h0M478.7 303h0M482.7 278.4h0M479.2 306.1h0M488.8 285.2h0M491.5 289.7h0M476.5 290.2h0M477.4 337.2h0M477.7 307.3h0M489.5 318.7h0M487.5 279h0M489.7 305h0M490.7 290h0M477.8 298.5h0M487.3 338.2h0M476.1 292.5h0M479.6 313.9h0M486.9 299.1h0M492.8 297.4h0M482.5 326.4h0M489.3 305h0M477.8 297.7h0M485.4 332h0M486 292.8h0M487.7 333.5h0M477.4 319.8h0M478.7 303.3h0M478.6 326.9h0M493.6 299.9h0M477 315.5h0M490.9 306.2h0M479.9 336.3h0M483.7 317.7h0M482 280.9h0M479.9 293.3h0M492.5 270.3h0M486.2 267.3h0M483.6 265.1h0M491.2 271.8h0M492.4 278h0M477.9 265.6h0M489.4 279.8h0M485 260h0M484.1 275.1h0M484 261.9h0M492.3 260.7h0M485.8 279.7h0M483.9 278.9h0M487.6 271.2h0M483.6 260.1h0M483.7 259.5h0M477.8 274.7h0M481.6 265.5h0M490 270.8h0M486.5 276.9h0M491.6 265.3h0M484.1 269.6h0M490.8 278.5h0M483.6 272.4h0M484.3 262h0M489.7 331.1h0M485.7 332.7h0M481.8 324.4h0M492.6 332.4h0M506.7 332.7h0M481.7 335.4h0M490.4 327.6h0M474.8 332.2h0M478.1 326h0M495.1 327.2h0M474.9 332.5h0M485 322.5h0M484.2 331.8h0M488.5 332.6h0M484.2 327.7h0M492 321.8h0M479.5 327.5h0M485.4 322.9h0M490.6 321.9h0M470.4 330.6h0M480.4 331.6h0M488.6 324.1h0M489.4 322.9h0M480.7 337.9h0M489 328.4h0M493.7 326h0M490.6 327.1h0M474 326.1h0M481.8 330h0M484.9 326.3h0M484.3 320.5h0M490.6 327.6h0M483 331.1h0M475.3 322.3h0M482.6 325.7h0M475.1 325.4h0M485.3 335.1h0M487.5 321.7h0M454.3 321.9h0M493.1 322.5h0M484.4 331.2h0M487.3 328.1h0M484.8 334.7h0M494 327.6h0M496.5 321.7h0M461.4 323.5h0M482.8 321h0M486.9 327.2h0M483.7 322.7h0M483.7 333.8h0M485.6 337.5h0M486.5 321.3h0M493.9 325.2h0M490.4 328.6h0M479.2 321.4h0M497.2 332h0M491.2 331.4h0M480.1 335.6h0M490.4 325.9h0M493.3 330.1h0M484.4 335.7h0M485.3 334.5h0M464.4 322.7h0M481.6 335.8h0M483.4 337.1h0M492.8 331.1h0M478 336.3h0M484.1 323.9h0M475.5 322.8h0M475.2 334.4h0M494.4 326.3h0M485.4 328.1h0M497.3 328.6h0M476 336.9h0M492.6 334.3h0M502.3 321h0M486.7 320.4h0M494.5 323.4h0M485.4 331.3h0M478.5 327.9h0M479.2 321.4h0M482.5 332.6h0M490.7 330.4h0M493.6 323.5h0M475.7 324.6h0M488.8 333.5h0M489.6 323.4h0M491.3 320.6h0M475.2 330.6h0M473.7 324.4h0M490.7 324.5h0M483.2 322.4h0M483.5 338.4h0M478.6 331.9h0M472 320.6h0M478.6 320.9h0M497.5 320.8h0M482.9 329h0M489.8 330h0M489.4 324.6h0M502.8 332.5h0M478.6 333.6h0M487.5 324.1h0M483.1 321.6h0M487.1 323.1h0M470.4 336.8h0M488.9 327.2h0M493.6 329.9h0M484.2 330.8h0M470.7 324h0M480.8 336.2h0M491 332.6h0M477.6 320.9h0M466.3 325.1h0M482.7 326.6h0M484.6 337.1h0M483.9 330.3h0M486.6 331.4h0M495.4 335.9h0M493.6 321.7h0M483.2 321.2h0M471.5 326.3h0M472.7 332.8h0M475.1 331h0M482.8 327.4h0M486.4 321.6h0M476 336.2h0M484.6 330.1h0M492.4 329.8h0M488.4 323.7h0M487.7 334.5h0M493.6 321.7h0M496.6 327.7h0M477.6 323.6h0M482.9 322.8h0M470.7 331.8h0M480.5 320.8h0M482.2 335.1h0M484.3 322.7h0M490.6 337.2h0M489.9 334.1h0M476.4 331.7h0M479.7 332h0M482.4 326.9h0M489.1 335.1h0M480.1 331.4h0M480.6 324.9h0M486.1 334.4h0M479.2 323.6h0M487 325.5h0M472 333.5h0M477.5 325.4h0M498.6 337.2h0M484.9 333.6h0M492.8 325.4h0M484.9 338.8h0M484.1 330.6h0M485.4 325.4h0M480.6 329.7h0M476.2 324.2h0M490.4 331.2h0M476.4 333.8h0M481 329.4h0M498.4 322.5h0M490.8 327h0M497.2 327.9h0M482.1 324.2h0M485.1 331.3h0M474.9 326.3h0M465.3 331.3h0M492.6 335.5h0M483.8 332h0M476.7 338.6h0M483.5 328.8h0M478.8 333.2h0M499.6 323.9h0M484.4 324.7h0M478.8 325.9h0M483.8 325h0M488.7 335.3h0M477.1 325.9h0M493.3 330h0M473.6 325h0M495.7 326.7h0M477.4 322.9h0M493 320.6h0M489.1 333.7h0M479.4 329.2h0M492.5 324.1h0M497.2 337.2h0M475.2 328.1h0M496.9 330.7h0M486.5 337.8h0M486.9 331.1h0M480.4 322.7h0M481.9 327.7h0M489.1 333.8h0M492.4 326.5h0M484.6 331.2h0M489.4 328.9h0M495.3 326.4h0M490.8 333.9h0M492.3 338h0M491.9 331.5h0M480.4 336.8h0M471.4 327.4h0M494.1 327.1h0M486.1 321h0M480.4 323.1h0M478.4 331.9h0M494.1 333h0M478.7 323.6h0M479.5 327.7h0M491.2 327.7h0M485.2 328.6h0M468.3 329.1h0M494.3 324.4h0M495 330.5h0M472.7 324.3h0M487.7 326.8h0M488.7 323.3h0M489.4 326.3h0M476.9 334.4h0M490.7 323.5h0M493.9 323.9h0M486.1 327.8h0M489.3 324.3h0M475.7 326.8h0M498.5 321.1h0M501.8 327.4h0M488.6 329.5h0M477.1 323.3h0M461.4 326.7h0M488 333.4h0M495.1 336.7h0M491.1 335.4h0M491.3 325.9h0M475.4 326.2h0M495.9 327.9h0M498.1 326.4h0M508.5 332.4h0M497.4 325.9h0M473.7 320.8h0M485.9 329h0M476.7 329.4h0M477.6 330.4h0M490.8 327h0M489.5 323.1h0M489.7 330.4h0M486.3 329h0M498.2 323.9h0M487.7 322.1h0M485.1 329.5h0M480 328h0M488.1 331.8h0M479.6 330.1h0M481.4 330.5h0M492.4 337.3h0M474.7 323.8h0M481.3 334.8h0M487.8 320.8h0M490.5 321.6h0M483.7 333.5h0M496.9 325.6h0M477.2 330.1h0M485.9 333.8h0M476.3 334.3h0M472 332h0M475.3 320.7h0M488.3 332.1h0M479.2 333.6h0M476.8 328.9h0M487.3 322h0M489.9 335.9h0M497.3 321.4h0M487.3 329h0M489.5 321.4h0M471.8 334.8h0M482.2 336.6h0M479 321.1h0M478.2 334.1h0M485.1 327.7h0M493.9 329.6h0M487.8 325h0M479.4 333h0M483.9 333.1h0M483.2 327.7h0M493.7 323.3h0M483.2 322.1h0M484.4 338.4h0M474.8 326.6h0M483.7 329h0M489.9 337.7h0M489.7 335.1h0M486.9 325.1h0M475.8 336.6h0M489.4 332h0M486.6 320.8h0M489.8 327.1h0M481.1 331.4h0M486.3 326h0M485 328.4h0M492.9 326.3h0M480.9 327.4h0M491 327.5h0M489.4 338.3h0M491.2 324.6h0M485.3 337h0M487.5 323.6h0M424.6 330.6h0M451.5 337.2h0M529 329.2h0M486.3 241.4h0M481.5 257.5h0M480 263.4h0" stroke="#9a9a9a" stroke-width="2.3" stroke-linecap="round" fill="none"/><path d="M475.2 304.6h0M465.2 293.7h0M475.4 318.7h0M471.8 311.9h0M475.1 311.5h0M474.8 305.3h0M467 295.3h0M474.4 320.2h0M472 293.3h0M474 308h0M475 314.2h0M465.4 307.9h0M475.4 310.9h0M465.5 302.2h0M475.4 301.4h0M475.1 307.6h0M472.5 313.7h0M466.2 306.4h0M468 300.2h0M475.2 312.5h0M472.8 302.6h0M474.9 312.2h0M466.6 303.5h0M475.4 296.6h0M475.2 300.3h0M472.9 318.5h0M466 300.3h0M474.2 293.2h0M474.6 304.5h0M470.5 310h0M467.2 292.2h0M467.2 313.5h0M472.6 303.9h0M467.8 298.8h0M473.9 313.1h0M473.8 309.8h0M475.4 295.3h0M469.2 293.9h0M474.5 310.5h0M472.9 315h0M475.1 300.5h0M475.4 319.1h0M474.6 315h0M465.1 299.9h0M474.7 316.7h0M472.8 274.3h0M449.9 308.7h0M453.1 299.2h0M453.9 318.9h0M461 297h0M464.1 302.8h0" stroke="#33b3d8" stroke-width="2.3" stroke-linecap="round" fill="none"/><path d="M497.5 302h0M506.3 303.9h0M495 302h0M497.3 293h0M500.4 312.8h0M494.1 319.7h0M494 295h0M503.9 299.2h0M510.8 307.8h0M495.1 310.6h0M503.6 299.4h0M507 298.1h0M504.6 306.5h0M494 308.6h0M507.8 292.9h0M498.4 306.2h0M508.8 296.4h0M497.5 306.7h0M494.1 299.2h0M504.1 314.8h0M500.9 308h0M498.1 297.5h0M494 293.7h0M494.2 315.1h0M500.2 306.9h0M501.2 315.2h0M494.5 298.9h0M497.3 293.5h0M495.9 308.3h0M497.2 310.7h0M495.7 301.3h0M501 300.2h0M496.5 309.1h0M497.5 305.5h0M504.2 297.6h0M510.3 297h0M508.9 303h0M504 320.1h0M494.4 298.4h0M495.1 299.6h0M494.7 304.4h0M495 294.6h0M496.8 293.5h0M500.1 301.3h0M496.3 311.3h0M497.6 303.3h0M512.1 319.9h0M500 301.9h0M494.5 316.7h0M508.3 307.6h0M513 315.8h0M494.4 316.2h0M495.5 309.2h0M494 310.7h0M511.9 307.1h0M500.2 294.2h0M495.6 315.3h0M502.8 314.7h0M501.2 316.6h0M495.3 316h0M501.8 315.4h0M510.3 311.8h0M506.2 308.5h0M512.3 318h0M495.1 319.5h0M494.8 311.9h0M498.3 297.6h0M494.6 300.5h0M502.7 300.3h0M494.7 320.2h0M503.8 314.2h0M504.7 298.2h0M494.8 314.9h0M496.3 312.3h0M501 304.9h0M511.7 305.7h0M508.9 307.3h0M495.6 311.1h0M494.4 313.5h0M502.6 304.4h0M494.1 317.8h0M512.4 319.6h0M499 319.5h0M494 309.7h0M496.2 311.2h0M505.7 298.3h0M495.4 317.6h0M495.9 294.5h0M494.7 310.1h0M508.7 297.7h0M495.6 307.1h0M496.5 305.2h0M497.9 299.6h0M508 292.8h0M502.1 318.4h0M510.4 308.4h0M503 296.1h0M509.1 307.9h0M506.1 295.6h0M496.7 305.3h0M496.1 300.6h0M494.7 309.3h0M497.4 297.3h0M508.9 299.8h0M506.8 294.7h0M494.1 292.8h0M506.3 297.9h0M501.4 308.6h0M494.1 315.3h0M494.1 318.5h0M495.2 300.6h0M494 297.2h0M497.7 299.8h0M511.5 313.8h0M500.8 312.9h0M508.8 297h0M494.9 315.2h0M494.1 312.9h0M500.8 306.8h0M494.9 302.6h0M494 310.6h0M510.8 300.1h0M498.6 318.4h0M495.5 295.4h0M494.2 318h0M510.3 297h0M504.2 302.8h0M512.1 318.5h0M494.1 312.3h0M509.3 301.3h0M512.9 302.9h0M503.6 295.4h0M496.8 309.1h0M498.7 297.5h0M510.4 308.5h0M494 317h0M496.7 303.3h0M507.6 299.5h0M512.2 319.5h0M495.1 296.9h0M494.8 319.2h0M494.1 297.5h0M494.5 307.7h0M508.9 310.4h0M500.2 298.4h0M499.7 313.3h0M495.3 299.7h0M494 310.2h0M506.1 316.9h0M504.5 309.3h0M510 284h0M501.9 290.5h0M501.8 298.6h0M516.8 284.5h0M515.1 305.1h0M510.1 290.4h0M509.2 297h0M520.8 290.8h0M502.9 293.7h0M520.7 293.1h0M515.7 281.6h0M504.2 289.7h0M513.4 307.3h0M507.9 290h0M529 272.1h0M495.8 269.2h0M498.9 269.9h0M510 291.1h0M514.8 295.5h0" stroke="#f28a6c" stroke-width="2.3" stroke-linecap="round" fill="none"/></g><path d="M475.4 222.4V340.4M494 222.4V340.4M421.4 320.4H548" stroke="#555" stroke-width="0.6" stroke-dasharray="2 1.3" fill="none"/><rect x="421.4" y="222.4" width="126.6" height="118" fill="none" stroke="#777" stroke-width="0.8"/><text x="414.1" y="342.4" font-size="8.4" text-anchor="end" textLength="4" lengthAdjust="spacingAndGlyphs" fill="#1e1e1e">0</text><text x="414.1" y="327.8" font-size="8.4" text-anchor="end" textLength="4" lengthAdjust="spacingAndGlyphs" fill="#1e1e1e">1</text><text x="414.1" y="313.1" font-size="8.4" text-anchor="end" textLength="4" lengthAdjust="spacingAndGlyphs" fill="#1e1e1e">2</text><text x="414.1" y="298.5" font-size="8.4" text-anchor="end" textLength="4" lengthAdjust="spacingAndGlyphs" fill="#1e1e1e">3</text><text x="414.1" y="283.9" font-size="8.4" text-anchor="end" textLength="4" lengthAdjust="spacingAndGlyphs" fill="#1e1e1e">4</text><text x="414.1" y="269.3" font-size="8.4" text-anchor="end" textLength="4" lengthAdjust="spacingAndGlyphs" fill="#1e1e1e">5</text><text x="414.1" y="254.7" font-size="8.4" text-anchor="end" textLength="4" lengthAdjust="spacingAndGlyphs" fill="#1e1e1e">6</text><text x="414.1" y="240" font-size="8.4" text-anchor="end" textLength="4" lengthAdjust="spacingAndGlyphs" fill="#1e1e1e">7</text><text x="414.1" y="225.4" font-size="8.4" text-anchor="end" textLength="4" lengthAdjust="spacingAndGlyphs" fill="#1e1e1e">8</text><text x="420.4" y="354.3" font-size="8.4" text-anchor="middle" textLength="6.3" lengthAdjust="spacingAndGlyphs" fill="#1e1e1e">-4</text><text x="436.2" y="354.3" font-size="8.4" text-anchor="middle" textLength="6.3" lengthAdjust="spacingAndGlyphs" fill="#1e1e1e">-3</text><text x="452.1" y="354.3" font-size="8.4" text-anchor="middle" textLength="6.3" lengthAdjust="spacingAndGlyphs" fill="#1e1e1e">-2</text><text x="467.9" y="354.3" font-size="8.4" text-anchor="middle" textLength="6.3" lengthAdjust="spacingAndGlyphs" fill="#1e1e1e">-1</text><text x="484.7" y="354.3" font-size="8.4" text-anchor="middle" textLength="4" lengthAdjust="spacingAndGlyphs" fill="#1e1e1e">0</text><text x="500.5" y="354.3" font-size="8.4" text-anchor="middle" textLength="4" lengthAdjust="spacingAndGlyphs" fill="#1e1e1e">1</text><text x="516.3" y="354.3" font-size="8.4" text-anchor="middle" textLength="4" lengthAdjust="spacingAndGlyphs" fill="#1e1e1e">2</text><text x="532.2" y="354.3" font-size="8.4" text-anchor="middle" textLength="4" lengthAdjust="spacingAndGlyphs" fill="#1e1e1e">3</text><text x="548" y="354.3" font-size="8.4" text-anchor="middle" textLength="4" lengthAdjust="spacingAndGlyphs" fill="#1e1e1e">4</text><path d="M418.4 339.4H421.4M418.4 324.8H421.4M418.4 310.1H421.4M418.4 295.5H421.4M418.4 280.9H421.4M418.4 266.3H421.4M418.4 251.7H421.4M418.4 237H421.4M418.4 222.4H421.4M421.4 340.4V343.4M437.2 340.4V343.4M453.1 340.4V343.4M468.9 340.4V343.4M484.7 340.4V343.4M500.5 340.4V343.4M516.3 340.4V343.4M532.2 340.4V343.4M548 340.4V343.4" stroke="#777" stroke-width="0.9" fill="none"/><circle cx="414.9" cy="212.1" r="2.0" fill="#33b3d8"/><text x="419.1" y="214.4" font-size="6.45" fill="#1e1e1e">Down (48)</text><circle cx="458.4" cy="212.1" r="2.0" fill="#9a9a9a"/><text x="462.6" y="214.4" font-size="6.45" fill="#1e1e1e">Unchanged (2,111)</text><circle cx="521.6" cy="212.1" r="2.0" fill="#f28a6c"/><text x="525.8" y="214.4" font-size="6.45" fill="#1e1e1e">Up (153)</text><text x="425" y="232.8" font-size="6.5" font-style="italic" fill="#1e1e1e">fio1-1</text><text x="425" y="240.5" font-size="6.5" fill="#1e1e1e">m<tspan font-size="4.5" dy="-2.5">6</tspan><tspan dy="2.5">A non-hyper</tspan></text><text x="425" y="248.2" font-size="6.5" fill="#1e1e1e"><tspan font-style="italic">n</tspan> = 2,312</text><text transform="translate(402.8 281.9) rotate(-90)" font-size="9.3" text-anchor="middle" fill="#1e1e1e">−log<tspan font-size="6.5" dy="2.6">10</tspan><tspan dy="-2.6"> (<tspan font-style="italic">P</tspan> value)</tspan></text><text x="484.7" y="367.8" font-size="9.3" text-anchor="middle" fill="#1e1e1e">log<tspan font-size="6.5" dy="2.6">2</tspan><tspan dy="-2.6">(<tspan font-style="italic">fio1</tspan> TS</tspan><tspan font-size="6" dy="-3.8">B/D</tspan><tspan dy="3.8">)</tspan></text><clipPath id="vc6151"><rect x="592.9" y="222.4" width="126.6" height="118"/></clipPath><g clip-path="url(#vc6151)"><path d="M652.3 304.7h0M664 303.7h0M664.5 280.7h0M656 276.7h0M660.3 326.2h0M649.8 278h0M651 334.8h0M657.7 328.5h0M659.3 319.2h0M650.4 280.4h0M653.1 310.9h0M655.8 276.5h0M649.1 327.1h0M663.4 294h0M655.4 285.3h0M652.9 298.5h0M662.7 298.7h0M665.1 320.9h0M649.9 301.3h0M658 269.6h0M663.6 332.4h0M661.2 297.9h0M651.7 326.7h0M649.3 320.4h0M662 282.4h0M651.7 311.7h0M664.1 302.1h0M664.9 287.9h0M657.4 282.7h0M665.4 319.7h0M660.2 290.3h0M659.5 331h0M650.6 291.4h0M664.3 303.7h0M656.1 314.2h0M659.7 272.3h0M661.8 305.8h0M654.9 329.9h0M656.3 306.7h0M650 287.2h0M654.9 294.6h0M656.8 323.7h0M657.4 272.6h0M652.4 307.2h0M652.4 293.3h0M661.8 319.9h0M649.1 281h0M654.8 323.2h0M651.9 280.5h0M654.5 280.6h0M652.4 307.6h0M655.9 284.2h0M653.3 311.7h0M650 317.7h0M664.9 313.1h0M659.8 266.4h0M652.9 298.2h0M660.2 307h0M665.4 295.3h0M656.5 303.4h0M657 288.3h0M652.6 284.7h0M655.7 323.6h0M659.6 281.1h0M662.2 296.1h0M654.8 335.8h0M654.6 293.9h0M651.7 278.9h0M662.7 268.6h0M651.5 296.4h0M655 337.5h0M653.7 310h0M664.8 301.4h0M649.1 310.7h0M652.7 282.2h0M655.8 279.1h0M659.4 313.5h0M650.6 282.4h0M662.8 319.5h0M659.2 289.2h0M658.5 273.8h0M663 302h0M649.2 331h0M659.7 267.3h0M655.8 282.4h0M657.2 291.6h0M664.2 276.7h0M664 316.3h0M652.9 292.7h0M649.1 326.8h0M654.8 275.5h0M653 326h0M651.8 289.1h0M651.1 321.4h0M651.3 318h0M663.5 304.5h0M649.4 286.8h0M649.8 310.9h0M662.6 316.7h0M657.6 297.2h0M665.3 307.3h0M659.8 332.5h0M664.7 291.6h0M658.4 307.6h0M662.4 281h0M664.6 333.7h0M658.5 310.7h0M652.4 281.5h0M659.5 279h0M655.3 296.3h0M659.8 296.6h0M654.1 337.4h0M665.3 282.6h0M662.4 312h0M665.4 308.7h0M649.9 297.6h0M650.8 297.3h0M659.1 269h0M650.5 314.5h0M664.5 320.1h0M658.3 303.6h0M663.6 293.7h0M665.2 308.4h0M655.3 314.9h0M660.1 322.4h0M656.2 283.2h0M652.2 324.8h0M649.1 286.6h0M660.6 267.7h0M653.1 336.4h0M657.5 292h0M657.9 289.8h0M662.3 313.8h0M655.2 323.5h0M654.7 294.8h0M650.6 305.2h0M654.4 284.6h0M649.1 313h0M652 335.8h0M649.9 329.4h0M659.4 275.1h0M652 306.5h0M660.3 278h0M664.9 298.3h0M651.9 312h0M660.2 300h0M656 335h0M653.1 298.4h0M658.2 316.2h0M650.6 328.1h0M657.2 304h0M659.8 286.2h0M665.4 287.7h0M659.4 311.2h0M663 299.6h0M656.5 326.6h0M657.6 277h0M665.4 293.9h0M650.6 285.9h0M649.1 310.2h0M651 305.4h0M652.3 286.3h0M658 290.6h0M663 282.6h0M662.3 328.7h0M649.3 311.1h0M656.4 287.1h0M651.2 318.1h0M661.4 297h0M657.7 275.9h0M663.4 280.7h0M659.3 268.9h0M655.2 310.2h0M664.4 289.8h0M651.6 311.9h0M657 305.6h0M650.7 318.2h0M659 281h0M653.3 299.1h0M653.3 292h0M650.3 338.5h0M654.2 284.8h0M650.3 300.1h0M657.8 296h0M649.5 323.4h0M654.6 295h0M664.7 283.2h0M662 325.4h0M665.3 276.3h0M660 304.8h0M651.7 327.3h0M664.1 305.2h0M654.4 303.3h0M661.1 293.1h0M661 287.9h0M649.1 279.1h0M657 322.1h0M665 293.1h0M658.9 293.9h0M655.7 300.7h0M651.3 278.6h0M654.9 290.1h0M662.4 281.2h0M657.9 275.6h0M652.6 308.7h0M656.9 274.2h0M656.7 289.3h0M652 324.9h0M655.2 295.6h0M660.5 307.1h0M665.5 315.2h0M658.9 314.4h0M649.5 289.8h0M657.7 332.5h0M654.5 290.9h0M653.3 285h0M660.8 273.5h0M662.8 307.3h0M652.9 302h0M654.9 288.6h0M654.3 300.5h0M650.4 277.1h0M661.6 269.5h0M652.1 320.6h0M649.8 315.8h0M658.5 323.5h0M656.8 291.7h0M663.2 274.5h0M662.9 293.3h0M659.9 326.7h0M664.6 277.7h0M658.3 298.9h0M650.5 328.2h0M653.9 317.7h0M652.6 298.1h0M649.8 283h0M653.2 280.1h0M661.4 286.7h0M663.6 275.8h0M653.6 319.5h0M664.6 311.8h0M651.5 304.4h0M665 278.8h0M651.4 318.2h0M663.1 297.3h0M650.3 320.3h0M656.5 310.1h0M649.5 338.1h0M660 309.3h0M651.4 287.5h0M650 299.7h0M664.4 280.2h0M664.9 295.2h0M664.2 313.5h0M662.2 286.2h0M663.2 314.8h0M652.5 334.2h0M661.6 292.4h0M651.8 331.9h0M654.2 333.9h0M654.9 291.1h0M649.2 275.4h0M661.9 284h0M656.6 304.8h0M660.1 299.8h0M655.9 288.2h0M657 289.4h0M652.1 311.4h0M649.8 319.5h0M656.8 275.4h0M658.5 276.3h0M660.2 300.5h0M655.1 331.4h0M661.4 314.6h0M662.4 301.3h0M656.5 274.2h0M664.6 299.1h0M654.6 282.3h0M653.2 310.1h0M659.4 281.3h0M653.9 300.8h0M662.7 335.2h0M652.7 292.9h0M651.9 278.2h0M663.2 280.6h0M653.5 277.4h0M655.5 276h0M656.8 317.4h0M651 318.6h0M650 281.2h0M662.6 270.3h0M653.8 312.4h0M654.1 291.1h0M661 294.1h0M652.5 331.5h0M650.9 300.1h0M654.7 294.7h0M651.9 315.9h0M654.3 301.4h0M657.2 290.6h0M655.5 298.6h0M657.9 299.3h0M653.2 282.7h0M651.3 326.3h0M656.2 326.2h0M658.3 276.3h0M664.9 333.1h0M659.6 323.5h0M655.4 313.1h0M658.8 306.5h0M658.4 271.7h0M660.7 304.6h0M649.5 279.6h0M662.1 301h0M661.5 280.8h0M659.7 315.6h0M652.9 305.2h0M653.9 285.1h0M654 335.2h0M653.5 318.9h0M649.5 291.2h0M655.6 322.4h0M651.7 314.3h0M654.7 298.6h0M656.6 288.8h0M649.5 316.2h0M653 308.2h0M655.4 292.5h0M651.3 320h0M650 331.7h0M657.6 292.1h0M649.6 280.9h0M654.3 306.3h0M653.3 322.5h0M653.8 326.6h0M653.3 287.3h0M650.2 295.5h0M654.7 313.7h0M652.5 328.1h0M661 287.9h0M649.8 275.9h0M658.8 301.8h0M659.6 272.5h0M649.2 326.8h0M659.7 305.7h0M651.1 304.4h0M665.3 278h0M661.1 331.9h0M660.1 266.4h0M664.2 321.4h0M649.3 321.5h0M662.5 294h0M660.9 274.8h0M652.5 283.7h0M654 325.1h0M658.9 268.7h0M655.4 313.7h0M658.4 269.5h0M657.8 320.4h0M661.8 313.8h0M662.5 294.7h0M653.4 306.3h0M661.5 281.3h0M652.3 295.8h0M658.7 270.9h0M662.9 278.6h0M652.3 332.3h0M665.4 288.6h0M656.2 336.8h0M660.9 305.6h0M661 286.8h0M652.9 296.5h0M653.6 328.9h0M650.2 288.5h0M661.1 310.3h0M654.3 293.7h0M654.7 312.5h0M652.5 310h0M658.7 277.5h0M653 294.7h0M650.5 318.6h0M664.4 296.8h0M650.9 289.9h0M652.5 302.8h0M655.7 319.9h0M665.2 276.8h0M654.6 289.4h0M662.1 328.5h0M650.4 294.3h0M662.8 270.4h0M663 302.9h0M656.1 336.9h0M659.6 332.6h0M651.9 280.4h0M653.1 314.4h0M653.6 303.8h0M650.6 312.8h0M662.3 310.2h0M655.4 332.5h0M658.4 301.6h0M657 287.6h0M664.4 291.5h0M653.6 318.1h0M663.9 311.9h0M650.7 336.1h0M657.2 279.9h0M658.2 299.7h0M661.2 316.6h0M650.8 288.2h0M653.1 328.4h0M662.4 307.6h0M658.1 312.9h0M649.1 308h0M651.9 328.6h0M650.3 298.1h0M660 287.6h0M652.6 290.1h0M663.7 306.4h0M660.9 296.4h0M654.4 303.1h0M661 286.1h0M654.5 336.7h0M663.7 282.5h0M649.8 301.2h0M663.4 270.9h0M654.8 289.4h0M649.4 299.4h0M657.5 275.4h0M650 282.3h0M662.4 277.1h0M657.6 329.3h0M655.3 281.9h0M660.8 290.4h0M652.1 306.5h0M652.8 293.1h0M663.9 304.4h0M662.7 278.5h0M654.4 329.1h0M663 334.7h0M663.4 308.1h0M663.5 314.1h0M650.9 316.8h0M651.2 319h0M659.2 286.7h0M649.6 331.6h0M650.7 317.3h0M663.9 281.3h0M651.7 293h0M651.4 280.4h0M658.4 297.9h0M656.3 304.6h0M652 283.7h0M660.4 325.3h0M659.6 297.3h0M661.1 297.5h0M662.7 275.1h0M663.9 321.6h0M662.9 329.8h0M653.2 333.6h0M663 282.3h0M659.1 333.4h0M654.1 276.9h0M659.7 302.3h0M663.8 310.9h0M653.6 330.1h0M660.3 271.9h0M653.8 281.1h0M651.6 289.1h0M662.8 327.1h0M657.7 337.1h0M655.9 295.3h0M651.6 305.7h0M653.7 279.5h0M650.9 308.3h0M658.1 319.5h0M661.1 304.7h0M663.8 308.5h0M650.8 285h0M652.9 320.2h0M649.2 283.5h0M660.9 336.8h0M651.2 317.3h0M664.4 295h0M660.1 290.4h0M654 328.5h0M654.1 308.9h0M654.2 331.9h0M655.2 319.8h0M659.9 274.6h0M662.9 329.1h0M652.9 303.5h0M655.1 279.7h0M665.4 291.9h0M659 286.4h0M664.9 300.4h0M661.8 321.5h0M654.8 286.9h0M653 284.8h0M652.3 309.9h0M658.1 280.6h0M654.2 279.3h0M661.4 332.1h0M661 286.1h0M657.3 325h0M649.6 304.4h0M657.2 272h0M661.6 337.2h0M651.3 283h0M653.3 288.4h0M658.9 316.4h0M652.8 280.2h0M661.4 286.9h0M652.3 333.4h0M657.8 314.4h0M662.2 286.6h0M655.4 306.5h0M654.7 332.2h0M660.4 271.3h0M652.7 286.2h0M662.7 317.8h0M663.2 290h0M655.7 299.3h0M663.3 320.7h0M651 280.2h0M656.1 332.8h0M650.6 286.8h0M660.3 291.4h0M662.2 269h0M657 301.6h0M659.6 309.1h0M664 335.5h0M658.8 271.2h0M651.7 328.2h0M655.5 329.4h0M656.6 323.6h0M661.9 300.3h0M654 279.5h0M653.4 300.3h0M654.9 316.5h0M649.9 286.3h0M662.4 334.2h0M657.1 284.2h0M659.9 280.7h0M665 315.7h0M650.1 313.2h0M651.4 301.6h0M661.6 300.2h0M652.9 296.4h0M657.5 278.8h0M653.2 309.7h0M655.3 317.8h0M665.1 287.3h0M656.2 306.2h0M654.9 310.2h0M660.9 289.3h0M656.9 284.6h0M649.2 283.7h0M656.7 300.4h0M653.9 278.5h0M651 322.4h0M653.1 285.7h0M652.1 315.8h0M658.7 314.8h0M657.4 326.1h0M663.4 300.1h0M663 314.8h0M653.6 308.9h0M665.3 278.8h0M657.3 285.3h0M660.3 289.7h0M664.3 292h0M653.6 323.9h0M653.2 318.9h0M658.9 300.4h0M659 298.2h0M660 291.2h0M662.1 292.3h0M660.3 296.1h0M665.4 287.7h0M661.4 280.9h0M664.2 302.3h0M652.1 320.9h0M649.3 295.4h0M649.9 293.4h0M658 273.8h0M665.3 291h0M664.8 319.8h0M651.7 284.6h0M653.2 294h0M665.1 325h0M651 289.6h0M654.9 332.9h0M651.5 319.6h0M652.8 283.6h0M659.9 283.9h0M663.4 278.6h0M657.1 331.6h0M651.1 324.3h0M662.7 294h0M660.8 327.3h0M663.9 275.6h0M659.9 312.4h0M664.7 293.9h0M659.7 319.9h0M655.6 310.6h0M654.5 329.9h0M651 302.6h0M663 310h0M650.7 319.6h0M657.4 274.8h0M657.9 305.5h0M662.3 312h0M664.8 312.1h0M649.1 278h0M662.5 309.9h0M660.7 323.8h0M660.5 299.4h0M652.1 320.3h0M650.4 296.7h0M663.7 283.9h0M651.4 337h0M654.5 328.2h0M652.3 282.3h0M663.1 328.4h0M664.7 273.4h0M658.6 290.2h0M649.1 316.5h0M650.3 280.4h0M653.3 295.4h0M660.7 338.7h0M659.9 326h0M655.3 291.2h0M651.1 325.6h0M660.5 267.8h0M649.3 302.7h0M651.7 321.7h0M659.2 282h0M662.5 332.2h0M664.7 281.7h0M653.2 304.4h0M658.2 269.7h0M663.4 318.9h0M659.5 332h0M655.6 291.5h0M659.1 274.8h0M665 283.8h0M659.3 308.3h0M656.7 320.7h0M651.8 292h0M664.8 287.6h0M660.5 297.1h0M661.7 311.3h0M661.4 292.6h0M660.9 326.1h0M663.8 309.8h0M656.2 284h0M651.3 283.6h0M652.4 309.5h0M651.1 325.5h0M664.3 315.6h0M649.8 304.9h0M664.8 310.8h0M660.2 332.2h0M661.3 331.7h0M653.2 297.8h0M664.8 282.2h0M662.4 281.5h0M663.5 323.8h0M657.3 301.9h0M660 267h0M649.9 276.5h0M658 315.1h0M654.6 334h0M659.5 302.6h0M659.3 280.9h0M664.4 274.6h0M658.1 318.4h0M650 283.8h0M649.2 325.8h0M649.3 316h0M655.5 309.1h0M659.6 307.8h0M653 312.4h0M660.1 338.8h0M657.3 273.5h0M664.2 325.4h0M651.2 303.1h0M662.8 273.1h0M661.4 270.2h0M650.4 288.1h0M651.6 313.3h0M661.3 306h0M663.4 290.7h0M656.3 289.7h0M661.1 281h0M654.9 277.2h0M655.5 338.4h0M657.1 288.2h0M660.8 308.6h0M665 288.2h0M661.5 322.8h0M650.5 327.3h0M656.3 300.1h0M657.9 304.6h0M649.1 298.1h0M651.6 286.2h0M660.1 333.1h0M655.5 285.9h0M651.9 313.1h0M653.4 298h0M663.2 296.1h0M661.3 335.2h0M651.9 327h0M658.9 279.8h0M651.1 329.1h0M650.9 289.9h0M663.4 294.5h0M661.8 316.5h0M658.3 296.6h0M660.9 283.4h0M664.2 321.6h0M654.4 304.3h0M655.8 322.3h0M665.4 323.2h0M653.2 303.7h0M650.5 321.6h0M650.9 330.9h0M663.2 307.2h0M660 302.3h0M661.7 278.2h0M650 305.7h0M662.8 325.2h0M650.1 294.3h0M664.2 302.7h0M649.6 280.7h0M653.3 294.5h0M664.4 331.3h0M659.8 332.5h0M653.6 282.1h0M656.1 319.6h0M653.2 297.9h0M663 276.8h0M657.5 312.5h0M650.7 321.6h0M654 281.4h0M651.5 333.3h0M662 335.7h0M660.7 282.9h0M656.1 299h0M651.7 324.6h0M662.5 323.1h0M653.9 332.1h0M658.1 311.1h0M659.1 330.8h0M652.8 288.4h0M657.8 279.5h0M652.2 321h0M664.1 323.4h0M652.7 301.6h0M661 278.8h0M658.9 288.8h0M663.1 278h0M649.8 336h0M655.7 303.5h0M657 286h0M656.9 282.3h0M662.4 293.3h0M660.2 293.2h0M663.1 287.6h0M662.4 303.2h0M652.1 309.1h0M651.6 298h0M660.5 312.3h0M665.3 291.1h0M657.1 298.3h0M649.8 336.4h0M652.1 281.2h0M665.3 286.8h0M659.1 274h0M652.8 282.8h0M662.9 306h0M653.8 323.1h0M656.8 304.7h0M663 276.5h0M650.9 326.4h0M655.4 324.8h0M656 288.7h0M661.4 308.1h0M656.1 273.7h0M649.9 279h0M657.6 334.7h0M651 295.6h0M657.1 315.1h0M662.5 314.8h0M662.1 269h0M652.6 305.8h0M650.6 318.1h0M659.1 312.1h0M650.7 291.9h0M656.6 300.3h0M651.4 299.2h0M658.1 274.5h0M655 274.8h0M657.9 294.4h0M658.2 307.9h0M653.5 300.5h0M653.9 278.7h0M656 308.2h0M651.8 278.4h0M650.9 310.4h0M657.1 333.8h0M656.7 307.3h0M664.4 289h0M649.2 321h0M665.3 310.9h0M660.7 338h0M661 272.4h0M655.9 322.5h0M657.7 281.9h0M653.7 308.6h0M650.9 289.7h0M652.1 293.4h0M655.6 335.1h0M656.3 277h0M652.5 283.5h0M657.7 278.6h0M651.1 303.4h0M660.6 290.1h0M652 299.3h0M660.2 271.1h0M657.9 294.6h0M663.7 303.2h0M663.5 293.4h0M658.6 329.3h0M657.6 322h0M660.8 316.5h0M663.6 301.4h0M656.2 308.9h0M662.2 303.9h0M649.3 292.5h0M659.1 288.3h0M653.1 334.6h0M658.5 272.4h0M652.1 280.9h0M659.6 291.2h0M660 314.5h0M652.7 321.2h0M662.9 289.4h0M662.7 296.6h0M658.4 335.8h0M660.4 272.6h0M651.2 317.7h0M659.1 274.6h0M662.8 280h0M657.4 292.3h0M659.6 298.1h0M657.6 286.7h0M654 280.9h0M664.6 296h0M651.3 294.4h0M660.2 270.2h0M662.7 322.6h0M659 269.4h0M657.2 319.6h0M651.1 335.9h0M651.4 291.6h0M660.2 303h0M655.1 287.7h0M665.1 282.5h0M651.4 331.3h0M651.1 321.6h0M659.9 267.3h0M652.1 335h0M653.2 327.7h0M652.4 283.7h0M657.6 272.3h0M658.8 317h0M665.2 299.3h0M653.3 333.9h0M664.7 282.6h0M664.6 335.7h0M663.9 272.5h0M655.5 332h0M661.8 297.5h0M653.4 293.6h0M657.1 321.6h0M664.3 289.6h0M658 315.1h0M656 280.3h0M658.7 271.3h0M652.8 297.4h0M661.8 288.7h0M651.3 279h0M657.6 332.9h0M653.7 279.4h0M661.3 332h0M663.2 281.5h0M656.6 320.7h0M652.1 325.3h0M657.2 303.3h0M657.1 332.3h0M655.6 300.1h0M658.4 276.9h0M657.1 294.1h0M665.3 282.3h0M659.4 283h0M654.6 324.7h0M657.1 323.2h0M661.6 298h0M664 303.9h0M649.1 331.7h0M661.5 287.6h0M656 302.6h0M662.4 271.7h0M660.7 280.4h0M660.3 310.4h0M665.1 310h0M660.5 266.7h0M662 298.6h0M652.2 285.8h0M650.9 296.8h0M650.1 325.1h0M652.8 322.1h0M658.9 327.6h0M652.1 298h0M655.9 295.9h0M662 309.9h0M662 282.3h0M660.6 300h0M662.7 304.4h0M661.3 270.3h0M663.2 273.6h0M653.3 308.9h0M657.1 281.1h0M661.8 294.2h0M663.3 285.7h0M653.4 326.3h0M655.3 294.7h0M653.9 319.9h0M662.2 271.9h0M652.6 295.7h0M654.8 291.3h0M653.1 292h0M655.4 308.7h0M659.3 314.5h0M659 285.9h0M661.3 306.2h0M654.9 279.6h0M662.8 297.3h0M656.5 272.3h0M659.7 245.4h0M663.9 267.4h0M653.4 268.9h0M657 245h0M657.8 246.7h0M655.8 269.9h0M658.1 247.7h0M658.7 247.7h0M654.4 263.8h0M655 250.6h0M654.9 248.9h0M654.3 253.4h0M662 262h0M665.2 271.9h0M657.9 261.1h0M663.4 254.2h0M658.1 255.2h0M653.9 271.5h0M655.7 249.5h0M663.6 321h0M659.5 335.2h0M646.8 336.2h0M661.1 320.6h0M650 329.6h0M643.5 327.9h0M655.9 324.6h0M651.1 332.9h0M654.4 323.2h0M644.8 327.5h0M667.8 321.2h0M671.3 328.1h0M655.9 325.1h0M671 321.5h0M636.5 321.4h0M657.1 328.2h0M656.4 331.4h0M657.9 325.1h0M663 325.5h0M660.6 325.5h0M673.6 321.3h0M641.2 321.3h0M652.7 326.8h0M664 333.3h0M648.9 323.8h0M656.4 325.7h0M654.8 324.4h0M658 333h0M651.7 324.4h0M658.4 322.5h0M672.3 325.4h0M667.7 324.8h0M661 322.2h0M642.2 329.6h0M660.9 333.6h0M648.8 323.7h0M659.6 335.7h0M640.9 331.4h0M661.2 322.6h0M657.8 335.9h0M662.7 324.2h0M647.9 334.5h0M665 321.2h0M667.7 330.4h0M675.7 325h0M660.9 333.4h0M677.4 334.9h0M656.8 322.1h0M651 321.7h0M659.5 330.1h0M666.5 325.6h0M647.1 333.1h0M665.7 330.4h0M661.7 329.1h0M668.5 334.2h0M654.7 323.4h0M662.4 323.3h0M650.6 321.8h0M663.2 328.2h0M650.8 335.9h0M655.1 322h0M652.4 336.2h0M660.6 332.7h0M645.9 323.3h0M659.3 328.5h0M650.9 333.7h0M654.3 327.4h0M647.9 328.5h0M660.1 333.7h0M668.7 329.7h0M652 336.1h0M658.1 331.4h0M666.5 331.6h0M654.1 326h0M654.2 332.7h0M657.9 323.8h0M659.8 324h0M666.2 320.9h0M668.1 323.8h0M659.7 330.3h0M646.2 321.3h0M656.9 322.2h0M661.9 326.8h0M651.8 336.5h0M663.7 326.9h0M659.5 320.8h0M659.1 329.6h0M654.6 330.1h0M658.8 323.1h0M660.8 334.9h0M661.8 325.3h0M658.1 326.1h0M662.2 325h0M643 324.6h0M655.6 338.4h0M658 327.9h0M673.9 331.9h0M670.2 323.8h0M660.5 322h0M665.2 323.5h0M656.9 322.1h0M660.5 323.4h0M663.8 333.9h0M667.5 322.5h0M653.6 337.8h0M663.6 325.9h0M662.8 335.9h0M654.2 331h0M657.2 330.5h0M657.1 335.5h0M642.5 330.4h0M661 322.2h0M655.5 328.1h0M657.2 328.5h0M661 321h0M646.8 327.8h0M661.5 329h0M661.5 325.8h0M658.8 321.3h0M669.4 325.1h0M665.7 323.6h0M653.8 330.9h0M664 332.1h0M667 323.7h0M646.6 335.9h0M654.3 321.7h0M658.2 335.5h0M669.4 326.1h0M669.9 331.4h0M634.6 327.7h0M649.2 334.8h0M662.7 330.9h0M674.1 323.4h0M660.1 333.9h0M673.2 323.5h0M652.2 334.5h0M653.3 326h0M657.1 338.1h0M655.6 329.6h0M647 334.1h0M658.2 321.9h0M652.4 333.5h0M645.3 331.5h0M648.9 328.3h0M655.5 338.6h0M645.5 330.5h0M653 336.6h0M662.7 328.4h0M651 324.4h0M656.8 335.9h0M641.7 322.1h0M649.4 334.7h0M663.4 323.2h0M648.1 334.3h0M668.5 326.2h0M648.8 327.9h0M656.9 334.5h0M659.9 333h0M654.9 339h0M649.4 331.3h0M658.9 333.9h0M649.2 322.4h0M672.9 334.7h0M662.9 330.9h0M653.8 328.3h0M665.9 325.8h0M674.1 331.3h0M662.4 321.2h0M647.7 330.5h0M652.5 322.4h0M663.6 320.9h0M648.2 331.3h0M660 333.2h0M662.7 325.4h0M667.1 333.3h0M658.4 324.7h0M656.1 320.5h0M654.8 327.5h0M648.4 337.4h0M653.7 332.1h0M656 334.6h0M666 332.2h0M659.2 326.1h0M647.5 337.9h0M661.6 335.6h0M650.1 331.8h0M659.6 331.2h0M639.9 330h0M678 323.7h0M665 323.1h0M669.2 321.8h0M658.7 327.8h0M656 323.4h0M651.7 329h0M652.6 328h0M654.4 338.6h0M658.9 331.4h0M673.4 331.7h0M651.1 331h0M639.7 336.4h0M651.7 322.9h0M658 337h0M673.4 328.2h0M666.8 337.5h0M666.2 326.6h0M654.4 320.4h0M676.4 332.2h0M669.5 336.1h0M655.5 325.9h0M665 322.6h0M648.3 332.6h0M651.1 324.4h0M663.9 332.4h0M659.1 323.9h0M654.5 327h0M658.3 325.7h0M657 330.5h0M656.5 321.4h0M660.9 325h0M643.2 322.5h0M666 327.4h0M656.4 335.1h0M656.9 333.8h0M658.9 323.1h0M663.6 325.6h0M680.8 327.9h0M651.9 337.2h0M651 331.7h0M656.9 337.3h0M654.2 323.9h0M643.6 330h0M653.7 335.4h0M672.2 324.1h0M666.5 323.6h0M641.1 322.2h0M674.7 337.4h0M656 327.4h0M641.1 320.8h0M653.4 326.9h0M662.4 333.6h0M673.4 329.3h0M656.1 330.8h0M667.9 320.7h0M646.4 324.4h0M664.1 328.2h0M661.6 325.1h0M663.6 324.5h0M678.5 328.3h0M651.2 327.8h0M660.1 329.7h0M667.1 323.1h0M660.4 335.9h0M646.9 333h0M655.5 328.8h0M647.3 326.6h0M651.9 333.5h0M655.5 337.5h0M652.8 331h0M651.7 335h0M654.4 321h0M669.3 328.5h0M651.7 324.5h0M670.3 331.7h0M664.6 326.4h0M659.1 324.8h0M656.6 324.9h0M654.5 337.2h0M658.8 338.2h0M663.2 334.3h0M661.4 322.5h0M648.7 323h0M649.9 320.5h0M660.7 323.1h0M654.7 331.1h0M648.4 329.6h0M660.6 330.9h0M653.1 320.9h0M663.6 328.5h0M656.9 336.5h0M654.9 326.4h0M653.8 336.8h0M668.6 331.6h0M654.6 321.3h0M638.9 321.1h0M656.1 335.4h0M658.1 328.9h0M649.5 330.3h0M672.1 330.1h0M644.5 324.8h0M661.6 331.5h0M624.6 338.7h0M662.5 228.2h0M657.8 245.8h0M657 245.1h0M664.1 248.7h0" stroke="#9a9a9a" stroke-width="2.3" stroke-linecap="round" fill="none"/><path d="M644.6 299h0M646.5 308.3h0M642.5 303h0M642.4 318.8h0M646.5 307.8h0M646.9 296.4h0M643.4 296h0M646.8 319.4h0M643.6 311.6h0M646.9 301.5h0M639.2 306.3h0M634.5 293.4h0M645.1 275h0" stroke="#33b3d8" stroke-width="2.3" stroke-linecap="round" fill="none"/><path d="M665.5 297.1h0M679.2 303.7h0M671 295.2h0M683.8 301.3h0M678.1 302.7h0M679.9 316.5h0M672 297.6h0M666.1 318.9h0M671.7 307.4h0M665.9 309.6h0M667.1 291.2h0M665.9 295.2h0M665.8 319.1h0M666.4 288.3h0M680.4 313.8h0M666.3 312.8h0M667.4 302.9h0M671.3 302.5h0M666.4 292.7h0M667.1 310.1h0M666.6 298.4h0M667.3 309.7h0M668.9 293.6h0M666.3 298.1h0M676.7 295.6h0M670.1 315.8h0M671.9 303.9h0M669.7 287.9h0M675.1 306.6h0M679.7 306.7h0M681.9 292.1h0M668.9 297.3h0M670.1 303.1h0M665.5 296.2h0M676.8 296.5h0M665.8 290.6h0M668.9 315.2h0M670.2 290.1h0M681.4 287.2h0M682.3 301.1h0M674.6 319.5h0M666.7 294.2h0M669.6 312.6h0M666.1 296.2h0M668.5 305.8h0M668.2 293.9h0M667.6 315.5h0M671.6 301.3h0M668 287.7h0M671.9 301.8h0M672.8 317.7h0M672.9 299h0M683.3 299.1h0M667.3 290.9h0M667.7 307.1h0M666.1 297.2h0M677.7 304.2h0M680.3 299.1h0M667.1 311.9h0M670.9 313.9h0M667.3 300.9h0M670.1 293.7h0M669.6 302.8h0M680.4 292.5h0M677 302.4h0M666.1 310.6h0M666.5 312.6h0M675.1 294.5h0M680.5 288h0M669 293.8h0M682 289.5h0M680.9 292h0M667.3 313.5h0M666.1 320.2h0M677.7 316.3h0M677.8 304.7h0M678.3 296h0M666.5 299.4h0M676 306.7h0M677.7 306.2h0M665.6 313.4h0M683.7 298h0M670.2 304.8h0M666.1 313.9h0M675.1 304.2h0M679.1 293.3h0M666.7 296.2h0M666.8 291.6h0M670.6 292.7h0M682.5 293.3h0M665.7 313h0M670.3 307.6h0M674.8 305.8h0M671.2 302.8h0M666.3 304.5h0M676.8 305.1h0M675.5 308.4h0M668.6 312h0M681.3 309.3h0M668.7 288.8h0M678.7 308.1h0M674.2 302.2h0M678.1 317.1h0M669.1 315.7h0M678.2 288h0M668.3 297.6h0M673.8 297.5h0M681 312.3h0M676 302.6h0M667.9 289.6h0M666.3 294.4h0M680.3 309.4h0M675.1 297.7h0M680.9 305.2h0M668.3 314.1h0M668.7 310.1h0M665.8 300.7h0M669.2 290.8h0M673.2 287.5h0M676.3 312.2h0M665.9 309.5h0M682.6 292.7h0M681.5 312.4h0M666.5 297h0M678 298.2h0M667.8 293.1h0M674.3 297.3h0M665.7 295.5h0M668.3 299.7h0M681.2 295.9h0M668.5 291.7h0M666.3 296.2h0M672.5 300.4h0M671.1 299.7h0M670.6 296.6h0M665.9 301.1h0M669.1 311.8h0M671.3 293.3h0M667.3 311.2h0M672.7 301.1h0M674.1 310.3h0M676.6 290.5h0M673.6 288.1h0M677.5 296.1h0M667.1 294.7h0M668.4 293.7h0M674.5 300.1h0M670.3 294.1h0M675.3 317.1h0M680.1 288.4h0M680.3 314.4h0M668 314.6h0M677.9 313.3h0M666.3 300.2h0M676.7 303.7h0M676.5 292.8h0M672.9 319.7h0M669.4 316.9h0M681.8 298.5h0M676.8 299h0M665.5 297h0M668.6 309.3h0M665.5 294.2h0M665.6 299.5h0M674.3 311.1h0M666.1 291.3h0M670.5 291.7h0M667.5 305.9h0M676.7 294.9h0M676.9 316.8h0M666.4 300.2h0M674.9 298.8h0M665.6 318.5h0M668.1 292.2h0M674.6 290.6h0M676.3 304.2h0M674.6 319.9h0M666.1 317.6h0M682.2 317.1h0M670.8 298.5h0M666.5 308.8h0M679.2 298.2h0M675.4 297.3h0M669.4 299.4h0M677 316.7h0M667.2 298.7h0M671.3 301.3h0M674.9 304.3h0M673 300.6h0M683.6 317.9h0M674 290.2h0M676.4 302.3h0M672.7 308.9h0M666.7 318.2h0M667.8 305.4h0M666.4 319.1h0M667.1 300.1h0M667.6 303.5h0M669.2 305.1h0M666.8 298.5h0M666.6 291.7h0M666.4 302.4h0M677.4 301.7h0M665.5 304.2h0M665.6 308.5h0M666.4 317.4h0M674.8 305h0M665.5 288.9h0M677.6 315.7h0M666.1 299.3h0M680 295.9h0M666.4 289.5h0M676.5 310.9h0M674.2 296.7h0M667.6 305.2h0M665.5 300.6h0M681.4 297.5h0M667.2 298.1h0M669.4 315.3h0M666.6 306.1h0M680.8 309.1h0M673.1 318.1h0M672.3 303.9h0M683.8 314.2h0M676.1 310.8h0M668.6 303.6h0M666.5 306.6h0M671.1 306.1h0M668.1 312.6h0M678.8 299.1h0M668.1 312.3h0M678.4 295.1h0M678.7 288.6h0M667.3 295.3h0M668.7 318.5h0M667.5 317.9h0M665.5 292h0M672.7 314.6h0M665.5 291.7h0M667.5 288.3h0M666 317.2h0M681.7 294h0M672.9 294.7h0M674.4 309.1h0M670.2 291.8h0M682.2 319.4h0M669.9 303.2h0M667.1 289.1h0M673 305h0M666.1 304.5h0M669.8 300.5h0M667 296h0M668.4 303.3h0M678.1 308.4h0M665.8 288.7h0M668.6 309.9h0M678.7 313.7h0M676 292.6h0M678.6 299.3h0M665.5 287h0M683.4 303h0M668.9 316.6h0M672.8 319.2h0M666.8 306.5h0M666.6 309.9h0M669.7 291.4h0M668 289.5h0M681.3 305h0M669.1 289.9h0M669.3 291.5h0M676.8 305.2h0M683.2 292.6h0M668.5 297.3h0M675 290.9h0M677.7 287.6h0M675.7 317.4h0M672.6 293.3h0M676.1 312.1h0M665.6 319.3h0M679.5 298.5h0M665.7 288.6h0M672.5 302.6h0M667.3 293.1h0M681.4 306.4h0M669.6 289.7h0M668.3 297.7h0M665.8 310.9h0M670.6 313.7h0M681.5 295.5h0M676.2 307.8h0M678.6 306h0M668.7 289.8h0M665.5 293.9h0M666.5 299.2h0M683.8 301.6h0M666.2 292.1h0M674.7 288.3h0M672.1 290.9h0M674.3 290.8h0M666.9 304.4h0M674.9 306.7h0M672.2 309.7h0M670.2 301h0M675.4 306.1h0M673.6 307.3h0M667.2 310.3h0M669.8 301.7h0M679.2 311.5h0M665.7 301.8h0M666.6 288.1h0M667.4 304h0M666.8 317.5h0M667.7 287.5h0M668.7 305.7h0M670.1 310.2h0M673.3 307.2h0M679.4 297.8h0M665.6 303.6h0M674.9 310.5h0M666.6 294h0M668.2 308.6h0M674 291h0M665.7 313.2h0M667.7 290.9h0M677.2 306.3h0M676.3 320.2h0M667.3 303.5h0M666.3 288.6h0M666.1 292.3h0M673 300.3h0M665.6 314.5h0M666.8 303.8h0M676.8 303h0M669.2 302.3h0M674.2 287.8h0M671.3 295.9h0M665.9 296.1h0M667.9 318.9h0M670.3 287.5h0M670.2 318.7h0M671.7 293.1h0M676 301.6h0M669.9 301.7h0M670.5 315.3h0M673 318h0M673.2 310.1h0M666.5 320.2h0M665.7 306.6h0M678.2 286.8h0M665.7 294.7h0M671.7 293.1h0M667.2 314.7h0M682.1 295.1h0M675.9 298.8h0M668.2 310.6h0M666.3 297.1h0M666.5 310.2h0M677.1 305.9h0M670.1 296.4h0M667.1 320h0M669.5 296.4h0M672.9 303.8h0M669.5 307.7h0M668.8 297.2h0M670.7 313.6h0M668.5 313.5h0M679.8 310h0M666.7 308.4h0M665.6 314.1h0M666.5 290.4h0M680.5 312.7h0M665.5 295.5h0M679.1 296.8h0M668.6 307.2h0M666.5 287h0M677.9 289.8h0M678.6 292.5h0M674.3 313.5h0M677.1 291.1h0M665.8 301.3h0M674.8 288.8h0M675.1 319.7h0M665.5 315.7h0M676.2 302.2h0M668.1 313.6h0M666.1 315.6h0M676.6 293.4h0M666.5 295.6h0M683.1 319.3h0M667.3 298.6h0M665.5 287h0M665.9 319.5h0M665.8 309.7h0M676.3 305.6h0M679.2 307.3h0M676.7 302.2h0M683.4 312.8h0M678.3 302.1h0M678.5 303.5h0M680.6 308.4h0M678.9 307.8h0M668.9 319.7h0M679.2 317.9h0M665.5 310.5h0M665.5 309.3h0M677.4 315.8h0M675.3 311.6h0M680.6 296.8h0M679.7 313.7h0M675.7 305h0M673.4 320.3h0M666 299.7h0M683.3 304.2h0M676 312.4h0M679.2 307.4h0M679.5 318.9h0M671.9 303.5h0M665.5 318.7h0M665.5 302.1h0M670.8 306h0M669.2 315h0M695.1 267.1h0M676.4 308.5h0M676.2 280.5h0M672.1 278.6h0M670.6 316.8h0M684.7 290.6h0M673.6 287.6h0M672.1 274.9h0M669.2 285.2h0M683.4 269.6h0M669 309.1h0M700.9 284.8h0M681.3 312.2h0M669.9 300.3h0M670.1 275.5h0M670.6 308.9h0M692.2 292.7h0M695 312.1h0M673.5 310.4h0M674.8 301.4h0M687.1 300.3h0M673.7 272.8h0M679.3 306.4h0M672.2 285h0M681.5 273.5h0M670 278h0M685.2 304.4h0M702.6 313.2h0M670.6 310.7h0M669 314.4h0M679.1 268.8h0M693.7 307.8h0M674.5 301.5h0M673 299.1h0M671.4 277.2h0M688.8 272.9h0M678.6 306.3h0M690.1 276.1h0M701.6 302.8h0M680.5 319.1h0M693.8 279h0M696.2 298.2h0M683.2 310.5h0M677.7 276.9h0M692.5 319.5h0M675.6 294.4h0M689.7 310.7h0M696 274.5h0M683.2 277.3h0M690.5 282.1h0M670.5 292.5h0M671.3 303.8h0M703.4 301.3h0M686.6 301.5h0M677.4 277.1h0M690.2 303.9h0M669.6 305.4h0M669.3 272.4h0M702.8 282h0M705.2 294.1h0M698.9 259h0M682.3 257.5h0M669.6 260.4h0M667.3 267.7h0" stroke="#f28a6c" stroke-width="2.3" stroke-linecap="round" fill="none"/></g><path d="M646.9 222.4V340.4M665.5 222.4V340.4M592.9 320.4H719.5" stroke="#555" stroke-width="0.6" stroke-dasharray="2 1.3" fill="none"/><rect x="592.9" y="222.4" width="126.6" height="118" fill="none" stroke="#777" stroke-width="0.8"/><text x="585.6" y="342.4" font-size="8.4" text-anchor="end" textLength="4" lengthAdjust="spacingAndGlyphs" fill="#1e1e1e">0</text><text x="585.6" y="327.8" font-size="8.4" text-anchor="end" textLength="4" lengthAdjust="spacingAndGlyphs" fill="#1e1e1e">1</text><text x="585.6" y="313.1" font-size="8.4" text-anchor="end" textLength="4" lengthAdjust="spacingAndGlyphs" fill="#1e1e1e">2</text><text x="585.6" y="298.5" font-size="8.4" text-anchor="end" textLength="4" lengthAdjust="spacingAndGlyphs" fill="#1e1e1e">3</text><text x="585.6" y="283.9" font-size="8.4" text-anchor="end" textLength="4" lengthAdjust="spacingAndGlyphs" fill="#1e1e1e">4</text><text x="585.6" y="269.3" font-size="8.4" text-anchor="end" textLength="4" lengthAdjust="spacingAndGlyphs" fill="#1e1e1e">5</text><text x="585.6" y="254.7" font-size="8.4" text-anchor="end" textLength="4" lengthAdjust="spacingAndGlyphs" fill="#1e1e1e">6</text><text x="585.6" y="240" font-size="8.4" text-anchor="end" textLength="4" lengthAdjust="spacingAndGlyphs" fill="#1e1e1e">7</text><text x="585.6" y="225.4" font-size="8.4" text-anchor="end" textLength="4" lengthAdjust="spacingAndGlyphs" fill="#1e1e1e">8</text><text x="591.9" y="354.3" font-size="8.4" text-anchor="middle" textLength="6.3" lengthAdjust="spacingAndGlyphs" fill="#1e1e1e">-4</text><text x="607.7" y="354.3" font-size="8.4" text-anchor="middle" textLength="6.3" lengthAdjust="spacingAndGlyphs" fill="#1e1e1e">-3</text><text x="623.6" y="354.3" font-size="8.4" text-anchor="middle" textLength="6.3" lengthAdjust="spacingAndGlyphs" fill="#1e1e1e">-2</text><text x="639.4" y="354.3" font-size="8.4" text-anchor="middle" textLength="6.3" lengthAdjust="spacingAndGlyphs" fill="#1e1e1e">-1</text><text x="656.2" y="354.3" font-size="8.4" text-anchor="middle" textLength="4" lengthAdjust="spacingAndGlyphs" fill="#1e1e1e">0</text><text x="672" y="354.3" font-size="8.4" text-anchor="middle" textLength="4" lengthAdjust="spacingAndGlyphs" fill="#1e1e1e">1</text><text x="687.8" y="354.3" font-size="8.4" text-anchor="middle" textLength="4" lengthAdjust="spacingAndGlyphs" fill="#1e1e1e">2</text><text x="703.7" y="354.3" font-size="8.4" text-anchor="middle" textLength="4" lengthAdjust="spacingAndGlyphs" fill="#1e1e1e">3</text><text x="719.5" y="354.3" font-size="8.4" text-anchor="middle" textLength="4" lengthAdjust="spacingAndGlyphs" fill="#1e1e1e">4</text><path d="M589.9 339.4H592.9M589.9 324.8H592.9M589.9 310.1H592.9M589.9 295.5H592.9M589.9 280.9H592.9M589.9 266.3H592.9M589.9 251.7H592.9M589.9 237H592.9M589.9 222.4H592.9M592.9 340.4V343.4M608.7 340.4V343.4M624.6 340.4V343.4M640.4 340.4V343.4M656.2 340.4V343.4M672 340.4V343.4M687.8 340.4V343.4M703.7 340.4V343.4M719.5 340.4V343.4" stroke="#777" stroke-width="0.9" fill="none"/><circle cx="586.8" cy="212.1" r="2.0" fill="#33b3d8"/><text x="591" y="214.4" font-size="6.45" fill="#1e1e1e">Down (16)</text><circle cx="626.8" cy="212.1" r="2.0" fill="#9a9a9a"/><text x="631" y="214.4" font-size="6.45" fill="#1e1e1e">Unchanged (1,684)</text><circle cx="691.6" cy="212.1" r="2.0" fill="#f28a6c"/><text x="695.8" y="214.4" font-size="6.45" fill="#1e1e1e">Up (334)</text><text x="596.5" y="232.8" font-size="6.5" font-style="italic" fill="#1e1e1e">mta</text><text x="596.5" y="240.5" font-size="6.5" fill="#1e1e1e">m<tspan font-size="4.5" dy="-2.5">6</tspan><tspan dy="2.5">A non-hyper</tspan></text><text x="596.5" y="248.2" font-size="6.5" fill="#1e1e1e"><tspan font-style="italic">n</tspan> = 2,034</text><text transform="translate(574.3 281.9) rotate(-90)" font-size="9.3" text-anchor="middle" fill="#1e1e1e">−log<tspan font-size="6.5" dy="2.6">10</tspan><tspan dy="-2.6"> (<tspan font-style="italic">P</tspan> value)</tspan></text><text x="656.2" y="367.8" font-size="9.3" text-anchor="middle" fill="#1e1e1e">log<tspan font-size="6.5" dy="2.6">2</tspan><tspan dy="-2.6">(<tspan font-style="italic">mta</tspan> TS</tspan><tspan font-size="6" dy="-3.8">B/D</tspan><tspan dy="3.8">)</tspan></text><rect x="393.1" y="399.9" width="3.1" height="7.1" fill="#000"/><rect x="393.1" y="396.5" width="3.1" height="2.4" rx="0.6" fill="#000"/><defs><clipPath id="cG"><circle cx="475.6" cy="459.8" r="55.4"/></clipPath><clipPath id="cP"><circle cx="537.6" cy="460.9" r="30.5"/></clipPath><clipPath id="cY"><circle cx="513.25" cy="492.25" r="19.5"/></clipPath></defs><circle cx="475.6" cy="459.8" r="55.4" fill="#d4eab2"/><circle cx="513.25" cy="492.25" r="19.5" fill="rgb(249,209,119)" fill-opacity="0.7"/><circle cx="537.6" cy="460.9" r="30.5" fill="rgb(100,30,194)" fill-opacity="0.57"/><circle cx="475.6" cy="459.8" r="55.4" fill="none" stroke="#555" stroke-width="0.5"/><circle cx="513.25" cy="492.25" r="19.5" fill="none" stroke="#555" stroke-width="0.5"/><circle cx="537.6" cy="460.9" r="30.5" fill="none" stroke="#555" stroke-width="0.5"/><g clip-path="url(#cP)"><g clip-path="url(#cY)"><circle cx="475.6" cy="459.8" r="55.4" fill="none" stroke="#e8262a" stroke-width="1.6"/></g></g><g clip-path="url(#cG)"><g clip-path="url(#cY)"><circle cx="537.6" cy="460.9" r="30.5" fill="none" stroke="#e8262a" stroke-width="1.6"/></g></g><g clip-path="url(#cG)"><g clip-path="url(#cP)"><circle cx="513.25" cy="492.25" r="19.5" fill="none" stroke="#e8262a" stroke-width="1.6"/></g></g><path d="M531.6 487L575 509.5" stroke="#e8262a" stroke-width="0.6" stroke-dasharray="1.4 1.1"/><text x="471" y="459" font-size="9.4" text-anchor="middle" fill="#2a2a2a">2,152</text><text x="521.7" y="458.4" font-size="9.4" text-anchor="middle" fill="#2a2a2a">157</text><text x="551" y="458.4" font-size="9.4" text-anchor="middle" fill="#2a2a2a">1,683</text><text x="517.9" y="480.8" font-size="6.4" text-anchor="middle" fill="#2a2a2a">7</text><text x="528.8" y="488.7" font-size="5.2" text-anchor="middle" fill="#2a2a2a">23</text><text x="504.8" y="495" font-size="8.2" text-anchor="middle" fill="#2a2a2a">83</text><text x="521.7" y="505.3" font-size="9.2" text-anchor="middle" fill="#2a2a2a">289</text><path d="M437.4 499.5V525M523.4 508.5V540.5M552.6 487.5V552.5M578.6 423V489.6M605 447.2V472" stroke="#888" stroke-width="0.7"/><text x="433" y="534" font-size="8.4" fill="#a3cf62">Type 1 genes</text><text x="472.9" y="545.3" font-size="8.4" fill="#f3a73a">Type 3 genes</text><text x="502.8" y="558.5" font-size="8.4" fill="#8a45d6">Type 2 genes</text><text x="629.9" y="419" font-size="8.6" text-anchor="middle" fill="#3cb043">Seven overlapping accessions</text><text x="611.3" y="443.5" font-size="8.4" text-anchor="middle" fill="#29a3dd">Six CHR genes</text><circle cx="626.3" cy="514" r="52.6" fill="none" stroke="#3cb043" stroke-width="1.3"/><circle cx="630.1" cy="515" r="48.5" fill="none" stroke="#29a3dd" stroke-width="1.3"/><text x="630" y="516" font-size="9.0" text-anchor="middle" fill="#29a3dd">6 CHRs</text><text x="578.6" y="515.3" font-size="7" text-anchor="middle" fill="#222">7</text><rect x="2.3" y="579.9" width="2.9" height="2.2" rx="0.6" fill="#000"/><path d="M2.3 583H5.2V590.2Q5.2 592.4 2.6 592.4H1.6V590.3H2.3Z" fill="#000"/><path d="M8.2 610.4H151.9" stroke="#d8d8d8" stroke-width="1"/><path d="M8.2 622.4H151.9" stroke="#6fd9b8" stroke-width="1.1"/><path d="M28.9 622.3L29.4 622.2L29.9 622L30.4 621.6L30.9 620.9L31.4 619.8L31.9 618.4L32.5 616.9L33 615.6L33.5 614.9L34 614.9L34.5 615.2L35 615.9L35.5 616.7L36 617.7L36.6 618.7L37.1 619.6L37.6 620.3L38.1 621L38.6 621.5L39.1 621.8L39.6 622L40.2 622.2L40.7 622.3L41.2 622.3Z" fill="#19c08c"/><text x="146" y="616.9" font-size="6.8" text-anchor="end" fill="#333">WT-B</text><path d="M8.2 634H151.9" stroke="#bdeedd" stroke-width="1.1"/><path d="M29.3 634L29.8 634L30.2 633.9L30.7 633.9L31.1 633.8L31.6 633.6L32 633.4L32.5 633.2L33 633L33.4 632.9L33.9 632.9L34.3 632.9L34.8 633L35.3 633.2L35.7 633.3L36.2 633.4L36.6 633.6L37.1 633.7L37.5 633.8L38 633.9L38.5 633.9L38.9 633.9L39.4 634L39.8 634L40.3 634Z" fill="#19c08c"/><text x="146" y="628.5" font-size="6.8" text-anchor="end" fill="#333">WT-D</text><path d="M8.2 645.5H151.9" stroke="#f9c58f" stroke-width="1.1"/><path d="M28.9 645.5L29.4 645.4L29.9 645.3L30.4 645L30.9 644.6L31.4 643.9L31.9 643.1L32.5 642.2L33 641.4L33.5 640.9L34 640.9L34.5 641.2L35 641.5L35.5 642.1L36 642.6L36.6 643.2L37.1 643.8L37.6 644.3L38.1 644.6L38.6 644.9L39.1 645.1L39.6 645.3L40.2 645.4L40.7 645.4L41.2 645.5Z" fill="#f7a13e"/><text x="146" y="640" font-size="6.8" text-anchor="end" font-style="italic" fill="#333">cry1cry2-B</text><path d="M8.2 657H151.9" stroke="#fde0c0" stroke-width="1.1"/><path d="M29.3 657L29.8 657L30.2 657L30.7 656.9L31.1 656.8L31.6 656.7L32 656.5L32.5 656.4L33 656.2L33.4 656.1L33.9 656.1L34.3 656.1L34.8 656.2L35.3 656.3L35.7 656.4L36.2 656.5L36.6 656.7L37.1 656.7L37.5 656.8L38 656.9L38.5 656.9L38.9 657L39.4 657L39.8 657L40.3 657Z" fill="#f7a13e"/><text x="146" y="651.5" font-size="6.8" text-anchor="end" font-style="italic" fill="#333">cry1cry2-D</text><path d="M8.2 668.4H151.9" stroke="#8adcf3" stroke-width="1.1"/><path d="M28.9 668.4L29.4 668.3L29.9 668.2L30.4 668L30.9 667.7L31.4 667.1L31.9 666.4L32.5 665.7L33 665.1L33.5 664.7L34 664.7L34.5 664.9L35 665.2L35.5 665.6L36 666.1L36.6 666.6L37.1 667L37.6 667.4L38.1 667.7L38.6 667.9L39.1 668.1L39.6 668.2L40.2 668.3L40.7 668.3L41.2 668.4Z" fill="#2ec2ea"/><text x="146" y="662.9" font-size="6.8" text-anchor="end" font-style="italic" fill="#333">fio1-B</text><path d="M8.2 680.1H151.9" stroke="#a9e6f7" stroke-width="1.1"/><path d="M29.3 680.1L29.8 680.1L30.2 680.1L30.7 680L31.1 680L31.6 679.9L32 679.7L32.5 679.6L33 679.5L33.4 679.4L33.9 679.4L34.3 679.4L34.8 679.5L35.3 679.6L35.7 679.7L36.2 679.7L36.6 679.8L37.1 679.9L37.5 680L38 680L38.5 680L38.9 680.1L39.4 680.1L39.8 680.1L40.3 680.1Z" fill="#2ec2ea"/><text x="146" y="674.6" font-size="6.8" text-anchor="end" font-style="italic" fill="#333">fio1-D</text><path d="M8.2 691.8H151.9" stroke="#d6a8f5" stroke-width="1.1"/><path d="M28.9 691.7L29.4 691.6L29.9 691.3L30.4 690.8L30.9 689.9L31.4 688.6L31.9 686.8L32.5 685L33 683.4L33.5 682.5L34 682.5L34.5 682.9L35 683.7L35.5 684.8L36 686L36.6 687.2L37.1 688.3L37.6 689.3L38.1 690L38.6 690.6L39.1 691.1L39.6 691.4L40.2 691.5L40.7 691.7L41.2 691.7Z" fill="#9b12f0"/><text x="146" y="686.3" font-size="6.8" text-anchor="end" font-style="italic" fill="#333">mta-B</text><path d="M8.2 703.6H151.9" stroke="#e6cdf7" stroke-width="1.1"/><path d="M28.9 703.6L29.4 703.5L29.9 703.5L30.4 703.3L30.9 703L31.4 702.6L31.9 702.1L32.5 701.6L33 701.1L33.5 700.8L34 700.8L34.5 701L35 701.2L35.5 701.5L36 701.9L36.6 702.2L37.1 702.6L37.6 702.8L38.1 703.1L38.6 703.3L39.1 703.4L39.6 703.5L40.2 703.5L40.7 703.6L41.2 703.6Z" fill="#9b12f0"/><text x="146" y="698.1" font-size="6.8" text-anchor="end" font-style="italic" fill="#333">mta-D</text><text x="8.4" y="615.8" font-size="6.6" fill="#333">[0–1,111]</text><text x="99" y="615.8" font-size="7.1" fill="#333">500 bp</text><path d="M99 617.4H120.8" stroke="#444" stroke-width="0.8"/><path d="M22.8 708.8H142.5" stroke="#1414c4" stroke-width="2.6"/><rect x="28" y="706.7" width="5" height="4.2" rx="0.8" fill="#1414c4"/><rect x="36" y="706.7" width="5" height="4.2" rx="0.8" fill="#1414c4"/><rect x="44" y="706.7" width="5" height="4.2" rx="0.8" fill="#1414c4"/><rect x="59" y="706.7" width="5" height="4.2" rx="0.8" fill="#1414c4"/><rect x="74" y="706.7" width="5" height="4.2" rx="0.8" fill="#1414c4"/><rect x="84" y="706.7" width="5" height="4.2" rx="0.8" fill="#1414c4"/><rect x="102" y="706.7" width="5" height="4.2" rx="0.8" fill="#1414c4"/><rect x="112" y="706.7" width="5" height="4.2" rx="0.8" fill="#1414c4"/><rect x="124" y="706.7" width="5" height="4.2" rx="0.8" fill="#1414c4"/><text x="105.6" y="717.8" font-size="6.9" text-anchor="middle" font-style="italic" fill="#333">AT4G39460</text><path d="M97.5 720.8H119" stroke="#4a5a80" stroke-width="0.8"/><path d="M95.5 720.8l3 -1.5v3z" fill="#4a5a80"/><path d="M168.3 610.4H315.7" stroke="#d8d8d8" stroke-width="1"/><path d="M168.3 622.4H315.7" stroke="#6fd9b8" stroke-width="1.1"/><path d="M235.7 622.3L236.4 622.2L237.1 622L237.7 621.5L238.4 620.7L239.1 619.4L239.8 617.9L240.5 616.2L241.2 614.7L241.9 613.9L242.6 613.9L243.3 614.3L244 615L244.7 616L245.4 617.1L246.1 618.2L246.8 619.2L247.4 620.1L248.1 620.8L248.8 621.3L249.5 621.7L250.2 622L250.9 622.2L251.6 622.3L252.3 622.3Z" fill="#19c08c"/><path d="M181.5 622.4Q184.5 621.2 187.5 622.4Z" fill="#19c08c"/><text x="314.9" y="616.9" font-size="6.8" text-anchor="end" fill="#333">WT-B</text><path d="M168.3 634H315.7" stroke="#bdeedd" stroke-width="1.1"/><path d="M236.3 634L236.9 634L237.5 634L238.1 633.9L238.7 633.8L239.4 633.7L240 633.5L240.6 633.3L241.2 633.1L241.8 633L242.4 633L243.1 633L243.7 633.1L244.3 633.2L244.9 633.4L245.5 633.5L246.2 633.6L246.8 633.7L247.4 633.8L248 633.9L248.6 633.9L249.3 634L249.9 634L250.5 634L251.1 634Z" fill="#19c08c"/><text x="314.9" y="628.5" font-size="6.8" text-anchor="end" fill="#333">WT-D</text><path d="M168.3 645.5H315.7" stroke="#f9c58f" stroke-width="1.1"/><path d="M235.7 645.5L236.4 645.4L237.1 645.4L237.7 645.2L238.4 644.9L239.1 644.5L239.8 644L240.5 643.5L241.2 643L241.9 642.7L242.6 642.7L243.3 642.9L244 643.1L244.7 643.4L245.4 643.8L246.1 644.1L246.8 644.5L247.4 644.7L248.1 645L248.8 645.2L249.5 645.3L250.2 645.4L250.9 645.4L251.6 645.5L252.3 645.5Z" fill="#f7a13e"/><text x="314.9" y="640" font-size="6.8" text-anchor="end" font-style="italic" fill="#333">cry1cry2-B</text><path d="M168.3 657H315.7" stroke="#fde0c0" stroke-width="1.1"/><path d="M236.3 657L236.9 657L237.5 657L238.1 656.9L238.7 656.9L239.4 656.8L240 656.7L240.6 656.6L241.2 656.6L241.8 656.5L242.4 656.5L243.1 656.5L243.7 656.6L244.3 656.6L244.9 656.7L245.5 656.7L246.2 656.8L246.8 656.9L247.4 656.9L248 656.9L248.6 657L249.3 657L249.9 657L250.5 657L251.1 657Z" fill="#f7a13e"/><text x="314.9" y="651.5" font-size="6.8" text-anchor="end" font-style="italic" fill="#333">cry1cry2-D</text><path d="M168.3 668.4H315.7" stroke="#8adcf3" stroke-width="1.1"/><path d="M235.7 668.4L236.4 668.3L237.1 668.3L237.7 668.1L238.4 667.8L239.1 667.4L239.8 666.9L240.5 666.4L241.2 665.9L241.9 665.6L242.6 665.6L243.3 665.8L244 666L244.7 666.3L245.4 666.7L246.1 667L246.8 667.4L247.4 667.6L248.1 667.9L248.8 668.1L249.5 668.2L250.2 668.3L250.9 668.3L251.6 668.4L252.3 668.4Z" fill="#2ec2ea"/><text x="314.9" y="662.9" font-size="6.8" text-anchor="end" font-style="italic" fill="#333">fio1-B</text><path d="M168.3 680.1H315.7" stroke="#a9e6f7" stroke-width="1.1"/><path d="M236.3 680.1L236.9 680.1L237.5 680.1L238.1 680L238.7 680L239.4 679.9L240 679.8L240.6 679.7L241.2 679.6L241.8 679.5L242.4 679.5L243.1 679.5L243.7 679.6L244.3 679.6L244.9 679.7L245.5 679.8L246.2 679.9L246.8 679.9L247.4 680L248 680L248.6 680.1L249.3 680.1L249.9 680.1L250.5 680.1L251.1 680.1Z" fill="#2ec2ea"/><text x="314.9" y="674.6" font-size="6.8" text-anchor="end" font-style="italic" fill="#333">fio1-D</text><path d="M168.3 691.8H315.7" stroke="#d6a8f5" stroke-width="1.1"/><path d="M235.7 691.7L236.4 691.6L237.1 691.4L237.7 691L238.4 690.2L239.1 689.1L239.8 687.7L240.5 686.1L241.2 684.8L241.9 684.1L242.6 684.1L243.3 684.4L244 685.1L244.7 686L245.4 687L246.1 688L246.8 688.9L247.4 689.7L248.1 690.3L248.8 690.8L249.5 691.2L250.2 691.4L250.9 691.6L251.6 691.7L252.3 691.7Z" fill="#9b12f0"/><path d="M181.5 691.8Q184.5 690.2 187.5 691.8Z" fill="#9b12f0"/><text x="314.9" y="686.3" font-size="6.8" text-anchor="end" font-style="italic" fill="#333">mta-B</text><path d="M168.3 703.6H315.7" stroke="#e6cdf7" stroke-width="1.1"/><path d="M236.3 703.6L236.9 703.6L237.5 703.6L238.1 703.5L238.7 703.4L239.4 703.3L240 703.1L240.6 702.9L241.2 702.7L241.8 702.6L242.4 702.6L243.1 702.6L243.7 702.7L244.3 702.8L244.9 703L245.5 703.1L246.2 703.2L246.8 703.3L247.4 703.4L248 703.5L248.6 703.5L249.3 703.6L249.9 703.6L250.5 703.6L251.1 703.6Z" fill="#9b12f0"/><text x="314.9" y="698.1" font-size="6.8" text-anchor="end" font-style="italic" fill="#333">mta-D</text><text x="176" y="615.8" font-size="6.6" fill="#333">[0–1,053]</text><text x="268.6" y="615.8" font-size="7.1" fill="#333">500 bp</text><path d="M268.6 617.4H290.4" stroke="#444" stroke-width="0.8"/><path d="M176.2 708.8H253.1" stroke="#1414c4" stroke-width="2.6"/><rect x="181.2" y="706.7" width="8.8" height="4.2" rx="0.8" fill="#1414c4"/><rect x="233" y="706.7" width="8.7" height="4.2" rx="0.8" fill="#1414c4"/><text x="219.7" y="717.8" font-size="6.9" text-anchor="middle" fill="#333">AT4G10300</text><path d="M204.3 720.8H227.4" stroke="#4a5a80" stroke-width="0.8"/><path d="M229.4 720.8l-3 -1.5v3z" fill="#4a5a80"/><text x="336" y="590" font-size="13" font-weight="bold" fill="#000" stroke="#000" stroke-width="0.55">k</text><rect x="375.6" y="601.2" width="113.2" height="104.2" fill="none" stroke="#999" stroke-width="0.9"/><text x="368.8" y="694.4" font-size="8.7" text-anchor="end" fill="#1e1e1e">0</text><text x="368.8" y="668" font-size="8.7" text-anchor="end" fill="#1e1e1e">200</text><text x="368.8" y="641.6" font-size="8.7" text-anchor="end" fill="#1e1e1e">400</text><text x="368.8" y="615.2" font-size="8.7" text-anchor="end" fill="#1e1e1e">600</text><path d="M372.6 691.4H375.6M372.6 665H375.6M372.6 638.6H375.6M372.6 612.2H375.6" stroke="#999" stroke-width="0.8"/><text transform="translate(344.0 650.5) rotate(-90)" font-size="10.2" text-anchor="middle" fill="#1e1e1e">m<tspan font-size="6.8" dy="-3.9">6</tspan><tspan dy="3.9">A intensity (B/D)</tspan></text><path d="M376.1 691.4L378.6 692.1L381.1 690.1L383.6 690.7L386.1 689.4L388.6 690.7L392.3 691.4L396 691.4L398.5 687.4L401 680.8L402.8 678.2L404.3 679.5L406 687.4L407.8 690.1L410.3 686.1L412.2 680.8L414.2 687.4L417.7 690.7L420.2 686.1L422.2 680.8L424.2 683.5L426.7 686.1L429.2 687.4L432.2 686.1L434.7 687.4L437.2 686.8L439.7 688.1L442.2 687.4L444.7 688.1L447.2 688.1L449.1 686.1L451.6 679.5L454.1 671.6L455.9 667L457.1 665L458.6 667.6L460.1 672.9L461.6 676.9L463.4 674.2L464.6 679.5L466.6 688.8L468.3 690.7L472.1 691.4L479.6 691.4L482.1 690.7L483.3 683.5L484 680.8L485 686.1L486.5 690.7L488.8 691.4" stroke="#f7a94c" stroke-width="1.0" fill="none" stroke-linejoin="round"/><path d="M376.1 691.4L378.6 692.1L381.1 691.4L383.6 690.7L386.1 691.4L392.3 691.4L396 691.4L398.5 687.4L401 679.5L402.8 671.6L404.3 676.9L406 687.4L407.8 690.1L410.3 686.1L412.2 678.2L414.2 686.1L417.7 690.7L420.2 687.4L422.2 683.5L424.2 686.1L426.7 687.4L429.2 688.1L432.2 686.8L434.7 688.1L437.2 687.4L439.7 688.8L442.2 688.1L444.7 688.8L447.2 688.8L449.1 686.1L451.6 680.8L454.1 675.6L455.9 672.9L457.1 671.6L458.6 674.2L460.1 678.2L461.6 676.9L463.4 651.8L464.1 638.6L465.1 665L466.6 687.4L468.3 690.7L472.1 691.4L484.5 691.4L487 690.7L488.8 691.4" stroke="#3cc8ef" stroke-width="1.0" fill="none" stroke-linejoin="round"/><path d="M376.1 691.4L377.8 692.7L379.8 687.4L381.3 681.5L382.8 686.1L384.3 683.5L385.6 681.5L387.3 690.1L391.1 691.4L396 691.4L398.5 686.1L401 672.9L402.8 670.3L404.3 675.6L406 686.1L407.8 688.8L410.3 684.8L412.2 676.9L414.2 686.1L417.7 690.7L420.2 684.8L422.2 679.5L424.2 682.2L426.7 684.1L429.2 686.1L432.2 684.8L434.7 686.1L437.2 685.5L439.7 686.8L442.2 686.1L444.7 686.8L447.2 687.4L449.1 683.5L451.6 665L454.1 638.6L455.9 617.5L457.1 605.6L458.4 617.5L459.6 645.2L461.1 658.4L462.6 654.4L464.1 637.3L465.1 658.4L466.6 686.1L468.3 690.7L472.1 691.4L479.6 691.4L484.5 691.4L487 690.1L488.8 690.7" stroke="#3dd6b0" stroke-width="1.0" fill="none" stroke-linejoin="round"/><path d="M376.1 691.4L377.3 696.7L378.6 699.3L380.3 694L382.3 692.7L384.3 694L386.1 692.1L387.8 691.4L394.8 691.4L397.8 686.1L399.8 675.6L401.5 666.3L403 669L404.8 678.2L406.5 687.4L408.5 689.4L410.5 684.8L412.2 677.5L414.2 686.1L417.7 690.7L419.7 687.4L421.7 676.9L423.5 683.5L426 684.8L428.5 686.1L430.9 682.2L433.4 684.8L435.9 685.5L438.4 686.1L440.9 685.5L443.4 686.1L445.9 687.4L448.4 688.8L450.1 682.2L452.1 665L454.6 641.2L456.6 625.4L457.9 621.4L459.1 628L460.9 651.8L462.6 665L464.1 671.6L465.8 686.1L467.6 690.7L472.1 691.4L479.6 691.4L484.5 691.4L487 691.4L488.8 690.7" stroke="#a020f0" stroke-width="1.0" fill="none" stroke-linejoin="round"/><path d="M384.3 607.9H392.3" stroke="#3dd6b0" stroke-width="1.3"/><text x="395" y="610.4" font-size="7.0" fill="#1e1e1e">WT</text><path d="M384.3 618.6H392.3" stroke="#f7a94c" stroke-width="1.3"/><text x="395" y="621.1" font-size="7.0" font-style="italic" fill="#1e1e1e">cry1cry2</text><path d="M384.3 629.8H392.3" stroke="#3cc8ef" stroke-width="1.3"/><text x="395" y="632.3" font-size="7.0" font-style="italic" fill="#1e1e1e">fio1-1</text><path d="M384.3 640.6H392.3" stroke="#a020f0" stroke-width="1.3"/><text x="395" y="643.1" font-size="7.0" font-style="italic" fill="#1e1e1e">mta</text><text x="465.3" y="613.3" font-size="8.4" fill="#222">n = 7</text><rect x="395.5" y="707.9" width="20.5" height="6.2" fill="#8f8f8f"/><rect x="416" y="707.9" width="32.9" height="6.2" fill="#1a8f1a"/><rect x="448.9" y="707.9" width="20.7" height="6.2" fill="#8f8f8f"/><text x="405.7" y="712.8" font-size="4.8" text-anchor="middle" fill="#fff">5′ UTR</text><text x="432.4" y="712.8" font-size="4.8" text-anchor="middle" fill="#fff">CDS</text><text x="459.2" y="712.8" font-size="4.8" text-anchor="middle" fill="#fff">3′ UTR</text><path d="M510.2 580.4H513.1V587.4Q513.1 588.1 514.5 588.1V590.2H512.7Q510.2 590.2 510.2 587.9Z" fill="#000"/><text x="617.9" y="590" font-size="13" font-weight="bold" textLength="11.6" lengthAdjust="spacingAndGlyphs" fill="#000" stroke="#000" stroke-width="0.55">m</text><path d="M536.2 598.2V695.5H601.2" stroke="#999" stroke-width="0.9" fill="none"/><text x="531.6" y="601.7" font-size="8.8" text-anchor="end" fill="#1e1e1e">3</text><text x="531.6" y="633.6" font-size="8.8" text-anchor="end" fill="#1e1e1e">2</text><text x="531.6" y="665.6" font-size="8.8" text-anchor="end" fill="#1e1e1e">1</text><text x="531.6" y="698.1" font-size="8.8" text-anchor="end" fill="#1e1e1e">0</text><path d="M533.2 598.6H536.2M533.2 630.5H536.2M533.2 662.5H536.2M533.2 695H536.2M543.5 695.5V698.5M560.5 695.5V698.5M577.4 695.5V698.5M594.1 695.5V698.5" stroke="#999" stroke-width="0.8"/><text transform="translate(518.5 647) rotate(-90)" font-size="9.0" text-anchor="middle" fill="#1e1e1e">TS (B/D)</text><text transform="translate(547.1 706.3) rotate(-45)" font-size="9.4" text-anchor="end" fill="#1e1e1e">WT</text><text transform="translate(564.1 706.3) rotate(-45)" font-size="9.4" text-anchor="end" fill="#1e1e1e" font-style="italic">cry1cry2</text><text transform="translate(581 706.3) rotate(-45)" font-size="9.4" text-anchor="end" fill="#1e1e1e" font-style="italic">fio1-1</text><text transform="translate(597.7 706.3) rotate(-45)" font-size="9.4" text-anchor="end" fill="#1e1e1e" font-style="italic">mta</text><path d="M542.7 620.2L541.7 621.2L541.2 622.5L541.1 625.5L541.7 628L542.2 630.5L542.3 634L542.4 638L542.5 641.6L544.5 641.6L544.6 638L544.7 634L544.8 630.5L545.3 628L545.9 625.5L545.8 622.5L545.3 621.2L544.3 620.2Z" fill="#1fc28e"/><path d="M540.9 626.3H546.1" stroke="#333" stroke-width="0.7"/><path d="M559.7 660.3L559.3 661.5L559 664L558.4 666L558.2 669L558.5 671L559.2 673L559.3 676L559.4 679L561.6 679L561.7 676L561.8 673L562.5 671L562.8 669L562.6 666L562 664L561.7 661.5L561.3 660.3Z" fill="#f59a3a"/><path d="M557.9 669.5H563.1" stroke="#333" stroke-width="0.7"/><path d="M575 647L575.1 649L575.6 651L576.1 653L576.6 656L576.2 659L576 661L576.3 664L576.5 667L576.7 670.8L578.1 670.8L578.3 667L578.5 664L578.8 661L578.6 659L578.2 656L578.7 653L579.2 651L579.7 649L579.8 647Z" fill="#2ec4ee"/><path d="M574.8 652.3H580" stroke="#333" stroke-width="0.7"/><path d="M593.6 607.4L593.5 612L593.4 618L593.3 624L593.1 628L592.7 632L592.1 636L591.7 640L591.7 643L591.8 644.9L596.4 644.9L596.5 643L596.5 640L596.1 636L595.5 632L595.1 628L594.9 624L594.8 618L594.7 612L594.6 607.4Z" fill="#9a14ee"/><path d="M591.5 637.4H596.7" stroke="#333" stroke-width="0.7"/><text x="555" y="610.9" font-size="9.0" fill="#222"><tspan font-style="italic">n</tspan> = 7</text><text transform="translate(546.5 667.5) rotate(-39)" font-size="5.4" fill="#222">P = 2.6E-5</text><text transform="translate(567.5 650) rotate(-39)" font-size="5.4" fill="#222">P = 0.0006</text><text transform="translate(581.5 614.5) rotate(-39)" font-size="5.4" fill="#222">P = 0.549</text><path d="M652.4 598.2V695.5H715.6" stroke="#999" stroke-width="0.9" fill="none"/><text x="647.8" y="601.7" font-size="8.8" text-anchor="end" fill="#1e1e1e">20</text><text x="647.8" y="626" font-size="8.8" text-anchor="end" fill="#1e1e1e">15</text><text x="647.8" y="649.7" font-size="8.8" text-anchor="end" fill="#1e1e1e">10</text><text x="647.8" y="674" font-size="8.8" text-anchor="end" fill="#1e1e1e">5</text><text x="647.8" y="698.2" font-size="8.8" text-anchor="end" fill="#1e1e1e">0</text><path d="M649.4 598.6H652.4M649.4 622.9H652.4M649.4 646.6H652.4M649.4 670.9H652.4M649.4 695.1H652.4M658.4 695.5V698.5M675.3 695.5V698.5M692.5 695.5V698.5M709 695.5V698.5" stroke="#999" stroke-width="0.8"/><text transform="translate(628 647) rotate(-90)" font-size="9.0" text-anchor="middle" fill="#1e1e1e">Protein abundance (B/D)</text><text transform="translate(662 706.3) rotate(-45)" font-size="9.4" text-anchor="end" fill="#1e1e1e">WT</text><text transform="translate(678.9 706.3) rotate(-45)" font-size="9.4" text-anchor="end" fill="#1e1e1e" font-style="italic">cry1cry2</text><text transform="translate(696.1 706.3) rotate(-45)" font-size="9.4" text-anchor="end" fill="#1e1e1e" font-style="italic">fio1-1</text><text transform="translate(712.6 706.3) rotate(-45)" font-size="9.4" text-anchor="end" fill="#1e1e1e" font-style="italic">mta</text><path d="M657.8 634.4L657.8 650L657.8 665L657.5 670L657 674L656.4 678L655.9 681L655.8 686L655.8 689L661 689L661 686L660.9 681L660.4 678L659.8 674L659.3 670L659 665L659 650L659 634.4Z" fill="#1fc28e"/><path d="M655.8 685H661" stroke="#333" stroke-width="0.7"/><path d="M674 679L673.9 681L674 683L673.5 684.5L672.9 686.5L672.9 689L673.1 691L677.5 691L677.7 689L677.7 686.5L677.1 684.5L676.6 683L676.7 681L676.6 679Z" fill="#f59a3a"/><path d="M672.7 687.3H677.9" stroke="#333" stroke-width="0.7"/><path d="M691.7 648.7L692 650L692.1 655L692.2 662L691.9 668L691.5 674L690.9 680L690.3 684L690.2 687L690.2 689L694.8 689L694.8 687L694.7 684L694.1 680L693.5 674L693.1 668L692.8 662L692.9 655L693 650L693.3 648.7Z" fill="#2ec4ee"/><path d="M689.9 688.6H695.1" stroke="#333" stroke-width="0.7"/><path d="M708.2 615L708.4 618L708.7 624L708.7 640L708.5 650L708 660L707.4 670L706.7 678L706.5 684L706.5 689L711.5 689L711.5 684L711.3 678L710.6 670L710 660L709.5 650L709.3 640L709.3 624L709.6 618L709.8 615Z" fill="#9a14ee"/><path d="M706.4 681.2H711.6" stroke="#333" stroke-width="0.7"/><text x="667.8" y="610.9" font-size="9.0" fill="#222"><tspan font-style="italic">n</tspan> = 7</text><text transform="translate(668.6 676.2) rotate(-39)" font-size="5.4" fill="#222">P = 0.016</text><text transform="translate(684.4 647.6) rotate(-39)" font-size="5.4" fill="#222">P = 0.0016</text><text transform="translate(704.4 615.2) rotate(-39)" font-size="5.4" fill="#222">P = 0.84</text></svg></body></html>
